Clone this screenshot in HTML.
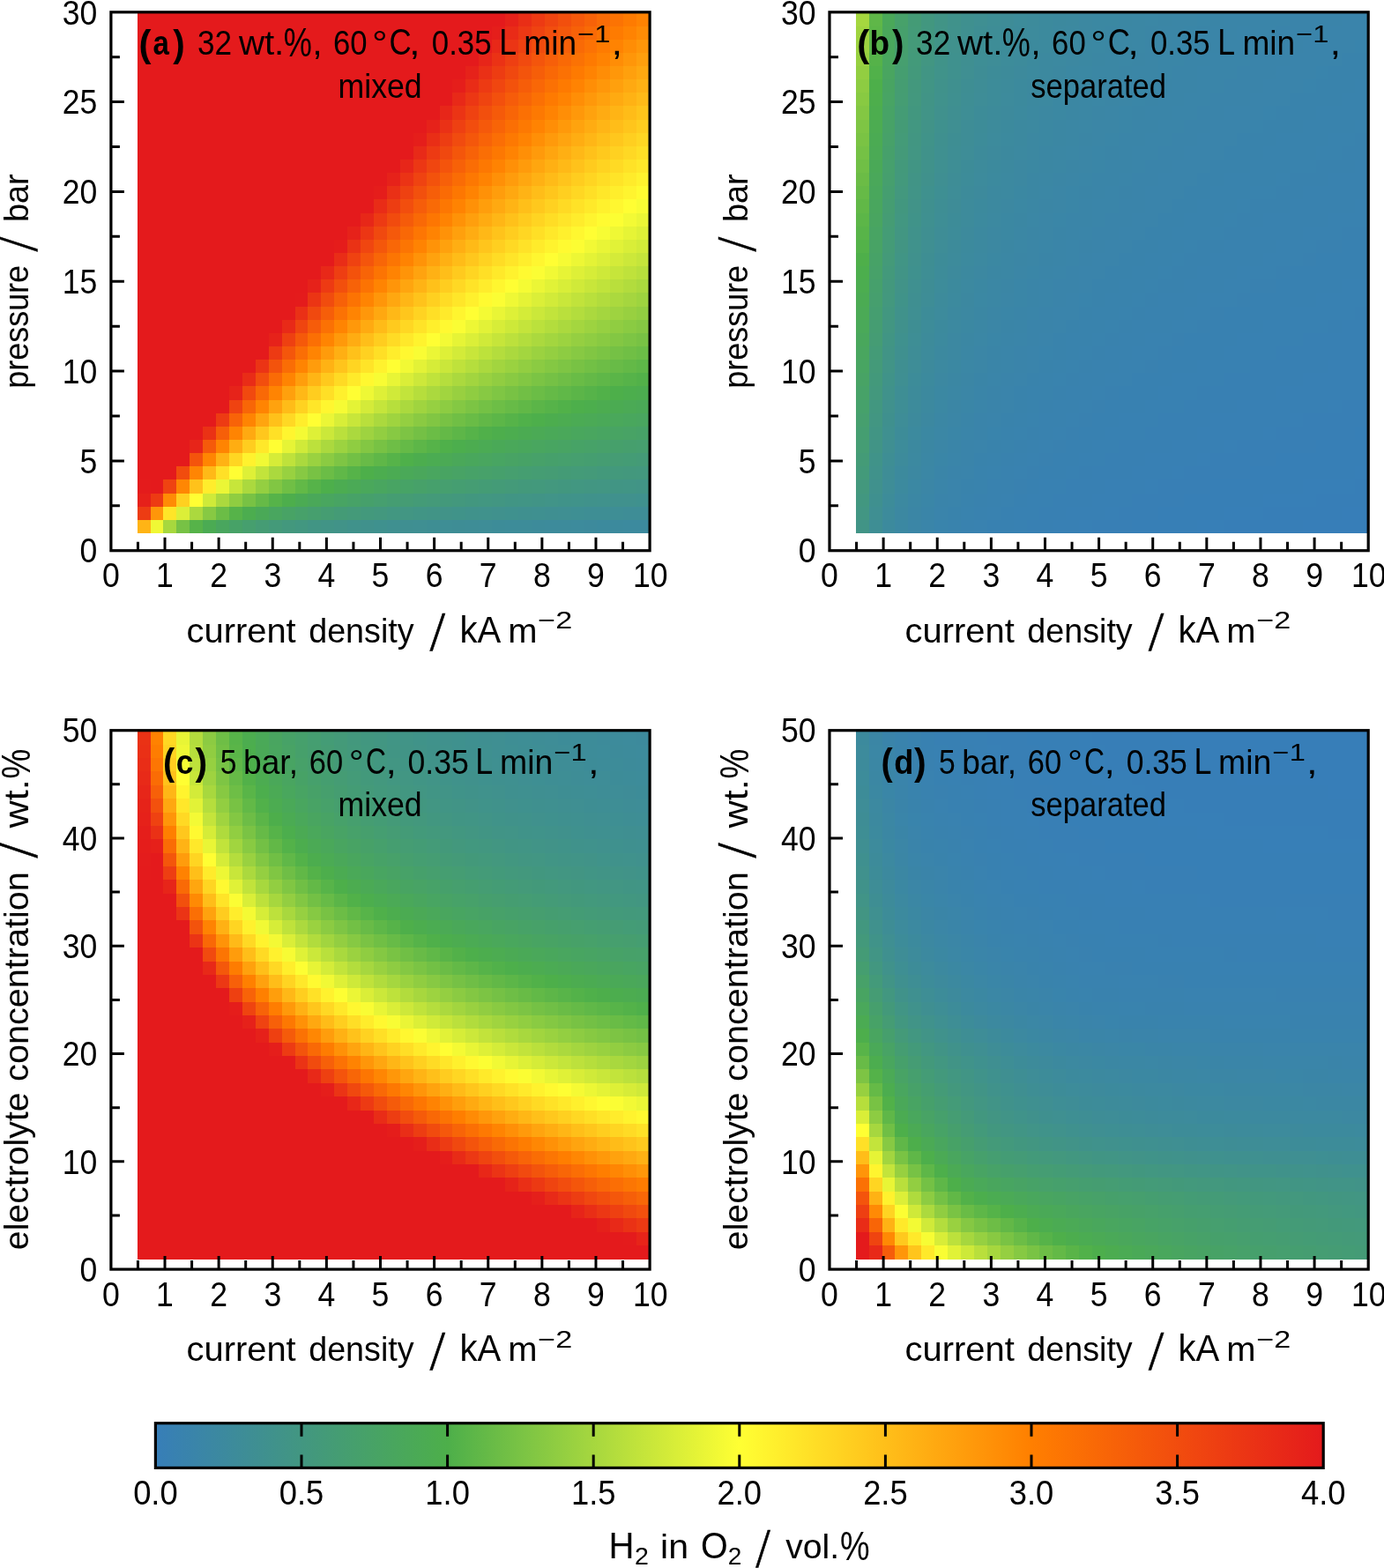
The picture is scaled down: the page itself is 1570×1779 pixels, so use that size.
<!DOCTYPE html>
<html lang="en"><head><meta charset="utf-8"><title>H2 in O2 heatmaps</title>
<style>html,body{margin:0;padding:0;background:#fff}svg{display:block}text{font-family:"Liberation Sans",sans-serif;fill:#000}.t{font-size:38.7px}.l{font-size:39.5px}.sl{font-family:"DejaVu Sans",sans-serif;font-weight:200;stroke:#000;stroke-width:.5px}.ax{fill:none;stroke:#000;stroke-width:3.2;stroke-linejoin:miter}.tk{fill:none;stroke:#000;stroke-width:3}</style></head><body>
<svg width="1570" height="1779" viewBox="0 0 1570 1779">
<rect width="1570" height="1779" fill="#fff"/>
<g shape-rendering="crispEdges">
<path fill="#ffb415" d="M156 590h15v15h-15zM573 226h15v16h-15zM692 120h15v16h-15z"/>
<path fill="#f0f835" d="M171 590h14v15h-14z"/>
<path fill="#a7d83e" d="M185 590h15v15h-15z"/>
<path fill="#77c245" d="M200 590h15v15h-15z"/>
<path fill="#56b349" d="M215 590h15v15h-15zM260 575h15v15h-15zM305 560h15v15h-15zM349 544h15v16h-15zM394 529h15v15h-15zM439 514h15v15h-15zM484 499h15v15h-15zM528 484h15v15h-15zM573 469h15v15h-15zM618 454h15v15h-15zM663 438h14v16h-14zM707 423h15v15h-15z"/>
<path fill="#4bab53" d="M230 590h15v15h-15zM335 560h14v15h-14zM439 529h15v15h-15z"/>
<path fill="#49a65e" d="M245 590h15v15h-15z"/>
<path fill="#47a267" d="M260 590h15v15h-15zM394 560h15v15h-15zM722 484h15v15h-15z"/>
<path fill="#469f6e" d="M275 590h15v15h-15zM349 575h15v15h-15z"/>
<path fill="#459c74" d="M290 590h15v15h-15zM454 560h15v15h-15zM618 529h15v15h-15zM692 514h15v15h-15z"/>
<path fill="#449a79" d="M305 590h15v15h-15zM394 575h15v15h-15zM484 560h15v15h-15zM573 544h15v16h-15zM663 529h14v15h-14z"/>
<path fill="#43987d" d="M320 590h15v15h-15zM513 560h15v15h-15zM707 529h15v15h-15z"/>
<path fill="#429780" d="M335 590h14v15h-14z"/>
<path fill="#419584" d="M349 590h15v15h-15zM573 560h15v15h-15zM692 544h15v16h-15z"/>
<path fill="#419486" d="M364 590h15v15h-15zM484 575h15v15h-15zM603 560h15v15h-15zM722 544h15v16h-15z"/>
<path fill="#419388" d="M379 590h15v15h-15zM499 575h14v15h-14z"/>
<path fill="#40928b" d="M394 590h15v15h-15zM528 575h15v15h-15zM663 560h14v15h-14z"/>
<path fill="#40918c" d="M409 590h15v15h-15z"/>
<path fill="#3f918e" d="M424 590h15v15h-15zM573 575h15v15h-15zM722 560h15v15h-15z"/>
<path fill="#3f9090" d="M439 590h15v15h-15zM603 575h15v15h-15z"/>
<path fill="#3f8f91" d="M454 590h15v15h-15zM618 575h15v15h-15z"/>
<path fill="#3f8f92" d="M469 590h15v15h-15zM633 575h15v15h-15z"/>
<path fill="#3e8e93" d="M484 590h15v15h-15z"/>
<path fill="#3e8e95" d="M499 590h14v15h-14zM692 575h15v15h-15z"/>
<path fill="#3e8d95" d="M513 590h15v15h-15z"/>
<path fill="#3e8d96" d="M528 590h15v15h-15zM707 575h30v15h-30z"/>
<path fill="#3e8d97" d="M543 590h15v15h-15z"/>
<path fill="#3d8c98" d="M558 590h15v15h-15z"/>
<path fill="#3d8c99" d="M573 590h30v15h-30z"/>
<path fill="#3d8b9a" d="M603 590h15v15h-15z"/>
<path fill="#3d8b9b" d="M618 590h30v15h-30z"/>
<path fill="#3d8b9c" d="M648 590h15v15h-15z"/>
<path fill="#3d8a9c" d="M663 590h14v15h-14z"/>
<path fill="#3c8a9d" d="M677 590h30v15h-30z"/>
<path fill="#3c8a9e" d="M707 590h30v15h-30z"/>
<path fill="#ed3c13" d="M156 575h15v15h-15z"/>
<path fill="#ff9609" d="M171 575h14v15h-14zM424 332h15v16h-15zM707 60h15v15h-15zM722 45h15v15h-15z"/>
<path fill="#ffe528" d="M185 575h15v15h-15z"/>
<path fill="#dcef38" d="M200 575h15v15h-15zM677 287h15v15h-15z"/>
<path fill="#abd93e" d="M215 575h15v15h-15zM245 560h15v15h-15zM275 544h15v16h-15zM305 529h15v15h-15zM335 514h14v15h-14zM364 499h15v15h-15zM394 484h15v15h-15zM424 469h15v15h-15zM454 454h15v15h-15zM484 438h15v16h-15zM513 423h15v15h-15zM543 408h15v15h-15zM573 393h15v15h-15zM603 378h15v15h-15zM633 363h15v15h-15zM663 348h14v15h-14zM692 332h15v16h-15zM722 317h15v15h-15z"/>
<path fill="#87c943" d="M230 575h15v15h-15zM335 529h14v15h-14zM439 484h15v15h-15zM543 438h15v16h-15zM648 393h15v15h-15z"/>
<path fill="#6bbd46" d="M245 575h15v15h-15zM364 529h15v15h-15zM484 484h15v15h-15zM603 438h15v16h-15zM722 393h15v15h-15z"/>
<path fill="#4cad4f" d="M275 575h15v15h-15zM424 529h15v15h-15zM573 484h15v15h-15zM722 438h15v16h-15z"/>
<path fill="#4aa957" d="M290 575h15v15h-15zM558 499h15v15h-15zM722 454h15v15h-15z"/>
<path fill="#49a65f" d="M305 575h15v15h-15zM364 560h15v15h-15zM424 544h15v16h-15zM484 529h15v15h-15zM543 514h15v15h-15zM603 499h15v15h-15zM663 484h14v15h-14zM722 469h15v15h-15z"/>
<path fill="#48a365" d="M320 575h15v15h-15zM513 529h15v15h-15zM707 484h15v15h-15z"/>
<path fill="#47a16a" d="M335 575h14v15h-14zM543 529h15v15h-15zM677 499h15v15h-15z"/>
<path fill="#459d72" d="M364 575h15v15h-15zM439 560h15v15h-15zM677 514h15v15h-15z"/>
<path fill="#449b76" d="M379 575h15v15h-15zM633 529h15v15h-15z"/>
<path fill="#43997c" d="M409 575h15v15h-15zM603 544h15v16h-15zM692 529h15v15h-15z"/>
<path fill="#43987e" d="M424 575h15v15h-15zM618 544h15v16h-15zM722 529h15v15h-15z"/>
<path fill="#429781" d="M439 575h15v15h-15zM543 560h15v15h-15zM648 544h15v16h-15z"/>
<path fill="#429683" d="M454 575h15v15h-15zM677 544h15v16h-15z"/>
<path fill="#419585" d="M469 575h15v15h-15zM588 560h15v15h-15zM707 544h15v16h-15z"/>
<path fill="#409389" d="M513 575h15v15h-15zM633 560h15v15h-15z"/>
<path fill="#40928c" d="M543 575h15v15h-15zM677 560h15v15h-15z"/>
<path fill="#40918d" d="M558 575h15v15h-15zM692 560h30v15h-30z"/>
<path fill="#3f908f" d="M588 575h15v15h-15z"/>
<path fill="#3e8f93" d="M648 575h15v15h-15z"/>
<path fill="#3e8e94" d="M663 575h29v15h-29z"/>
<path fill="#e6201a" d="M156 560h15v15h-15z"/>
<path fill="#ed3b13" d="M171 560h14v15h-14zM245 469h15v15h-15z"/>
<path fill="#ff8b05" d="M185 560h15v15h-15z"/>
<path fill="#ffd020" d="M200 560h15v15h-15zM484 332h15v16h-15z"/>
<path fill="#ffff33" d="M215 560h15v15h-15z"/>
<path fill="#cfea39" d="M230 560h15v15h-15z"/>
<path fill="#8fcd41" d="M260 560h15v15h-15zM394 499h15v15h-15zM528 438h15v16h-15z"/>
<path fill="#78c244" d="M275 560h15v15h-15zM349 529h15v15h-15zM424 499h15v15h-15zM499 469h14v15h-14zM573 438h15v16h-15zM648 408h15v15h-15zM722 378h15v15h-15z"/>
<path fill="#66ba47" d="M290 560h15v15h-15z"/>
<path fill="#4dae4c" d="M320 560h15v15h-15zM558 484h15v15h-15z"/>
<path fill="#4aa859" d="M349 560h15v15h-15zM513 514h15v15h-15z"/>
<path fill="#48a463" d="M379 560h15v15h-15zM439 544h15v16h-15zM633 499h15v15h-15zM692 484h15v15h-15z"/>
<path fill="#46a06b" d="M409 560h15v15h-15zM618 514h15v15h-15zM692 499h15v15h-15z"/>
<path fill="#469f6f" d="M424 560h15v15h-15zM499 544h14v16h-14zM573 529h15v15h-15zM648 514h15v15h-15zM722 499h15v15h-15z"/>
<path fill="#449b77" d="M469 560h15v15h-15zM558 544h15v16h-15zM722 514h15v15h-15z"/>
<path fill="#43997b" d="M499 560h14v15h-14zM588 544h15v16h-15zM677 529h15v15h-15z"/>
<path fill="#42977f" d="M528 560h15v15h-15zM633 544h15v16h-15z"/>
<path fill="#429682" d="M558 560h15v15h-15zM663 544h14v16h-14z"/>
<path fill="#419488" d="M618 560h15v15h-15z"/>
<path fill="#40938a" d="M648 560h15v15h-15z"/>
<path fill="#e41b1c" d="M156 544h15v16h-15zM335 332h14v16h-14zM543 45h15v15h-15z"/>
<path fill="#e41a1c" d="M171 544h14v16h-14zM156 529h44v15h-44zM156 514h59v15h-59zM156 499h59v15h-59zM156 484h74v15h-74zM156 469h89v15h-89zM156 454h104v15h-104zM156 438h104v16h-104zM156 423h119v15h-119zM156 408h134v15h-134zM156 393h149v15h-149zM156 378h149v15h-149zM156 363h164v15h-164zM156 348h179v15h-179zM156 332h179v16h-179zM156 317h193v15h-193zM156 302h208v15h-208zM156 287h223v15h-223zM156 272h223v15h-223zM156 257h238v15h-238zM156 242h253v15h-253zM156 226h268v16h-268zM156 211h268v15h-268zM156 196h283v15h-283zM156 181h298v15h-298zM156 166h313v15h-313zM156 151h313v15h-313zM156 136h328v15h-328zM156 120h343v16h-343zM156 105h357v15h-357zM156 90h357v15h-357zM156 75h372v15h-372zM156 60h387v15h-387zM156 45h387v15h-387zM156 30h402v15h-402zM156 14h417v16h-417z"/>
<path fill="#ef4311" d="M185 544h15v16h-15zM260 454h15v15h-15zM469 196h15v15h-15zM603 30h15v15h-15z"/>
<path fill="#ff8703" d="M200 544h15v16h-15z"/>
<path fill="#ffc21b" d="M215 544h15v16h-15zM648 181h15v15h-15z"/>
<path fill="#ffed2c" d="M230 544h15v16h-15zM335 469h14v15h-14zM439 393h15v15h-15z"/>
<path fill="#ebf636" d="M245 544h15v16h-15zM364 469h15v15h-15zM484 393h15v15h-15zM603 317h15v15h-15zM722 242h15v15h-15z"/>
<path fill="#c7e63a" d="M260 544h15v16h-15z"/>
<path fill="#94cf41" d="M290 544h15v16h-15zM454 469h15v15h-15zM618 393h15v15h-15z"/>
<path fill="#81c643" d="M305 544h15v16h-15zM484 469h15v15h-15zM663 393h14v15h-14z"/>
<path fill="#70bf45" d="M320 544h15v16h-15zM513 469h15v15h-15zM707 393h15v15h-15z"/>
<path fill="#62b947" d="M335 544h14v16h-14z"/>
<path fill="#4daf4b" d="M364 544h15v16h-15zM603 469h15v15h-15zM648 454h15v15h-15z"/>
<path fill="#4cac51" d="M379 544h15v16h-15zM633 469h15v15h-15z"/>
<path fill="#4baa56" d="M394 544h15v16h-15zM663 469h14v15h-14z"/>
<path fill="#4aa85b" d="M409 544h15v16h-15zM692 469h15v15h-15z"/>
<path fill="#47a366" d="M454 544h15v16h-15zM648 499h15v15h-15z"/>
<path fill="#47a169" d="M469 544h15v16h-15zM603 514h15v15h-15z"/>
<path fill="#46a06c" d="M484 544h15v16h-15zM558 529h15v15h-15z"/>
<path fill="#459e71" d="M513 544h15v16h-15zM588 529h15v15h-15z"/>
<path fill="#459d73" d="M528 544h15v16h-15zM603 529h15v15h-15z"/>
<path fill="#449c75" d="M543 544h15v16h-15zM707 514h15v15h-15z"/>
<path fill="#f14c0e" d="M200 529h15v15h-15zM364 332h15v16h-15zM603 45h15v15h-15z"/>
<path fill="#ff8503" d="M215 529h15v15h-15z"/>
<path fill="#ffb917" d="M230 529h15v15h-15zM633 181h15v15h-15z"/>
<path fill="#ffe027" d="M245 529h15v15h-15z"/>
<path fill="#fffe33" d="M260 529h15v15h-15zM305 499h15v15h-15zM349 469h15v15h-15zM394 438h15v16h-15zM439 408h15v15h-15zM484 378h15v15h-15zM528 348h15v15h-15zM573 317h15v15h-15zM618 287h15v15h-15zM663 257h14v15h-14zM707 226h15v16h-15z"/>
<path fill="#def037" d="M275 529h15v15h-15zM349 484h15v15h-15zM424 438h15v16h-15zM499 393h14v15h-14zM573 348h15v15h-15zM648 302h15v15h-15zM722 257h15v15h-15z"/>
<path fill="#c2e43b" d="M290 529h15v15h-15zM454 438h15v16h-15zM618 348h15v15h-15z"/>
<path fill="#98d140" d="M320 529h15v15h-15z"/>
<path fill="#60b848" d="M379 529h15v15h-15zM633 438h15v16h-15z"/>
<path fill="#4daf4a" d="M409 529h15v15h-15zM692 438h15v16h-15z"/>
<path fill="#4aa958" d="M454 529h15v15h-15zM618 484h15v15h-15zM677 469h15v15h-15z"/>
<path fill="#4aa75b" d="M469 529h15v15h-15z"/>
<path fill="#48a462" d="M499 529h14v15h-14z"/>
<path fill="#47a268" d="M528 529h15v15h-15zM663 499h14v15h-14z"/>
<path fill="#449b78" d="M648 529h15v15h-15z"/>
<path fill="#f4540c" d="M215 514h15v15h-15zM499 181h14v15h-14z"/>
<path fill="#ff8502" d="M230 514h15v15h-15z"/>
<path fill="#ffb214" d="M245 514h15v15h-15zM364 408h15v15h-15zM707 105h15v15h-15z"/>
<path fill="#ffd622" d="M260 514h15v15h-15z"/>
<path fill="#fff22e" d="M275 514h15v15h-15zM424 408h15v15h-15zM573 302h15v15h-15zM722 196h15v15h-15z"/>
<path fill="#f1f935" d="M290 514h15v15h-15zM454 408h15v15h-15zM618 302h15v15h-15z"/>
<path fill="#d6ec38" d="M305 514h15v15h-15zM484 408h15v15h-15z"/>
<path fill="#bfe23b" d="M320 514h15v15h-15zM513 408h15v15h-15zM707 302h15v15h-15z"/>
<path fill="#9ad240" d="M349 514h15v15h-15zM573 408h15v15h-15z"/>
<path fill="#8bcb42" d="M364 514h15v15h-15zM603 408h15v15h-15z"/>
<path fill="#7ec544" d="M379 514h15v15h-15zM633 408h15v15h-15z"/>
<path fill="#72c045" d="M394 514h15v15h-15zM663 408h14v15h-14z"/>
<path fill="#68bb47" d="M409 514h15v15h-15zM692 408h15v15h-15z"/>
<path fill="#5fb748" d="M424 514h15v15h-15zM677 423h15v15h-15z"/>
<path fill="#4eb04a" d="M454 514h15v15h-15z"/>
<path fill="#4cad4e" d="M469 514h15v15h-15zM618 469h15v15h-15z"/>
<path fill="#4bac52" d="M484 514h15v15h-15z"/>
<path fill="#4baa55" d="M499 514h14v15h-14zM603 484h15v15h-15zM707 454h15v15h-15z"/>
<path fill="#49a75c" d="M528 514h15v15h-15zM588 499h15v15h-15z"/>
<path fill="#48a562" d="M558 514h15v15h-15z"/>
<path fill="#48a364" d="M573 514h15v15h-15z"/>
<path fill="#47a266" d="M588 514h15v15h-15z"/>
<path fill="#46a06d" d="M633 514h15v15h-15z"/>
<path fill="#459e70" d="M663 514h14v15h-14z"/>
<path fill="#e72519" d="M215 499h15v15h-15zM543 60h15v15h-15z"/>
<path fill="#f55a0a" d="M230 499h15v15h-15zM558 120h15v16h-15z"/>
<path fill="#ff8402" d="M245 499h15v15h-15zM260 484h15v15h-15zM275 469h15v15h-15zM290 454h15v15h-15zM305 438h15v16h-15zM320 423h15v15h-15zM335 408h14v15h-14zM349 393h15v15h-15zM364 378h15v15h-15zM379 363h15v15h-15zM394 348h15v15h-15zM409 332h15v16h-15zM424 317h15v15h-15z"/>
<path fill="#ffad12" d="M260 499h15v15h-15zM648 151h15v15h-15z"/>
<path fill="#ffcd1f" d="M275 499h15v15h-15zM349 438h15v16h-15zM424 378h15v15h-15zM499 317h14v15h-14zM573 257h15v15h-15zM648 196h15v15h-15zM722 136h15v15h-15z"/>
<path fill="#ffe82a" d="M290 499h15v15h-15zM454 378h15v15h-15zM618 257h15v15h-15zM722 181h15v15h-15z"/>
<path fill="#e6f436" d="M320 499h15v15h-15zM513 378h15v15h-15zM707 257h15v15h-15z"/>
<path fill="#d0ea39" d="M335 499h14v15h-14zM439 438h15v16h-15zM543 378h15v15h-15zM648 317h15v15h-15z"/>
<path fill="#bce13c" d="M349 499h15v15h-15zM573 378h15v15h-15z"/>
<path fill="#9cd340" d="M379 499h15v15h-15zM633 378h15v15h-15z"/>
<path fill="#83c743" d="M409 499h15v15h-15zM692 378h15v15h-15z"/>
<path fill="#6ebe46" d="M439 499h15v15h-15z"/>
<path fill="#65ba47" d="M454 499h15v15h-15zM618 438h15v16h-15z"/>
<path fill="#5db648" d="M469 499h15v15h-15zM513 484h15v15h-15z"/>
<path fill="#4fb04a" d="M499 499h14v15h-14z"/>
<path fill="#4cae4d" d="M513 499h15v15h-15zM663 454h14v15h-14zM707 438h15v16h-15z"/>
<path fill="#4cac50" d="M528 499h15v15h-15zM677 454h15v15h-15z"/>
<path fill="#4bab54" d="M543 499h15v15h-15zM648 469h15v15h-15z"/>
<path fill="#4aa85a" d="M573 499h15v15h-15zM633 484h15v15h-15z"/>
<path fill="#48a561" d="M618 499h15v15h-15zM677 484h15v15h-15z"/>
<path fill="#469f6d" d="M707 499h15v15h-15z"/>
<path fill="#ea3215" d="M230 484h15v15h-15zM394 272h15v15h-15z"/>
<path fill="#f65f09" d="M245 484h15v15h-15z"/>
<path fill="#ffa911" d="M275 484h15v15h-15zM558 226h15v16h-15zM707 90h15v15h-15z"/>
<path fill="#ffc71d" d="M290 484h15v15h-15zM528 287h15v15h-15zM692 151h15v15h-15z"/>
<path fill="#ffe026" d="M305 484h15v15h-15z"/>
<path fill="#fff52f" d="M320 484h15v15h-15zM513 348h15v15h-15z"/>
<path fill="#f4fa34" d="M335 484h14v15h-14zM543 348h15v15h-15z"/>
<path fill="#cbe83a" d="M364 484h15v15h-15zM603 348h15v15h-15z"/>
<path fill="#bae03c" d="M379 484h15v15h-15zM633 348h15v15h-15z"/>
<path fill="#9ed340" d="M409 484h15v15h-15zM692 348h15v15h-15z"/>
<path fill="#92ce41" d="M424 484h15v15h-15zM588 408h15v15h-15zM722 348h15v15h-15z"/>
<path fill="#7dc444" d="M454 484h15v15h-15z"/>
<path fill="#74c045" d="M469 484h15v15h-15z"/>
<path fill="#64b947" d="M499 484h14v15h-14zM663 423h14v15h-14z"/>
<path fill="#50b04a" d="M543 484h15v15h-15z"/>
<path fill="#4bab52" d="M588 484h15v15h-15zM692 454h15v15h-15z"/>
<path fill="#49a75d" d="M648 484h15v15h-15zM707 469h15v15h-15z"/>
<path fill="#f86308" d="M260 469h15v15h-15zM543 151h15v15h-15z"/>
<path fill="#ffa50f" d="M290 469h15v15h-15zM454 317h15v15h-15zM618 166h15v15h-15z"/>
<path fill="#ffc11a" d="M305 469h15v15h-15zM394 393h15v15h-15zM484 317h15v15h-15zM573 242h15v15h-15zM663 166h14v15h-14z"/>
<path fill="#ffd824" d="M320 469h15v15h-15zM513 317h15v15h-15zM707 166h15v15h-15z"/>
<path fill="#d8ee38" d="M379 469h15v15h-15zM633 317h15v15h-15z"/>
<path fill="#c8e63a" d="M394 469h15v15h-15zM528 393h15v15h-15zM663 317h14v15h-14z"/>
<path fill="#b9df3c" d="M409 469h15v15h-15zM692 317h15v15h-15z"/>
<path fill="#9fd43f" d="M439 469h15v15h-15z"/>
<path fill="#8aca42" d="M469 469h15v15h-15z"/>
<path fill="#69bc46" d="M528 469h15v15h-15zM648 423h15v15h-15z"/>
<path fill="#62b847" d="M543 469h15v15h-15z"/>
<path fill="#5cb648" d="M558 469h15v15h-15z"/>
<path fill="#50b14a" d="M588 469h15v15h-15z"/>
<path fill="#f86607" d="M275 454h15v15h-15zM424 287h15v15h-15zM588 105h15v15h-15z"/>
<path fill="#ffa20e" d="M305 454h15v15h-15zM484 287h15v15h-15zM663 120h14v16h-14z"/>
<path fill="#ffbc18" d="M320 454h15v15h-15zM513 287h15v15h-15zM707 120h15v16h-15z"/>
<path fill="#ffd221" d="M335 454h14v15h-14zM543 287h15v15h-15z"/>
<path fill="#ffe629" d="M349 454h15v15h-15zM513 332h15v16h-15z"/>
<path fill="#fff630" d="M364 454h15v15h-15zM603 287h15v15h-15z"/>
<path fill="#f6fb34" d="M379 454h15v15h-15zM633 287h15v15h-15z"/>
<path fill="#e4f336" d="M394 454h15v15h-15zM663 287h14v15h-14z"/>
<path fill="#d4eb39" d="M409 454h15v15h-15zM692 287h15v15h-15z"/>
<path fill="#c5e53b" d="M424 454h15v15h-15zM722 287h15v15h-15z"/>
<path fill="#b7df3c" d="M439 454h15v15h-15z"/>
<path fill="#a0d43f" d="M469 454h15v15h-15z"/>
<path fill="#96d041" d="M484 454h15v15h-15zM677 363h15v15h-15z"/>
<path fill="#8dcc42" d="M499 454h14v15h-14zM633 393h15v15h-15z"/>
<path fill="#84c843" d="M513 454h15v15h-15zM618 408h15v15h-15z"/>
<path fill="#7cc444" d="M528 454h15v15h-15z"/>
<path fill="#74c145" d="M543 454h15v15h-15z"/>
<path fill="#6dbe46" d="M558 454h15v15h-15z"/>
<path fill="#67bb47" d="M573 454h15v15h-15z"/>
<path fill="#61b847" d="M588 454h15v15h-15z"/>
<path fill="#5bb548" d="M603 454h15v15h-15zM648 438h15v16h-15z"/>
<path fill="#51b149" d="M633 454h15v15h-15zM677 438h15v16h-15z"/>
<path fill="#e6231a" d="M260 438h15v16h-15z"/>
<path fill="#f1490f" d="M275 438h15v16h-15z"/>
<path fill="#f96906" d="M290 438h15v16h-15zM469 242h15v15h-15zM633 60h15v15h-15z"/>
<path fill="#ffa00d" d="M320 438h15v16h-15zM513 257h15v15h-15zM692 90h15v15h-15zM707 75h15v15h-15z"/>
<path fill="#ffb817" d="M335 438h14v16h-14zM439 348h15v15h-15zM543 257h15v15h-15zM648 166h15v15h-15z"/>
<path fill="#ffdf26" d="M364 438h15v16h-15zM424 393h15v15h-15zM484 348h15v15h-15zM543 302h15v15h-15zM603 257h15v15h-15zM663 211h14v15h-14zM722 166h15v15h-15z"/>
<path fill="#fff02d" d="M379 438h15v16h-15zM528 332h15v16h-15zM633 257h15v15h-15z"/>
<path fill="#eef835" d="M409 438h15v16h-15z"/>
<path fill="#b6de3c" d="M469 438h15v16h-15z"/>
<path fill="#a1d53f" d="M499 438h14v16h-14z"/>
<path fill="#98d040" d="M513 438h15v16h-15zM707 348h15v15h-15z"/>
<path fill="#7fc644" d="M558 438h15v16h-15z"/>
<path fill="#71bf45" d="M588 438h15v16h-15z"/>
<path fill="#e92c17" d="M275 423h15v15h-15zM424 226h15v16h-15zM528 90h15v15h-15z"/>
<path fill="#f24e0e" d="M290 423h15v15h-15zM454 226h15v16h-15zM618 30h15v15h-15z"/>
<path fill="#fa6b06" d="M305 423h15v15h-15zM677 14h15v16h-15z"/>
<path fill="#ff9e0c" d="M335 423h14v15h-14zM543 226h15v16h-15z"/>
<path fill="#ffb515" d="M349 423h15v15h-15z"/>
<path fill="#ffc91d" d="M364 423h15v15h-15zM677 166h15v15h-15z"/>
<path fill="#ffda24" d="M379 423h15v15h-15zM633 226h15v16h-15zM692 181h15v15h-15z"/>
<path fill="#ffea2a" d="M394 423h15v15h-15z"/>
<path fill="#fff830" d="M409 423h15v15h-15zM454 393h15v15h-15z"/>
<path fill="#f8fc34" d="M424 423h15v15h-15zM722 226h15v16h-15z"/>
<path fill="#e8f536" d="M439 423h15v15h-15z"/>
<path fill="#daee38" d="M454 423h15v15h-15z"/>
<path fill="#cde83a" d="M469 423h15v15h-15z"/>
<path fill="#c0e33b" d="M484 423h15v15h-15zM677 317h15v15h-15z"/>
<path fill="#b5de3d" d="M499 423h14v15h-14zM528 408h15v15h-15z"/>
<path fill="#a2d53f" d="M528 423h15v15h-15zM558 408h15v15h-15z"/>
<path fill="#99d140" d="M543 423h15v15h-15z"/>
<path fill="#91cd41" d="M558 423h15v15h-15z"/>
<path fill="#89ca42" d="M573 423h15v15h-15zM677 378h15v15h-15z"/>
<path fill="#82c743" d="M588 423h15v15h-15z"/>
<path fill="#7bc444" d="M603 423h15v15h-15zM677 393h15v15h-15z"/>
<path fill="#75c145" d="M618 423h15v15h-15zM692 393h15v15h-15z"/>
<path fill="#6fbe46" d="M633 423h15v15h-15z"/>
<path fill="#5ab548" d="M692 423h15v15h-15z"/>
<path fill="#52b149" d="M722 423h15v15h-15z"/>
<path fill="#eb3415" d="M290 408h15v15h-15zM513 120h15v16h-15z"/>
<path fill="#f3530c" d="M305 408h15v15h-15z"/>
<path fill="#fa6d05" d="M320 408h15v15h-15zM528 181h15v15h-15z"/>
<path fill="#ff9c0c" d="M349 408h15v15h-15zM573 196h15v15h-15z"/>
<path fill="#ffc41c" d="M379 408h15v15h-15zM633 196h15v15h-15z"/>
<path fill="#ffd522" d="M394 408h15v15h-15zM528 302h15v15h-15zM663 196h14v15h-14z"/>
<path fill="#ffe428" d="M409 408h15v15h-15zM692 196h15v15h-15z"/>
<path fill="#e3f237" d="M469 408h15v15h-15z"/>
<path fill="#cae73a" d="M499 408h14v15h-14z"/>
<path fill="#6dbd46" d="M677 408h15v15h-15z"/>
<path fill="#63b947" d="M707 408h15v15h-15z"/>
<path fill="#5eb748" d="M722 408h15v15h-15z"/>
<path fill="#ed3a13" d="M305 393h15v15h-15zM364 317h15v15h-15zM424 242h15v15h-15zM484 166h15v15h-15zM543 90h15v15h-15zM603 14h15v16h-15z"/>
<path fill="#f4560b" d="M320 393h15v15h-15zM513 166h15v15h-15zM618 45h15v15h-15z"/>
<path fill="#fa6e05" d="M335 393h14v15h-14zM543 166h15v15h-15z"/>
<path fill="#ff9b0b" d="M364 393h15v15h-15zM588 181h15v15h-15z"/>
<path fill="#ffaf13" d="M379 393h15v15h-15zM633 166h15v15h-15z"/>
<path fill="#ffd121" d="M409 393h15v15h-15zM618 226h15v16h-15zM692 166h15v15h-15z"/>
<path fill="#f9fc34" d="M469 393h15v15h-15z"/>
<path fill="#d3eb39" d="M513 393h15v15h-15z"/>
<path fill="#bde23b" d="M543 393h15v15h-15z"/>
<path fill="#b4dd3d" d="M558 393h15v15h-15z"/>
<path fill="#a3d63f" d="M588 393h15v15h-15zM618 378h15v15h-15z"/>
<path fill="#9bd240" d="M603 393h15v15h-15z"/>
<path fill="#e6221a" d="M305 378h15v15h-15zM349 317h15v15h-15zM394 257h15v15h-15zM439 196h15v15h-15zM484 136h15v15h-15zM528 75h15v15h-15zM573 14h15v16h-15z"/>
<path fill="#ee4011" d="M320 378h15v15h-15z"/>
<path fill="#f5590a" d="M335 378h14v15h-14z"/>
<path fill="#fb6f04" d="M349 378h15v15h-15zM573 136h15v15h-15z"/>
<path fill="#ff990a" d="M379 378h15v15h-15zM633 136h15v15h-15z"/>
<path fill="#ffac12" d="M394 378h15v15h-15zM528 257h15v15h-15zM663 136h14v15h-14z"/>
<path fill="#ffbe19" d="M409 378h15v15h-15zM499 302h14v15h-14z"/>
<path fill="#ffdb25" d="M439 378h15v15h-15z"/>
<path fill="#fff32e" d="M469 378h15v15h-15zM618 272h15v15h-15z"/>
<path fill="#f3fa35" d="M499 378h14v15h-14zM707 242h15v15h-15z"/>
<path fill="#dbef38" d="M528 378h15v15h-15zM603 332h15v16h-15z"/>
<path fill="#c6e53a" d="M558 378h15v15h-15zM692 302h15v15h-15z"/>
<path fill="#b3dd3d" d="M588 378h15v15h-15zM618 363h15v15h-15zM648 348h15v15h-15z"/>
<path fill="#95cf41" d="M648 378h15v15h-15z"/>
<path fill="#8fcd42" d="M663 378h14v15h-14z"/>
<path fill="#7dc544" d="M707 378h15v15h-15z"/>
<path fill="#e82a18" d="M320 363h15v15h-15zM469 166h15v15h-15z"/>
<path fill="#ef4510" d="M335 363h14v15h-14zM618 14h15v16h-15z"/>
<path fill="#f65c0a" d="M349 363h15v15h-15zM573 105h15v15h-15z"/>
<path fill="#fb7104" d="M364 363h15v15h-15zM618 90h15v15h-15zM633 75h15v15h-15z"/>
<path fill="#ff980a" d="M394 363h15v15h-15zM648 120h15v16h-15zM663 105h14v15h-14z"/>
<path fill="#ffaa11" d="M409 363h15v15h-15zM692 105h15v15h-15z"/>
<path fill="#ffbb18" d="M424 363h15v15h-15zM618 196h15v15h-15z"/>
<path fill="#ffca1e" d="M439 363h15v15h-15zM513 302h15v15h-15z"/>
<path fill="#ffd723" d="M454 363h15v15h-15zM648 211h15v15h-15z"/>
<path fill="#ffe328" d="M469 363h15v15h-15zM528 317h15v15h-15z"/>
<path fill="#ffef2c" d="M484 363h15v15h-15z"/>
<path fill="#fff931" d="M499 363h14v15h-14z"/>
<path fill="#fafd34" d="M513 363h15v15h-15z"/>
<path fill="#edf735" d="M528 363h15v15h-15zM648 287h15v15h-15z"/>
<path fill="#e2f237" d="M543 363h15v15h-15z"/>
<path fill="#d7ed38" d="M558 363h15v15h-15z"/>
<path fill="#cde939" d="M573 363h15v15h-15z"/>
<path fill="#c4e43b" d="M588 363h15v15h-15z"/>
<path fill="#bbe13c" d="M603 363h15v15h-15z"/>
<path fill="#a4d63f" d="M648 363h15v15h-15zM677 348h15v15h-15z"/>
<path fill="#9dd340" d="M663 363h14v15h-14z"/>
<path fill="#90cd41" d="M692 363h15v15h-15z"/>
<path fill="#8acb42" d="M707 363h15v15h-15z"/>
<path fill="#85c843" d="M722 363h15v15h-15z"/>
<path fill="#ea3016" d="M335 348h14v15h-14zM439 211h15v15h-15zM543 75h15v15h-15z"/>
<path fill="#f0490f" d="M349 348h15v15h-15zM424 257h15v15h-15z"/>
<path fill="#f65e09" d="M364 348h15v15h-15zM484 211h15v15h-15zM603 75h15v15h-15z"/>
<path fill="#fb7204" d="M379 348h15v15h-15zM648 60h15v15h-15z"/>
<path fill="#ff970a" d="M409 348h15v15h-15zM677 90h15v15h-15z"/>
<path fill="#ffa810" d="M424 348h15v15h-15zM573 211h15v15h-15zM722 75h15v15h-15z"/>
<path fill="#ffc61c" d="M454 348h15v15h-15zM618 211h15v15h-15z"/>
<path fill="#ffd322" d="M469 348h15v15h-15z"/>
<path fill="#ffea2b" d="M499 348h14v15h-14z"/>
<path fill="#e9f536" d="M558 348h15v15h-15zM677 272h15v15h-15z"/>
<path fill="#d4ec38" d="M588 348h15v15h-15z"/>
<path fill="#eb3514" d="M349 332h15v16h-15z"/>
<path fill="#f76108" d="M379 332h15v16h-15zM513 181h15v15h-15zM648 30h15v15h-15z"/>
<path fill="#fc7303" d="M394 332h15v16h-15zM409 317h15v15h-15zM677 30h15v15h-15zM692 14h15v16h-15z"/>
<path fill="#ffa710" d="M439 332h15v16h-15zM588 196h15v15h-15z"/>
<path fill="#ffb616" d="M454 332h15v16h-15zM558 242h15v15h-15zM663 151h14v15h-14z"/>
<path fill="#ffc31b" d="M469 332h15v16h-15zM558 257h15v15h-15z"/>
<path fill="#ffdc25" d="M499 332h14v16h-14zM558 287h15v15h-15z"/>
<path fill="#fffa31" d="M543 332h15v16h-15zM588 302h15v15h-15zM633 272h15v15h-15z"/>
<path fill="#fbfd34" d="M558 332h15v16h-15zM603 302h15v15h-15z"/>
<path fill="#eff835" d="M573 332h15v16h-15zM692 257h15v15h-15z"/>
<path fill="#e5f336" d="M588 332h15v16h-15z"/>
<path fill="#d2eb39" d="M618 332h15v16h-15zM722 272h15v15h-15z"/>
<path fill="#c9e73a" d="M633 332h15v16h-15z"/>
<path fill="#c1e33b" d="M648 332h15v16h-15z"/>
<path fill="#b9e03c" d="M663 332h14v16h-14z"/>
<path fill="#b2dc3d" d="M677 332h15v16h-15zM707 317h15v15h-15z"/>
<path fill="#a5d63f" d="M707 332h15v16h-15z"/>
<path fill="#9ed43f" d="M722 332h15v16h-15z"/>
<path fill="#f24f0d" d="M379 317h15v15h-15zM543 120h15v16h-15zM633 14h15v16h-15z"/>
<path fill="#f76208" d="M394 317h15v15h-15zM528 166h15v15h-15zM663 14h14v16h-14z"/>
<path fill="#ff9509" d="M439 317h15v15h-15z"/>
<path fill="#ffb315" d="M469 317h15v15h-15zM588 211h15v15h-15z"/>
<path fill="#ffec2c" d="M543 317h15v15h-15zM648 242h15v15h-15z"/>
<path fill="#fff62f" d="M558 317h15v15h-15z"/>
<path fill="#f5fb34" d="M588 317h15v15h-15z"/>
<path fill="#e1f237" d="M618 317h15v15h-15zM692 272h15v15h-15z"/>
<path fill="#e82818" d="M364 302h15v15h-15zM558 45h15v15h-15z"/>
<path fill="#ee3e12" d="M379 302h15v15h-15z"/>
<path fill="#f3520c" d="M394 302h15v15h-15zM484 196h15v15h-15zM573 90h15v15h-15z"/>
<path fill="#f86407" d="M409 302h15v15h-15zM558 136h15v15h-15z"/>
<path fill="#fc7403" d="M424 302h15v15h-15z"/>
<path fill="#ff8302" d="M439 302h15v15h-15zM454 287h15v15h-15zM469 272h15v15h-15zM484 257h15v15h-15zM499 242h14v15h-14zM513 226h15v16h-15zM528 211h15v15h-15zM543 196h15v15h-15zM558 181h15v15h-15zM573 166h15v15h-15zM588 151h15v15h-15zM603 136h15v15h-15zM618 120h15v16h-15zM633 105h15v15h-15zM648 90h15v15h-15zM663 75h14v15h-14zM677 60h15v15h-15zM692 45h15v15h-15zM707 30h15v15h-15zM722 14h15v16h-15z"/>
<path fill="#ff9408" d="M454 302h15v15h-15z"/>
<path fill="#ffa30f" d="M469 302h15v15h-15z"/>
<path fill="#ffb114" d="M484 302h15v15h-15zM603 196h15v15h-15zM722 90h15v15h-15z"/>
<path fill="#ffe92a" d="M558 302h15v15h-15zM663 226h14v16h-14z"/>
<path fill="#e7f436" d="M633 302h15v15h-15z"/>
<path fill="#d6ed38" d="M663 302h14v15h-14z"/>
<path fill="#cee939" d="M677 302h15v15h-15z"/>
<path fill="#b8df3c" d="M722 302h15v15h-15z"/>
<path fill="#e92d17" d="M379 287h15v15h-15z"/>
<path fill="#ef4211" d="M394 287h15v15h-15zM528 120h15v16h-15z"/>
<path fill="#f4550c" d="M409 287h15v15h-15zM603 60h15v15h-15z"/>
<path fill="#fc7503" d="M439 287h15v15h-15zM454 272h15v15h-15z"/>
<path fill="#ff9308" d="M469 287h15v15h-15zM484 272h15v15h-15z"/>
<path fill="#ffb013" d="M499 287h14v15h-14zM618 181h15v15h-15z"/>
<path fill="#ffe529" d="M573 287h15v15h-15zM633 242h15v15h-15z"/>
<path fill="#ffee2c" d="M588 287h15v15h-15zM692 211h15v15h-15z"/>
<path fill="#cce83a" d="M707 287h15v15h-15z"/>
<path fill="#e51c1b" d="M379 272h15v15h-15z"/>
<path fill="#f04610" d="M409 272h15v15h-15zM484 181h15v15h-15zM558 90h15v15h-15z"/>
<path fill="#f4570b" d="M424 272h15v15h-15zM528 151h15v15h-15z"/>
<path fill="#f96707" d="M439 272h15v15h-15zM603 90h15v15h-15z"/>
<path fill="#ffa10d" d="M499 272h14v15h-14z"/>
<path fill="#ffae13" d="M513 272h15v15h-15z"/>
<path fill="#ffba17" d="M528 272h15v15h-15z"/>
<path fill="#ffc51c" d="M543 272h15v15h-15zM707 136h15v15h-15z"/>
<path fill="#ffcf20" d="M558 272h15v15h-15zM633 211h15v15h-15zM707 151h15v15h-15z"/>
<path fill="#ffd924" d="M573 272h15v15h-15z"/>
<path fill="#ffe228" d="M588 272h15v15h-15z"/>
<path fill="#ffeb2b" d="M603 272h15v15h-15zM707 196h15v15h-15z"/>
<path fill="#fcfd33" d="M648 272h15v15h-15z"/>
<path fill="#f2f935" d="M663 272h14v15h-14z"/>
<path fill="#d9ee38" d="M707 272h15v15h-15z"/>
<path fill="#ec3614" d="M409 257h15v15h-15z"/>
<path fill="#f5590b" d="M439 257h15v15h-15zM543 136h15v15h-15zM648 14h15v16h-15z"/>
<path fill="#f96806" d="M454 257h15v15h-15zM618 75h15v15h-15z"/>
<path fill="#fd7603" d="M469 257h15v15h-15z"/>
<path fill="#ff9208" d="M499 257h14v15h-14z"/>
<path fill="#ffd623" d="M588 257h15v15h-15zM722 151h15v15h-15z"/>
<path fill="#fff730" d="M648 257h15v15h-15zM692 226h15v16h-15z"/>
<path fill="#f7fc34" d="M677 257h15v15h-15z"/>
<path fill="#e72718" d="M409 242h15v15h-15z"/>
<path fill="#f14b0e" d="M439 242h15v15h-15z"/>
<path fill="#f55b0a" d="M454 242h15v15h-15z"/>
<path fill="#fd7602" d="M484 242h15v15h-15z"/>
<path fill="#ff9207" d="M513 242h15v15h-15z"/>
<path fill="#ff9f0d" d="M528 242h15v15h-15zM722 60h15v15h-15z"/>
<path fill="#ffab11" d="M543 242h15v15h-15z"/>
<path fill="#ffcb1e" d="M588 242h15v15h-15zM663 181h14v15h-14z"/>
<path fill="#ffd422" d="M603 242h15v15h-15z"/>
<path fill="#ffdd25" d="M618 242h15v15h-15zM677 196h15v15h-15z"/>
<path fill="#fff42f" d="M663 242h14v15h-14zM707 211h15v15h-15z"/>
<path fill="#fffb31" d="M677 242h15v15h-15zM722 211h15v15h-15z"/>
<path fill="#fcfe33" d="M692 242h15v15h-15z"/>
<path fill="#ed3d12" d="M439 226h15v16h-15zM499 151h14v15h-14z"/>
<path fill="#f65d0a" d="M469 226h15v16h-15z"/>
<path fill="#f96a06" d="M484 226h15v16h-15zM648 45h15v15h-15zM663 30h14v15h-14z"/>
<path fill="#fd7702" d="M499 226h14v16h-14zM513 211h15v15h-15z"/>
<path fill="#ff9107" d="M528 226h15v16h-15zM543 211h15v15h-15z"/>
<path fill="#ffbf19" d="M588 226h15v16h-15zM677 151h15v15h-15z"/>
<path fill="#ffc81d" d="M603 226h15v16h-15z"/>
<path fill="#ffe227" d="M648 226h15v16h-15zM707 181h15v15h-15z"/>
<path fill="#fff12d" d="M677 226h15v16h-15z"/>
<path fill="#e51d1b" d="M424 211h15v15h-15z"/>
<path fill="#ee4111" d="M454 211h15v15h-15zM588 45h15v15h-15z"/>
<path fill="#f2500d" d="M469 211h15v15h-15z"/>
<path fill="#fa6b05" d="M499 211h14v15h-14z"/>
<path fill="#ff9d0c" d="M558 211h15v15h-15z"/>
<path fill="#ffbd19" d="M603 211h15v15h-15zM692 136h15v15h-15z"/>
<path fill="#ffe729" d="M677 211h15v15h-15z"/>
<path fill="#eb3315" d="M454 196h15v15h-15z"/>
<path fill="#f76009" d="M499 196h14v15h-14zM633 45h15v15h-15z"/>
<path fill="#fa6c05" d="M513 196h15v15h-15z"/>
<path fill="#fd7802" d="M528 196h15v15h-15zM543 181h15v15h-15zM558 166h15v15h-15z"/>
<path fill="#ff9007" d="M558 196h15v15h-15zM573 181h15v15h-15z"/>
<path fill="#e72619" d="M454 181h15v15h-15zM499 120h14v16h-14z"/>
<path fill="#ec3714" d="M469 181h15v15h-15zM528 105h15v15h-15z"/>
<path fill="#ffa60f" d="M603 181h15v15h-15z"/>
<path fill="#ffd321" d="M677 181h15v15h-15z"/>
<path fill="#f0480f" d="M499 166h14v15h-14zM573 75h15v15h-15z"/>
<path fill="#ff8f06" d="M588 166h15v15h-15zM603 151h15v15h-15z"/>
<path fill="#ff9a0b" d="M603 166h15v15h-15zM618 151h15v15h-15z"/>
<path fill="#e51e1b" d="M469 151h15v15h-15zM513 90h15v15h-15zM558 30h15v15h-15z"/>
<path fill="#e92e16" d="M484 151h15v15h-15zM588 14h15v16h-15z"/>
<path fill="#f14b0f" d="M513 151h15v15h-15z"/>
<path fill="#fb6e05" d="M558 151h15v15h-15z"/>
<path fill="#fd7902" d="M573 151h15v15h-15zM588 136h15v15h-15zM603 120h15v16h-15z"/>
<path fill="#ffa40f" d="M633 151h15v15h-15z"/>
<path fill="#ea3116" d="M499 136h14v15h-14z"/>
<path fill="#ee4012" d="M513 136h15v15h-15z"/>
<path fill="#f24d0e" d="M528 136h15v15h-15z"/>
<path fill="#ff8e06" d="M618 136h15v15h-15zM633 120h15v16h-15zM648 105h15v15h-15zM663 90h14v15h-14z"/>
<path fill="#ffa30e" d="M648 136h15v15h-15z"/>
<path fill="#ffb516" d="M677 136h15v15h-15z"/>
<path fill="#f86507" d="M573 120h15v16h-15z"/>
<path fill="#fb7004" d="M588 120h15v16h-15zM603 105h15v15h-15z"/>
<path fill="#ffab12" d="M677 120h15v16h-15z"/>
<path fill="#ffc41b" d="M722 120h15v16h-15z"/>
<path fill="#e82918" d="M513 105h15v15h-15z"/>
<path fill="#ef4410" d="M543 105h15v15h-15z"/>
<path fill="#f3500d" d="M558 105h15v15h-15z"/>
<path fill="#fe7a01" d="M618 105h15v15h-15zM633 90h15v15h-15zM648 75h15v15h-15zM663 60h14v15h-14z"/>
<path fill="#ffa10e" d="M677 105h15v15h-15z"/>
<path fill="#ffba18" d="M722 105h15v15h-15z"/>
<path fill="#f65d09" d="M588 90h15v15h-15z"/>
<path fill="#ed3c12" d="M558 75h15v15h-15z"/>
<path fill="#f3540c" d="M588 75h15v15h-15z"/>
<path fill="#ff8d06" d="M677 75h15v15h-15zM692 60h15v15h-15z"/>
<path fill="#ff9709" d="M692 75h15v15h-15z"/>
<path fill="#eb3215" d="M558 60h15v15h-15z"/>
<path fill="#ee3f12" d="M573 60h15v15h-15z"/>
<path fill="#f14a0f" d="M588 60h15v15h-15z"/>
<path fill="#f75f09" d="M618 60h15v15h-15z"/>
<path fill="#eb3515" d="M573 45h15v15h-15z"/>
<path fill="#fc7204" d="M663 45h14v15h-14z"/>
<path fill="#fe7b01" d="M677 45h15v15h-15zM692 30h15v15h-15zM707 14h15v16h-15z"/>
<path fill="#ff8d05" d="M707 45h15v15h-15z"/>
<path fill="#e92b17" d="M573 30h15v15h-15z"/>
<path fill="#ec3814" d="M588 30h15v15h-15z"/>
<path fill="#f4580b" d="M633 30h15v15h-15z"/>
<path fill="#ff8c05" d="M722 30h15v15h-15z"/>
</g>
<g shape-rendering="crispEdges">
<path fill="#419486" d="M971 590h15v15h-15zM986 499h15v15h-15zM1001 393h14v15h-14zM1015 302h15v15h-15zM1030 196h15v15h-15zM1045 105h15v15h-15zM1060 14h15v16h-15z"/>
<path fill="#3e8e94" d="M986 590h15v15h-15zM1001 514h14v15h-14zM1015 438h15v16h-15zM1045 302h15v15h-15zM1060 226h15v16h-15zM1075 166h15v15h-15zM1090 105h15v15h-15zM1105 45h15v15h-15z"/>
<path fill="#3c8a9d" d="M1001 590h14v15h-14zM1015 529h15v15h-15zM1045 423h15v15h-15zM1060 363h15v15h-15zM1075 317h15v15h-15zM1090 272h15v15h-15zM1105 226h15v16h-15zM1120 181h15v15h-15zM1135 136h15v15h-15zM1150 105h15v15h-15zM1150 90h15v15h-15zM1165 60h14v15h-14zM1165 45h14v15h-14zM1179 30h15v15h-15zM1179 14h15v16h-15z"/>
<path fill="#3b88a2" d="M1015 590h15v15h-15zM1045 484h15v15h-15zM1060 438h15v16h-15zM1075 408h15v15h-15zM1090 363h15v15h-15zM1105 317h15v15h-15zM1120 287h15v15h-15zM1135 257h15v15h-15zM1135 242h15v15h-15zM1150 211h15v15h-15zM1165 181h14v15h-14zM1179 151h15v15h-15zM1179 136h15v15h-15zM1194 120h15v16h-15zM1194 105h15v15h-15zM1209 90h15v15h-15zM1209 75h15v15h-15zM1224 60h15v15h-15zM1224 45h15v15h-15zM1239 30h15v15h-15zM1239 14h30v16h-30z"/>
<path fill="#3b86a6" d="M1030 590h15v15h-15zM1045 544h15v16h-15zM1060 499h15v15h-15zM1075 469h15v15h-15zM1090 438h15v16h-15zM1105 408h15v15h-15zM1105 393h15v15h-15zM1120 363h15v15h-15zM1135 332h15v16h-15zM1150 302h15v15h-15zM1165 287h14v15h-14zM1165 272h14v15h-14zM1179 257h15v15h-15zM1179 242h15v15h-15zM1194 226h15v16h-15zM1194 211h15v15h-15zM1209 196h15v15h-15zM1224 181h15v15h-15zM1224 166h15v15h-15zM1239 151h15v15h-15zM1239 136h30v15h-30zM1254 120h15v16h-15zM1269 105h15v15h-15zM1269 90h30v15h-30zM1284 75h30v15h-30zM1299 60h15v15h-15zM1299 45h30v15h-30zM1314 30h29v15h-29zM1329 14h29v16h-29z"/>
<path fill="#3a85a9" d="M1045 590h15v15h-15zM1060 544h15v16h-15zM1075 514h15v15h-15zM1090 484h15v15h-15zM1105 454h15v15h-15zM1120 423h15v15h-15zM1135 408h15v15h-15zM1135 393h15v15h-15zM1150 378h15v15h-15zM1165 348h14v15h-14zM1179 332h15v16h-15zM1179 317h15v15h-15zM1194 302h15v15h-15zM1209 287h15v15h-15zM1209 272h15v15h-15zM1224 257h15v15h-15zM1239 242h15v15h-15zM1239 226h30v16h-30zM1254 211h15v15h-15zM1269 196h15v15h-15zM1284 181h15v15h-15zM1284 166h30v15h-30zM1299 151h30v15h-30zM1314 136h29v15h-29zM1329 120h29v16h-29zM1343 105h30v15h-30zM1358 90h30v15h-30zM1358 75h45v15h-45zM1373 60h45v15h-45zM1388 45h45v15h-45zM1403 30h45v15h-45zM1418 14h45v16h-45z"/>
<path fill="#3984ac" d="M1060 590h15v15h-15zM1120 484h15v15h-15zM1179 393h15v15h-15zM1224 332h15v16h-15zM1418 136h15v15h-15zM1433 120h15v16h-15zM1478 90h15v15h-15zM1493 75h14v15h-14zM1537 45h15v15h-15z"/>
<path fill="#3983ad" d="M1075 590h15v15h-15zM1090 560h15v15h-15zM1105 544h15v16h-15zM1105 529h15v15h-15zM1120 514h15v15h-15zM1135 499h15v15h-15zM1135 484h15v15h-15zM1150 469h15v15h-15zM1165 454h14v15h-14zM1165 438h29v16h-29zM1179 423h15v15h-15zM1194 408h15v15h-15zM1209 393h15v15h-15zM1209 378h30v15h-30zM1224 363h30v15h-30zM1239 348h30v15h-30zM1254 332h30v16h-30zM1269 317h30v15h-30zM1284 302h30v15h-30zM1299 287h30v15h-30zM1314 272h29v15h-29zM1329 257h44v15h-44zM1343 242h45v15h-45zM1358 226h45v16h-45zM1373 211h45v15h-45zM1388 196h60v15h-60zM1418 181h45v15h-45zM1433 166h60v15h-60zM1448 151h59v15h-59zM1478 136h59v15h-59zM1493 120h59v16h-59zM1522 105h30v15h-30zM1537 90h15v15h-15z"/>
<path fill="#3982af" d="M1090 590h15v15h-15zM1105 575h15v15h-15zM1120 560h15v15h-15zM1120 544h30v16h-30zM1135 529h15v15h-15zM1150 514h15v15h-15zM1165 499h14v15h-14zM1179 484h15v15h-15zM1179 469h30v15h-30zM1194 454h30v15h-30zM1209 438h30v16h-30zM1224 423h30v15h-30zM1239 408h30v15h-30zM1254 393h30v15h-30zM1269 378h30v15h-30zM1284 363h45v15h-45zM1299 348h44v15h-44zM1314 332h44v16h-44zM1343 317h45v15h-45zM1358 302h45v15h-45zM1373 287h60v15h-60zM1388 272h60v15h-60zM1418 257h60v15h-60zM1433 242h74v15h-74zM1463 226h74v16h-74zM1478 211h74v15h-74zM1507 196h45v15h-45zM1537 181h15v15h-15z"/>
<path fill="#3982b0" d="M1105 590h15v15h-15zM1120 575h15v15h-15zM1135 560h15v15h-15zM1150 529h15v15h-15zM1165 514h14v15h-14zM1179 499h15v15h-15zM1194 484h15v15h-15zM1209 469h15v15h-15zM1224 454h15v15h-15zM1239 438h15v16h-15zM1254 423h30v15h-30zM1269 408h30v15h-30zM1284 393h30v15h-30zM1299 378h30v15h-30zM1329 363h29v15h-29zM1343 348h30v15h-30zM1358 332h45v16h-45zM1388 317h30v15h-30zM1403 302h45v15h-45zM1433 287h45v15h-45zM1448 272h45v15h-45zM1478 257h44v15h-44zM1507 242h45v15h-45zM1537 226h15v16h-15z"/>
<path fill="#3881b1" d="M1120 590h30v15h-30zM1135 575h15v15h-15zM1150 560h15v15h-15zM1165 544h14v16h-14zM1179 529h30v15h-30zM1194 514h30v15h-30zM1209 499h30v15h-30zM1224 484h30v15h-30zM1239 469h30v15h-30zM1254 454h45v15h-45zM1269 438h45v16h-45zM1284 423h45v15h-45zM1314 408h44v15h-44zM1329 393h59v15h-59zM1343 378h60v15h-60zM1373 363h60v15h-60zM1388 348h75v15h-75zM1418 332h75v16h-75zM1448 317h74v15h-74zM1463 302h89v15h-89zM1493 287h59v15h-59zM1522 272h30v15h-30z"/>
<path fill="#3881b2" d="M1150 590h15v15h-15zM1150 575h29v15h-29zM1165 560h29v15h-29zM1179 544h30v16h-30zM1209 529h15v15h-15zM1224 514h30v15h-30zM1239 499h30v15h-30zM1254 484h45v15h-45zM1269 469h45v15h-45zM1299 454h44v15h-44zM1314 438h44v16h-44zM1329 423h59v15h-59zM1358 408h60v15h-60zM1388 393h60v15h-60zM1403 378h75v15h-75zM1433 363h74v15h-74zM1463 348h74v15h-74zM1493 332h59v16h-59zM1522 317h30v15h-30z"/>
<path fill="#3880b3" d="M1165 590h29v15h-29zM1179 575h30v15h-30zM1194 560h45v15h-45zM1209 544h45v16h-45zM1239 529h45v15h-45zM1254 514h45v15h-45zM1269 499h60v15h-60zM1299 484h59v15h-59zM1314 469h59v15h-59zM1343 454h60v15h-60zM1373 438h75v16h-75zM1388 423h90v15h-90zM1418 408h89v15h-89zM1448 393h104v15h-104zM1478 378h74v15h-74zM1522 363h30v15h-30z"/>
<path fill="#3880b4" d="M1194 590h30v15h-30zM1209 575h45v15h-45zM1239 560h45v15h-45zM1254 544h45v16h-45zM1284 529h45v15h-45zM1299 514h59v15h-59zM1329 499h59v15h-59zM1358 484h75v15h-75zM1373 469h90v15h-90zM1403 454h104v15h-104zM1448 438h104v16h-104zM1478 423h74v15h-74zM1507 408h45v15h-45z"/>
<path fill="#3880b5" d="M1224 590h15v15h-15zM1254 575h15v15h-15zM1299 544h15v16h-15zM1329 529h14v15h-14zM1358 514h15v15h-15zM1388 499h15v15h-15zM1433 484h15v15h-15zM1463 469h15v15h-15zM1507 454h15v15h-15z"/>
<path fill="#387fb5" d="M1239 590h45v15h-45zM1269 575h45v15h-45zM1284 560h59v15h-59zM1314 544h59v16h-59zM1343 529h75v15h-75zM1373 514h75v15h-75zM1403 499h90v15h-90zM1448 484h89v15h-89zM1478 469h74v15h-74zM1522 454h30v15h-30z"/>
<path fill="#377fb6" d="M1284 590h74v15h-74zM1314 575h74v15h-74zM1343 560h90v15h-90zM1373 544h105v16h-105zM1418 529h119v15h-119zM1448 514h104v15h-104zM1493 499h59v15h-59zM1537 484h15v15h-15z"/>
<path fill="#377fb7" d="M1358 590h30v15h-30zM1388 575h45v15h-45zM1433 560h60v15h-60zM1478 544h59v16h-59zM1537 529h15v15h-15z"/>
<path fill="#377eb7" d="M1388 590h90v15h-90zM1433 575h89v15h-89zM1493 560h59v15h-59zM1537 544h15v16h-15z"/>
<path fill="#377eb8" d="M1478 590h74v15h-74zM1522 575h30v15h-30z"/>
<path fill="#429683" d="M971 575h15v15h-15zM1030 166h15v15h-15z"/>
<path fill="#3f8f92" d="M986 575h15v15h-15zM1001 499h14v15h-14zM1015 423h15v15h-15zM1030 348h15v15h-15zM1045 272h15v15h-15zM1060 196h15v15h-15zM1075 136h15v15h-15zM1090 75h15v15h-15zM1105 14h15v16h-15z"/>
<path fill="#3d8b9b" d="M1001 575h14v15h-14zM1015 514h15v15h-15zM1030 454h15v15h-15zM1045 393h15v15h-15zM1060 332h15v16h-15zM1075 287h15v15h-15zM1090 242h15v15h-15zM1090 226h15v16h-15zM1105 181h15v15h-15zM1120 136h15v15h-15zM1135 90h15v15h-15zM1150 60h15v15h-15zM1150 45h15v15h-15zM1165 14h14v16h-14z"/>
<path fill="#3c88a1" d="M1015 575h15v15h-15zM1030 529h15v15h-15zM1060 423h15v15h-15zM1075 393h15v15h-15zM1075 378h15v15h-15zM1090 348h15v15h-15zM1105 302h15v15h-15zM1120 272h15v15h-15zM1120 257h15v15h-15zM1135 226h15v16h-15zM1150 196h15v15h-15zM1150 181h15v15h-15zM1165 166h14v15h-14zM1165 151h14v15h-14zM1179 120h15v16h-15zM1194 90h15v15h-15zM1209 60h15v15h-15zM1209 45h15v15h-15zM1224 30h15v15h-15zM1224 14h15v16h-15z"/>
<path fill="#3b86a5" d="M1030 575h15v15h-15zM1075 454h15v15h-15zM1090 423h15v15h-15zM1120 348h15v15h-15zM1135 317h15v15h-15zM1150 287h15v15h-15zM1165 257h14v15h-14zM1179 226h15v16h-15zM1194 196h15v15h-15zM1209 181h15v15h-15zM1224 151h15v15h-15zM1239 120h15v16h-15zM1254 105h15v15h-15zM1269 75h15v15h-15zM1284 60h15v15h-15zM1299 30h15v15h-15zM1314 14h15v16h-15z"/>
<path fill="#3a85a8" d="M1045 575h15v15h-15zM1060 529h15v15h-15zM1075 499h15v15h-15zM1090 469h15v15h-15zM1105 438h15v16h-15zM1120 408h15v15h-15zM1135 378h15v15h-15zM1150 363h15v15h-15zM1150 348h15v15h-15zM1165 332h14v16h-14zM1165 317h14v15h-14zM1179 302h15v15h-15zM1194 287h15v15h-15zM1194 272h15v15h-15zM1209 257h15v15h-15zM1209 242h30v15h-30zM1224 226h15v16h-15zM1239 211h15v15h-15zM1239 196h30v15h-30zM1254 181h30v15h-30zM1269 166h15v15h-15zM1269 151h30v15h-30zM1284 136h30v15h-30zM1299 120h30v16h-30zM1314 105h29v15h-29zM1329 90h29v15h-29zM1329 75h29v15h-29zM1343 60h30v15h-30zM1358 45h30v15h-30zM1373 30h30v15h-30zM1388 14h30v16h-30z"/>
<path fill="#3a84ab" d="M1060 575h15v15h-15zM1075 560h15v15h-15zM1075 544h15v16h-15zM1090 529h15v15h-15zM1105 499h15v15h-15zM1120 469h15v15h-15zM1135 454h15v15h-15zM1135 438h15v16h-15zM1150 423h15v15h-15zM1165 408h14v15h-14zM1165 393h14v15h-14zM1179 378h15v15h-15zM1194 363h15v15h-15zM1194 348h30v15h-30zM1209 332h15v16h-15zM1224 317h15v15h-15zM1224 302h30v15h-30zM1239 287h30v15h-30zM1254 272h30v15h-30zM1269 257h30v15h-30zM1284 242h30v15h-30zM1299 226h30v16h-30zM1299 211h44v15h-44zM1314 196h44v15h-44zM1329 181h44v15h-44zM1343 166h45v15h-45zM1358 151h45v15h-45zM1373 136h45v15h-45zM1388 120h45v16h-45zM1418 105h45v15h-45zM1433 90h45v15h-45zM1448 75h45v15h-45zM1463 60h59v15h-59zM1478 45h59v15h-59zM1507 30h45v15h-45zM1522 14h30v16h-30z"/>
<path fill="#3983ac" d="M1075 575h15v15h-15zM1090 544h15v16h-15zM1105 514h15v15h-15zM1120 499h15v15h-15zM1135 469h15v15h-15zM1150 454h15v15h-15zM1150 438h15v16h-15zM1165 423h14v15h-14zM1179 408h15v15h-15zM1194 393h15v15h-15zM1194 378h15v15h-15zM1209 363h15v15h-15zM1224 348h15v15h-15zM1239 332h15v16h-15zM1239 317h30v15h-30zM1254 302h30v15h-30zM1269 287h30v15h-30zM1284 272h30v15h-30zM1299 257h30v15h-30zM1314 242h29v15h-29zM1329 226h29v16h-29zM1343 211h30v15h-30zM1358 196h30v15h-30zM1373 181h45v15h-45zM1388 166h45v15h-45zM1403 151h45v15h-45zM1433 136h45v15h-45zM1448 120h45v16h-45zM1463 105h59v15h-59zM1493 90h44v15h-44zM1507 75h45v15h-45zM1522 60h30v15h-30z"/>
<path fill="#3983ae" d="M1090 575h15v15h-15zM1120 529h15v15h-15zM1150 484h15v15h-15zM1165 469h14v15h-14zM1194 423h15v15h-15zM1209 408h15v15h-15zM1224 393h15v15h-15zM1239 378h15v15h-15zM1254 363h15v15h-15zM1269 348h15v15h-15zM1284 332h15v16h-15zM1299 317h15v15h-15zM1314 302h15v15h-15zM1329 287h14v15h-14zM1343 272h15v15h-15zM1373 257h15v15h-15zM1388 242h15v15h-15zM1403 226h15v16h-15zM1418 211h30v15h-30zM1448 196h15v15h-15zM1463 181h30v15h-30zM1493 166h29v15h-29zM1507 151h30v15h-30zM1537 136h15v15h-15z"/>
<path fill="#429780" d="M971 560h15v15h-15zM986 454h15v15h-15zM1001 348h14v15h-14zM1045 30h15v15h-15z"/>
<path fill="#3f908f" d="M986 560h15v15h-15zM1015 393h15v15h-15zM1045 226h15v16h-15zM1060 151h15v15h-15zM1075 90h15v15h-15zM1090 14h15v16h-15z"/>
<path fill="#3d8c99" d="M1001 560h14v15h-14zM1030 423h15v15h-15zM1045 363h15v15h-15zM1060 302h15v15h-15zM1075 257h15v15h-15zM1090 196h15v15h-15zM1105 151h15v15h-15zM1120 105h15v15h-15zM1120 90h15v15h-15zM1135 45h15v15h-15z"/>
<path fill="#3c89a0" d="M1015 560h15v15h-15zM1030 514h15v15h-15zM1060 408h15v15h-15zM1075 363h15v15h-15zM1090 317h15v15h-15zM1105 287h15v15h-15zM1120 242h15v15h-15zM1135 211h15v15h-15zM1135 196h15v15h-15zM1150 166h15v15h-15zM1165 136h14v15h-14zM1165 120h14v16h-14zM1179 105h15v15h-15zM1179 90h15v15h-15zM1194 60h15v15h-15zM1209 30h15v15h-15z"/>
<path fill="#3b87a4" d="M1030 560h15v15h-15zM1045 514h15v15h-15zM1060 469h15v15h-15zM1075 438h15v16h-15zM1090 393h15v15h-15zM1105 363h15v15h-15zM1120 332h15v16h-15zM1120 317h15v15h-15zM1135 302h15v15h-15zM1135 287h15v15h-15zM1150 257h15v15h-15zM1165 226h14v16h-14zM1179 196h15v15h-15zM1194 181h15v15h-15zM1194 166h15v15h-15zM1209 151h15v15h-15zM1209 136h15v15h-15zM1224 120h15v16h-15zM1224 105h15v15h-15zM1239 90h15v15h-15zM1239 75h30v15h-30zM1254 60h15v15h-15zM1269 45h15v15h-15zM1269 30h30v15h-30zM1284 14h15v16h-15z"/>
<path fill="#3a86a7" d="M1045 560h15v15h-15zM1060 514h15v15h-15zM1075 484h15v15h-15zM1090 454h15v15h-15zM1120 378h15v15h-15zM1135 348h15v15h-15zM1150 332h15v16h-15zM1150 317h15v15h-15zM1165 302h14v15h-14zM1179 272h15v15h-15zM1194 242h15v15h-15zM1209 226h15v16h-15zM1209 211h15v15h-15zM1224 196h15v15h-15zM1239 181h15v15h-15zM1239 166h15v15h-15zM1254 151h15v15h-15zM1269 136h15v15h-15zM1269 120h15v16h-15zM1284 105h15v15h-15zM1299 90h15v15h-15zM1314 75h15v15h-15zM1314 60h29v15h-29zM1329 45h14v15h-14zM1343 30h15v15h-15zM1358 14h15v16h-15z"/>
<path fill="#3a84aa" d="M1060 560h15v15h-15zM1075 529h15v15h-15zM1090 514h15v15h-15zM1090 499h15v15h-15zM1105 484h15v15h-15zM1105 469h15v15h-15zM1120 454h15v15h-15zM1135 423h15v15h-15zM1150 408h15v15h-15zM1150 393h15v15h-15zM1165 378h14v15h-14zM1165 363h29v15h-29zM1179 348h15v15h-15zM1194 332h15v16h-15zM1194 317h30v15h-30zM1209 302h15v15h-15zM1224 287h15v15h-15zM1239 272h15v15h-15zM1239 257h30v15h-30zM1254 242h30v15h-30zM1269 226h30v16h-30zM1284 211h15v15h-15zM1284 196h30v15h-30zM1299 181h30v15h-30zM1314 166h29v15h-29zM1329 151h29v15h-29zM1343 136h30v15h-30zM1358 120h30v16h-30zM1373 105h45v15h-45zM1388 90h45v15h-45zM1403 75h45v15h-45zM1418 60h45v15h-45zM1433 45h45v15h-45zM1448 30h59v15h-59zM1463 14h59v16h-59z"/>
<path fill="#3982ae" d="M1105 560h15v15h-15zM1135 514h15v15h-15zM1150 499h15v15h-15zM1165 484h14v15h-14zM1179 454h15v15h-15zM1194 438h15v16h-15zM1209 423h15v15h-15zM1224 408h15v15h-15zM1239 393h15v15h-15zM1254 378h15v15h-15zM1269 363h15v15h-15zM1284 348h15v15h-15zM1299 332h15v16h-15zM1314 317h29v15h-29zM1329 302h29v15h-29zM1343 287h30v15h-30zM1358 272h30v15h-30zM1388 257h30v15h-30zM1403 242h30v15h-30zM1418 226h45v16h-45zM1448 211h30v15h-30zM1463 196h44v15h-44zM1493 181h44v15h-44zM1522 166h30v15h-30zM1537 151h15v15h-15z"/>
<path fill="#43987d" d="M971 544h15v16h-15zM986 438h15v16h-15zM1001 317h14v15h-14zM1030 90h15v15h-15z"/>
<path fill="#40918d" d="M986 544h15v16h-15zM1001 454h14v15h-14zM1030 287h15v15h-15zM1060 120h15v16h-15zM1075 45h15v15h-15z"/>
<path fill="#3e8d97" d="M1001 544h14v16h-14zM1015 469h15v15h-15zM1030 408h15v15h-15zM1060 272h15v15h-15zM1075 211h15v15h-15zM1090 166h15v15h-15zM1105 105h15v15h-15zM1120 60h15v15h-15zM1120 45h15v15h-15z"/>
<path fill="#3c8a9e" d="M1015 544h15v16h-15zM1030 484h15v15h-15zM1060 378h15v15h-15zM1075 332h15v16h-15zM1090 287h15v15h-15zM1105 242h15v15h-15zM1120 196h15v15h-15zM1135 151h15v15h-15zM1150 120h15v16h-15zM1165 75h14v15h-14zM1179 45h15v15h-15z"/>
<path fill="#3b88a3" d="M1030 544h15v16h-15zM1060 454h15v15h-15zM1105 332h15v16h-15zM1150 226h15v16h-15zM1224 75h15v15h-15zM1239 45h15v15h-15z"/>
<path fill="#3981b0" d="M1150 544h15v16h-15zM1165 529h14v15h-14zM1179 514h15v15h-15zM1194 499h15v15h-15zM1209 484h15v15h-15zM1224 469h15v15h-15zM1239 454h15v15h-15zM1254 438h15v16h-15zM1299 408h15v15h-15zM1314 393h15v15h-15zM1329 378h14v15h-14zM1358 363h15v15h-15zM1373 348h15v15h-15zM1403 332h15v16h-15zM1418 317h30v15h-30zM1448 302h15v15h-15zM1478 287h15v15h-15zM1493 272h29v15h-29zM1522 257h30v15h-30z"/>
<path fill="#439a7a" d="M971 529h15v15h-15zM1030 60h15v15h-15z"/>
<path fill="#40928b" d="M986 529h15v15h-15zM1001 438h14v16h-14zM1015 348h15v15h-15zM1030 257h15v15h-15zM1045 181h15v15h-15zM1060 90h15v15h-15zM1075 14h15v16h-15z"/>
<path fill="#3e8d96" d="M1001 529h14v15h-14zM1030 393h15v15h-15zM1045 332h15v16h-15zM1060 257h15v15h-15zM1075 196h15v15h-15zM1090 151h15v15h-15zM1090 136h15v15h-15zM1105 90h15v15h-15zM1120 30h15v15h-15z"/>
<path fill="#3b87a5" d="M1045 529h15v15h-15zM1060 484h15v15h-15zM1090 408h15v15h-15zM1105 378h15v15h-15zM1150 272h15v15h-15zM1165 242h14v15h-14zM1179 211h15v15h-15zM1209 166h15v15h-15zM1224 136h15v15h-15zM1239 105h15v15h-15zM1254 90h15v15h-15zM1269 60h15v15h-15zM1284 45h15v15h-15zM1299 14h15v16h-15z"/>
<path fill="#3880b2" d="M1224 529h15v15h-15zM1358 438h15v16h-15zM1507 363h15v15h-15zM1537 348h15v15h-15z"/>
<path fill="#449b77" d="M971 514h15v15h-15zM986 393h15v15h-15zM1001 272h14v15h-14z"/>
<path fill="#409389" d="M986 514h15v15h-15zM1001 423h14v15h-14zM1015 332h15v16h-15zM1030 242h15v15h-15zM1045 151h15v15h-15zM1060 60h15v15h-15z"/>
<path fill="#459d74" d="M971 499h15v15h-15z"/>
<path fill="#3d8c9a" d="M1015 499h15v15h-15zM1060 317h15v15h-15zM1135 60h15v15h-15zM1150 14h15v16h-15z"/>
<path fill="#3c899f" d="M1030 499h15v15h-15zM1045 454h15v15h-15zM1060 393h15v15h-15zM1075 348h15v15h-15zM1090 302h15v15h-15zM1105 272h15v15h-15zM1105 257h15v15h-15zM1120 226h15v16h-15zM1120 211h15v15h-15zM1135 181h15v15h-15zM1150 151h15v15h-15zM1150 136h15v15h-15zM1165 105h14v15h-14zM1179 75h15v15h-15zM1179 60h15v15h-15zM1194 45h15v15h-15zM1194 30h15v15h-15zM1209 14h15v16h-15z"/>
<path fill="#3b87a3" d="M1045 499h15v15h-15zM1075 423h15v15h-15zM1090 378h15v15h-15zM1105 348h15v15h-15zM1120 302h15v15h-15zM1135 272h15v15h-15zM1150 242h15v15h-15zM1165 211h14v15h-14zM1165 196h14v15h-14zM1179 181h15v15h-15zM1179 166h15v15h-15zM1194 151h15v15h-15zM1194 136h15v15h-15zM1209 120h15v16h-15zM1209 105h15v15h-15zM1224 90h15v15h-15zM1239 60h15v15h-15zM1254 45h15v15h-15zM1254 30h15v15h-15zM1269 14h15v16h-15z"/>
<path fill="#459e71" d="M971 484h15v15h-15z"/>
<path fill="#419584" d="M986 484h15v15h-15zM1001 378h14v15h-14zM1030 181h15v15h-15zM1045 75h15v15h-15z"/>
<path fill="#3f9090" d="M1001 484h14v15h-14zM1030 317h15v15h-15zM1045 242h15v15h-15zM1060 166h15v15h-15zM1075 105h15v15h-15zM1090 30h15v15h-15z"/>
<path fill="#3d8c98" d="M1015 484h15v15h-15zM1045 348h15v15h-15zM1060 287h15v15h-15zM1075 242h15v15h-15zM1090 181h15v15h-15zM1105 136h15v15h-15zM1105 120h15v16h-15zM1120 75h15v15h-15zM1135 30h15v15h-15z"/>
<path fill="#469f6e" d="M971 469h15v15h-15zM986 332h15v16h-15zM1001 196h14v15h-14z"/>
<path fill="#429682" d="M986 469h15v15h-15zM1001 363h14v15h-14zM1015 257h15v15h-15zM1030 151h15v15h-15zM1045 60h15v15h-15z"/>
<path fill="#3f908e" d="M1001 469h14v15h-14z"/>
<path fill="#3d8a9c" d="M1030 469h15v15h-15zM1045 408h15v15h-15zM1075 302h15v15h-15zM1090 257h15v15h-15zM1105 211h15v15h-15zM1120 166h15v15h-15zM1135 120h15v16h-15zM1150 75h15v15h-15z"/>
<path fill="#3c88a0" d="M1045 469h15v15h-15zM1090 332h15v16h-15zM1194 75h15v15h-15z"/>
<path fill="#46a16b" d="M971 454h15v15h-15z"/>
<path fill="#3e8e95" d="M1015 454h15v15h-15zM1030 378h15v15h-15zM1060 242h15v15h-15zM1075 181h15v15h-15zM1090 120h15v16h-15zM1105 60h15v15h-15zM1120 14h15v16h-15z"/>
<path fill="#47a268" d="M971 438h15v16h-15z"/>
<path fill="#3d8b9a" d="M1030 438h15v16h-15zM1045 378h15v15h-15zM1075 272h15v15h-15zM1090 211h15v15h-15zM1105 166h15v15h-15zM1120 120h15v16h-15zM1135 75h15v15h-15zM1150 30h15v15h-15z"/>
<path fill="#3c899e" d="M1045 438h15v16h-15zM1135 166h15v15h-15zM1165 90h14v15h-14zM1194 14h15v16h-15z"/>
<path fill="#3a84a9" d="M1120 438h15v16h-15zM1224 272h15v15h-15zM1269 211h15v15h-15z"/>
<path fill="#48a365" d="M971 423h15v15h-15zM986 272h15v15h-15z"/>
<path fill="#43997b" d="M986 423h15v15h-15zM1001 302h14v15h-14zM1015 181h15v15h-15zM1030 75h15v15h-15z"/>
<path fill="#3a85a7" d="M1105 423h15v15h-15zM1120 393h15v15h-15zM1135 363h15v15h-15zM1179 287h15v15h-15zM1194 257h15v15h-15zM1224 211h15v15h-15zM1254 166h15v15h-15zM1284 120h15v16h-15zM1299 105h15v15h-15zM1314 90h15v15h-15zM1343 45h15v15h-15zM1358 30h15v15h-15zM1373 14h15v16h-15z"/>
<path fill="#48a562" d="M971 408h15v15h-15z"/>
<path fill="#449a79" d="M986 408h15v15h-15zM1001 287h14v15h-14zM1015 166h15v15h-15zM1030 45h15v15h-15z"/>
<path fill="#419487" d="M1001 408h14v15h-14zM1030 211h15v15h-15zM1045 120h15v16h-15zM1060 30h15v15h-15z"/>
<path fill="#3f8f91" d="M1015 408h15v15h-15zM1030 332h15v16h-15zM1045 257h15v15h-15zM1075 120h15v16h-15zM1090 60h15v15h-15z"/>
<path fill="#49a65f" d="M971 393h15v15h-15z"/>
<path fill="#49a75c" d="M971 378h15v15h-15zM986 211h15v15h-15z"/>
<path fill="#459c74" d="M986 378h15v15h-15zM1001 242h14v15h-14z"/>
<path fill="#3f918e" d="M1015 378h15v15h-15zM1030 302h15v15h-15zM1045 211h15v15h-15zM1060 136h15v15h-15zM1075 75h15v15h-15zM1075 60h15v15h-15z"/>
<path fill="#4aa959" d="M971 363h15v15h-15z"/>
<path fill="#459d72" d="M986 363h15v15h-15zM1001 226h14v16h-14zM1015 90h15v15h-15z"/>
<path fill="#40918c" d="M1015 363h15v15h-15zM1045 196h15v15h-15z"/>
<path fill="#3e8e93" d="M1030 363h15v15h-15zM1045 287h15v15h-15zM1075 151h15v15h-15zM1090 90h15v15h-15zM1105 30h15v15h-15z"/>
<path fill="#4baa56" d="M971 348h15v15h-15z"/>
<path fill="#459e70" d="M986 348h15v15h-15zM1001 211h14v15h-14zM1015 75h15v15h-15z"/>
<path fill="#3d8b9c" d="M1060 348h15v15h-15zM1105 196h15v15h-15zM1120 151h15v15h-15zM1135 105h15v15h-15zM1165 30h14v15h-14z"/>
<path fill="#4bab53" d="M971 332h15v16h-15zM986 151h15v15h-15z"/>
<path fill="#43987e" d="M1001 332h14v16h-14zM1015 211h15v15h-15zM1030 105h15v15h-15z"/>
<path fill="#4cad50" d="M971 317h15v15h-15z"/>
<path fill="#46a06c" d="M986 317h15v15h-15zM1015 30h15v15h-15z"/>
<path fill="#419388" d="M1015 317h15v15h-15zM1030 226h15v16h-15zM1045 136h15v15h-15z"/>
<path fill="#3e8d95" d="M1045 317h15v15h-15zM1105 75h15v15h-15z"/>
<path fill="#4cae4d" d="M971 302h15v15h-15z"/>
<path fill="#47a169" d="M986 302h15v15h-15zM1001 151h14v15h-14z"/>
<path fill="#4eaf4a" d="M971 287h15v15h-15z"/>
<path fill="#47a267" d="M986 287h15v15h-15zM1001 136h14v15h-14z"/>
<path fill="#419585" d="M1015 287h15v15h-15zM1045 90h15v15h-15z"/>
<path fill="#53b249" d="M971 272h15v15h-15z"/>
<path fill="#429583" d="M1015 272h15v15h-15z"/>
<path fill="#40928c" d="M1030 272h15v15h-15zM1060 105h15v15h-15zM1075 30h15v15h-15z"/>
<path fill="#58b449" d="M971 257h15v15h-15zM986 45h15v15h-15z"/>
<path fill="#48a463" d="M986 257h15v15h-15z"/>
<path fill="#449c76" d="M1001 257h14v15h-14z"/>
<path fill="#5cb648" d="M971 242h15v15h-15zM986 30h15v15h-15z"/>
<path fill="#49a560" d="M986 242h15v15h-15zM1001 75h14v15h-14z"/>
<path fill="#429781" d="M1015 242h15v15h-15zM1030 136h15v15h-15z"/>
<path fill="#61b847" d="M971 226h15v16h-15z"/>
<path fill="#49a65e" d="M986 226h15v16h-15zM1001 60h14v15h-14z"/>
<path fill="#42977f" d="M1015 226h15v16h-15zM1030 120h15v16h-15zM1045 14h15v16h-15z"/>
<path fill="#3e8c97" d="M1075 226h15v16h-15zM1135 14h15v16h-15z"/>
<path fill="#66ba47" d="M971 211h15v15h-15z"/>
<path fill="#3e8f93" d="M1060 211h15v15h-15z"/>
<path fill="#6bbc46" d="M971 196h15v15h-15z"/>
<path fill="#4aa85a" d="M986 196h15v15h-15z"/>
<path fill="#43997c" d="M1015 196h15v15h-15z"/>
<path fill="#70bf46" d="M971 181h15v15h-15z"/>
<path fill="#4aa957" d="M986 181h15v15h-15z"/>
<path fill="#46a06d" d="M1001 181h14v15h-14z"/>
<path fill="#3f9091" d="M1060 181h15v15h-15zM1090 45h15v15h-15z"/>
<path fill="#75c145" d="M971 166h15v15h-15z"/>
<path fill="#4baa55" d="M986 166h15v15h-15z"/>
<path fill="#46a06b" d="M1001 166h14v15h-14z"/>
<path fill="#40928a" d="M1045 166h15v15h-15z"/>
<path fill="#7ac344" d="M971 151h15v15h-15z"/>
<path fill="#449b78" d="M1015 151h15v15h-15zM1030 30h15v15h-15z"/>
<path fill="#7ec544" d="M971 136h15v15h-15z"/>
<path fill="#4cac51" d="M986 136h15v15h-15z"/>
<path fill="#449b76" d="M1015 136h15v15h-15zM1030 14h15v16h-15z"/>
<path fill="#83c743" d="M971 120h15v16h-15z"/>
<path fill="#4cad4e" d="M986 120h15v16h-15z"/>
<path fill="#47a366" d="M1001 120h14v16h-14z"/>
<path fill="#449c75" d="M1015 120h15v16h-15z"/>
<path fill="#88ca42" d="M971 105h15v15h-15z"/>
<path fill="#4dae4c" d="M986 105h15v15h-15z"/>
<path fill="#48a464" d="M1001 105h14v15h-14z"/>
<path fill="#459d73" d="M1015 105h15v15h-15z"/>
<path fill="#8dcc42" d="M971 90h15v15h-15z"/>
<path fill="#4daf4a" d="M986 90h15v15h-15z"/>
<path fill="#48a462" d="M1001 90h14v15h-14z"/>
<path fill="#92ce41" d="M971 75h15v15h-15z"/>
<path fill="#51b14a" d="M986 75h15v15h-15z"/>
<path fill="#40938a" d="M1060 75h15v15h-15z"/>
<path fill="#97d040" d="M971 60h15v15h-15z"/>
<path fill="#55b249" d="M986 60h15v15h-15z"/>
<path fill="#469f6f" d="M1015 60h15v15h-15z"/>
<path fill="#9cd240" d="M971 45h15v15h-15z"/>
<path fill="#49a75d" d="M1001 45h14v15h-14z"/>
<path fill="#469f6d" d="M1015 45h15v15h-15z"/>
<path fill="#429681" d="M1045 45h15v15h-15z"/>
<path fill="#419488" d="M1060 45h15v15h-15z"/>
<path fill="#a0d43f" d="M971 30h15v15h-15z"/>
<path fill="#4aa75b" d="M1001 30h14v15h-14z"/>
<path fill="#a5d73f" d="M971 14h15v16h-15z"/>
<path fill="#5fb748" d="M986 14h15v16h-15z"/>
<path fill="#4aa859" d="M1001 14h14v16h-14z"/>
<path fill="#47a16a" d="M1015 14h15v16h-15z"/>
</g>
<g shape-rendering="crispEdges">
<path fill="#e41a1c" d="M156 1413h581v16h-581zM156 1398h551v15h-551zM156 1382h521v16h-521zM156 1367h492v15h-492zM156 1352h447v15h-447zM156 1336h417v16h-417zM156 1321h387v15h-387zM156 1306h343v15h-343zM156 1290h313v16h-313zM156 1275h283v15h-283zM156 1260h268v15h-268zM156 1244h238v16h-238zM156 1229h208v15h-208zM156 1213h193v16h-193zM156 1198h179v15h-179zM156 1183h149v15h-149zM156 1167h134v16h-134zM156 1152h119v15h-119zM156 1137h104v15h-104zM156 1121h104v16h-104zM156 1106h89v15h-89zM156 1091h74v15h-74zM156 1075h74v16h-74zM156 1060h59v15h-59zM156 1044h59v16h-59zM156 1029h44v15h-44zM156 1014h44v15h-44zM156 998h29v16h-29zM171 983h14v15h-14zM171 968h14v15h-14z"/>
<path fill="#e41b1c" d="M707 1398h15v15h-15zM156 983h15v15h-15z"/>
<path fill="#e72419" d="M722 1398h15v15h-15zM648 1367h15v15h-15z"/>
<path fill="#e5201a" d="M677 1382h15v16h-15z"/>
<path fill="#e82918" d="M692 1382h15v16h-15zM349 1213h15v16h-15zM230 1091h15v15h-15z"/>
<path fill="#ea3215" d="M707 1382h15v16h-15zM156 829h15v16h-15z"/>
<path fill="#ed3a13" d="M722 1382h15v16h-15zM409 1244h15v16h-15z"/>
<path fill="#e92e16" d="M663 1367h14v15h-14z"/>
<path fill="#ec3714" d="M677 1367h15v15h-15z"/>
<path fill="#ee4011" d="M692 1367h15v15h-15zM364 1213h15v16h-15zM305 1167h15v16h-15zM260 1121h15v16h-15z"/>
<path fill="#f0490f" d="M707 1367h15v15h-15z"/>
<path fill="#f3500d" d="M722 1367h15v15h-15z"/>
<path fill="#e51f1b" d="M603 1352h15v15h-15z"/>
<path fill="#e82a18" d="M618 1352h15v15h-15zM156 875h15v16h-15z"/>
<path fill="#eb3415" d="M633 1352h15v15h-15zM558 1321h15v15h-15zM379 1229h15v15h-15zM215 1060h15v15h-15zM200 1029h15v15h-15z"/>
<path fill="#ed3d12" d="M648 1352h15v15h-15zM469 1275h15v15h-15zM439 1260h15v15h-15z"/>
<path fill="#f04710" d="M663 1352h14v15h-14z"/>
<path fill="#f24f0d" d="M677 1352h15v15h-15zM558 1306h15v15h-15z"/>
<path fill="#f4570b" d="M692 1352h15v15h-15z"/>
<path fill="#f65f09" d="M707 1352h15v15h-15zM663 1336h14v16h-14z"/>
<path fill="#f86707" d="M722 1352h15v15h-15z"/>
<path fill="#e62319" d="M573 1336h15v16h-15zM156 906h15v16h-15z"/>
<path fill="#ea2f16" d="M588 1336h15v16h-15z"/>
<path fill="#ec3913" d="M603 1336h15v16h-15z"/>
<path fill="#ef4410" d="M618 1336h15v16h-15zM543 1306h15v15h-15zM275 1137h15v15h-15z"/>
<path fill="#f24d0e" d="M633 1336h15v16h-15zM454 1260h15v15h-15z"/>
<path fill="#f4560b" d="M648 1336h15v16h-15zM185 968h15v15h-15z"/>
<path fill="#f96707" d="M677 1336h15v16h-15z"/>
<path fill="#fb6e05" d="M692 1336h15v16h-15zM648 1321h15v15h-15z"/>
<path fill="#fc7603" d="M707 1336h15v16h-15zM618 1306h15v15h-15z"/>
<path fill="#fe7c01" d="M722 1336h15v16h-15zM364 1183h15v15h-15zM260 1091h15v15h-15z"/>
<path fill="#e82718" d="M543 1321h15v15h-15zM394 1244h15v16h-15z"/>
<path fill="#ee3f12" d="M573 1321h15v15h-15z"/>
<path fill="#f14a0f" d="M588 1321h15v15h-15zM230 1075h15v16h-15z"/>
<path fill="#f3540c" d="M603 1321h15v15h-15zM335 1183h14v15h-14z"/>
<path fill="#f65d09" d="M618 1321h15v15h-15z"/>
<path fill="#f86607" d="M633 1321h15v15h-15zM394 1213h15v16h-15z"/>
<path fill="#fd7602" d="M663 1321h14v15h-14zM469 1244h15v16h-15zM409 1213h15v16h-15z"/>
<path fill="#ff7e00" d="M677 1321h15v15h-15zM633 1306h15v15h-15zM513 1260h15v15h-15z"/>
<path fill="#ff8603" d="M692 1321h15v15h-15zM454 1229h15v15h-15zM424 1213h15v16h-15z"/>
<path fill="#ff8f06" d="M707 1321h15v15h-15z"/>
<path fill="#ff9709" d="M722 1321h15v15h-15zM439 1213h15v16h-15z"/>
<path fill="#e51d1b" d="M499 1306h14v15h-14zM439 1275h15v15h-15zM260 1137h15v15h-15zM156 952h15v16h-15z"/>
<path fill="#e82b17" d="M513 1306h15v15h-15z"/>
<path fill="#ec3814" d="M528 1306h15v15h-15zM245 1106h15v15h-15z"/>
<path fill="#f55a0a" d="M573 1306h15v15h-15z"/>
<path fill="#f86408" d="M588 1306h15v15h-15z"/>
<path fill="#fa6d05" d="M603 1306h15v15h-15z"/>
<path fill="#ff8703" d="M648 1306h15v15h-15zM603 1290h15v16h-15zM349 1167h15v16h-15z"/>
<path fill="#ff9107" d="M663 1306h14v15h-14zM618 1290h15v16h-15zM499 1244h14v16h-14zM379 1183h15v15h-15zM335 1152h14v15h-14z"/>
<path fill="#ff990a" d="M677 1306h15v15h-15zM320 1137h15v15h-15z"/>
<path fill="#ffa20e" d="M692 1306h15v15h-15zM558 1260h15v15h-15zM230 1029h15v15h-15z"/>
<path fill="#ffa911" d="M707 1306h15v15h-15z"/>
<path fill="#ffb114" d="M722 1306h15v15h-15zM379 1167h15v16h-15zM335 1137h14v15h-14zM245 1044h15v16h-15z"/>
<path fill="#e51e1b" d="M469 1290h15v16h-15zM364 1229h15v15h-15zM305 1183h15v15h-15zM156 937h15v15h-15z"/>
<path fill="#e92d17" d="M484 1290h15v16h-15zM156 860h15v15h-15z"/>
<path fill="#ed3b13" d="M499 1290h14v16h-14zM320 1183h15v15h-15z"/>
<path fill="#f0480f" d="M513 1290h15v16h-15zM394 1229h15v15h-15z"/>
<path fill="#f4540c" d="M528 1290h15v16h-15zM379 1213h15v16h-15z"/>
<path fill="#f75f09" d="M543 1290h15v16h-15z"/>
<path fill="#f96a06" d="M558 1290h15v16h-15zM200 998h15v16h-15z"/>
<path fill="#fc7403" d="M573 1290h15v16h-15z"/>
<path fill="#fe7d01" d="M588 1290h15v16h-15zM171 845h14v15h-14z"/>
<path fill="#ff9b0b" d="M633 1290h15v16h-15z"/>
<path fill="#ffa40f" d="M648 1290h15v16h-15zM603 1275h15v15h-15zM394 1183h15v15h-15z"/>
<path fill="#ffac12" d="M663 1290h14v16h-14z"/>
<path fill="#ffb415" d="M677 1290h15v16h-15zM469 1213h15v16h-15z"/>
<path fill="#ffbc18" d="M692 1290h15v16h-15zM364 1152h15v15h-15z"/>
<path fill="#ffc31b" d="M707 1290h15v16h-15zM454 1198h15v15h-15z"/>
<path fill="#ffca1e" d="M722 1290h15v16h-15z"/>
<path fill="#e92e17" d="M454 1275h15v15h-15z"/>
<path fill="#f14b0e" d="M484 1275h15v15h-15zM349 1198h15v15h-15z"/>
<path fill="#f5580b" d="M499 1275h14v15h-14z"/>
<path fill="#f86407" d="M513 1275h15v15h-15z"/>
<path fill="#fb6f04" d="M528 1275h15v15h-15z"/>
<path fill="#fe7902" d="M543 1275h15v15h-15z"/>
<path fill="#ff8402" d="M558 1275h15v15h-15z"/>
<path fill="#ff8f07" d="M573 1275h15v15h-15z"/>
<path fill="#ff9a0b" d="M588 1275h15v15h-15z"/>
<path fill="#ffad12" d="M618 1275h15v15h-15zM573 1260h15v15h-15z"/>
<path fill="#ffb616" d="M633 1275h15v15h-15zM439 1198h15v15h-15zM185 891h15v15h-15z"/>
<path fill="#ffbf19" d="M648 1275h15v15h-15zM558 1244h15v16h-15zM290 1091h15v15h-15zM215 983h15v15h-15z"/>
<path fill="#ffc61c" d="M663 1275h14v15h-14zM528 1229h15v15h-15zM349 1137h15v15h-15z"/>
<path fill="#ffce1f" d="M677 1275h15v15h-15zM379 1152h15v15h-15zM335 1121h14v16h-14z"/>
<path fill="#ffd522" d="M692 1275h15v15h-15zM260 1044h15v16h-15zM230 998h15v16h-15zM215 968h15v15h-15z"/>
<path fill="#ffdb25" d="M707 1275h15v15h-15zM484 1198h15v15h-15z"/>
<path fill="#ffe227" d="M722 1275h15v15h-15zM618 1244h15v16h-15zM573 1229h15v15h-15z"/>
<path fill="#e92c17" d="M424 1260h15v15h-15z"/>
<path fill="#f55b0a" d="M469 1260h15v15h-15zM439 1244h15v16h-15zM320 1167h15v16h-15z"/>
<path fill="#f96806" d="M484 1260h15v15h-15zM230 1060h15v15h-15z"/>
<path fill="#fc7303" d="M499 1260h14v15h-14z"/>
<path fill="#ff8b05" d="M528 1260h15v15h-15z"/>
<path fill="#ff970a" d="M543 1260h15v15h-15z"/>
<path fill="#ffb716" d="M588 1260h15v15h-15z"/>
<path fill="#ffc01a" d="M603 1260h15v15h-15zM484 1213h15v16h-15z"/>
<path fill="#ffc81d" d="M618 1260h15v15h-15zM573 1244h15v16h-15z"/>
<path fill="#ffd020" d="M633 1260h15v15h-15zM543 1229h15v15h-15zM469 1198h15v15h-15z"/>
<path fill="#ffd823" d="M648 1260h15v15h-15zM185 829h15v16h-15z"/>
<path fill="#ffdf26" d="M663 1260h14v15h-14zM424 1167h15v16h-15z"/>
<path fill="#ffe629" d="M677 1260h15v15h-15zM499 1198h14v15h-14z"/>
<path fill="#ffec2c" d="M692 1260h15v15h-15z"/>
<path fill="#fff32e" d="M707 1260h15v15h-15zM290 1060h15v15h-15z"/>
<path fill="#fff830" d="M722 1260h15v15h-15zM424 1152h15v15h-15z"/>
<path fill="#f14c0e" d="M424 1244h15v16h-15z"/>
<path fill="#f96906" d="M454 1244h15v16h-15zM424 1229h15v15h-15zM349 1183h15v15h-15z"/>
<path fill="#ff8302" d="M484 1244h15v16h-15zM394 1198h15v15h-15zM230 1044h15v16h-15z"/>
<path fill="#ff9e0c" d="M513 1244h15v16h-15zM305 1121h15v16h-15z"/>
<path fill="#ffaa11" d="M528 1244h15v16h-15z"/>
<path fill="#ffb515" d="M543 1244h15v16h-15zM409 1183h15v15h-15z"/>
<path fill="#ffd121" d="M588 1244h15v16h-15z"/>
<path fill="#ffda24" d="M603 1244h15v16h-15zM290 1075h15v16h-15z"/>
<path fill="#ffe92a" d="M633 1244h15v16h-15z"/>
<path fill="#fff02d" d="M648 1244h15v16h-15zM513 1198h15v15h-15z"/>
<path fill="#fff730" d="M663 1244h14v16h-14zM454 1167h15v16h-15zM394 1137h15v15h-15z"/>
<path fill="#fffd32" d="M677 1244h15v16h-15z"/>
<path fill="#fafd34" d="M692 1244h15v16h-15z"/>
<path fill="#f2f935" d="M707 1244h15v16h-15zM603 1213h15v16h-15z"/>
<path fill="#ebf636" d="M722 1244h15v16h-15zM394 1121h15v16h-15z"/>
<path fill="#f5590a" d="M409 1229h15v15h-15z"/>
<path fill="#fd7802" d="M439 1229h15v15h-15zM320 1152h15v15h-15z"/>
<path fill="#ff9509" d="M469 1229h15v15h-15zM185 922h15v15h-15z"/>
<path fill="#ffa30e" d="M484 1229h15v15h-15z"/>
<path fill="#ffaf13" d="M499 1229h14v15h-14z"/>
<path fill="#ffbb18" d="M513 1229h15v15h-15z"/>
<path fill="#ffd924" d="M558 1229h15v15h-15zM275 1060h15v15h-15zM200 922h15v15h-15z"/>
<path fill="#ffea2b" d="M588 1229h15v15h-15zM469 1183h15v15h-15z"/>
<path fill="#fff22e" d="M603 1229h15v15h-15zM558 1213h15v16h-15zM364 1121h15v16h-15z"/>
<path fill="#fff931" d="M618 1229h15v15h-15zM528 1198h15v15h-15zM245 998h15v16h-15zM215 937h15v15h-15z"/>
<path fill="#fefe33" d="M633 1229h15v15h-15z"/>
<path fill="#f5fa34" d="M648 1229h15v15h-15z"/>
<path fill="#ecf735" d="M663 1229h14v15h-14z"/>
<path fill="#e4f336" d="M677 1229h15v15h-15z"/>
<path fill="#ddf037" d="M692 1229h15v15h-15zM588 1198h15v15h-15z"/>
<path fill="#d6ec38" d="M707 1229h15v15h-15z"/>
<path fill="#cfe939" d="M722 1229h15v15h-15z"/>
<path fill="#ffa60f" d="M454 1213h15v16h-15zM215 998h15v16h-15z"/>
<path fill="#ffcc1f" d="M499 1213h14v16h-14zM245 1029h15v15h-15zM185 860h15v15h-15z"/>
<path fill="#ffd623" d="M513 1213h15v16h-15z"/>
<path fill="#ffe027" d="M528 1213h15v16h-15z"/>
<path fill="#ffea2a" d="M543 1213h15v16h-15z"/>
<path fill="#fffa31" d="M573 1213h15v16h-15zM349 1106h15v15h-15z"/>
<path fill="#fbfd33" d="M588 1213h15v16h-15z"/>
<path fill="#e8f536" d="M618 1213h15v16h-15zM528 1183h15v15h-15zM424 1137h15v15h-15zM200 829h15v16h-15z"/>
<path fill="#e0f137" d="M633 1213h15v16h-15zM260 998h15v16h-15z"/>
<path fill="#d8ed38" d="M648 1213h15v16h-15z"/>
<path fill="#d0ea39" d="M663 1213h14v16h-14zM484 1152h15v15h-15z"/>
<path fill="#c9e73a" d="M677 1213h15v16h-15z"/>
<path fill="#c2e43b" d="M692 1213h15v16h-15zM379 1091h15v15h-15z"/>
<path fill="#bbe13c" d="M707 1213h15v16h-15z"/>
<path fill="#b5de3d" d="M722 1213h15v16h-15zM484 1137h15v15h-15zM230 906h15v16h-15z"/>
<path fill="#eb3315" d="M335 1198h14v15h-14z"/>
<path fill="#f76009" d="M364 1198h15v15h-15zM305 1152h15v15h-15zM260 1106h15v15h-15zM171 891h14v15h-14z"/>
<path fill="#fc7204" d="M379 1198h15v15h-15z"/>
<path fill="#ff9609" d="M409 1198h15v15h-15z"/>
<path fill="#ffa610" d="M424 1198h15v15h-15z"/>
<path fill="#fcfe33" d="M543 1198h15v15h-15z"/>
<path fill="#f1f935" d="M558 1198h15v15h-15zM364 1106h15v15h-15zM290 1044h15v16h-15z"/>
<path fill="#e7f436" d="M573 1198h15v15h-15zM349 1091h15v15h-15z"/>
<path fill="#d5ec38" d="M603 1198h15v15h-15zM245 968h15v15h-15zM230 937h15v15h-15z"/>
<path fill="#cce83a" d="M618 1198h15v15h-15zM528 1167h15v16h-15z"/>
<path fill="#c4e53b" d="M633 1198h15v15h-15z"/>
<path fill="#bde13c" d="M648 1198h15v15h-15zM305 1029h15v15h-15z"/>
<path fill="#b6de3c" d="M663 1198h14v15h-14z"/>
<path fill="#afdb3d" d="M677 1198h15v15h-15zM245 937h15v15h-15z"/>
<path fill="#a9d83e" d="M692 1198h15v15h-15z"/>
<path fill="#a3d63f" d="M707 1198h15v15h-15z"/>
<path fill="#9dd340" d="M722 1198h15v15h-15zM484 1121h15v16h-15z"/>
<path fill="#ffc41c" d="M424 1183h15v15h-15z"/>
<path fill="#ffd221" d="M439 1183h15v15h-15zM409 1167h15v16h-15z"/>
<path fill="#ffde26" d="M454 1183h15v15h-15zM394 1152h15v15h-15z"/>
<path fill="#fff42f" d="M484 1183h15v15h-15z"/>
<path fill="#fffe33" d="M499 1183h14v15h-14zM230 968h15v15h-15z"/>
<path fill="#f4fa34" d="M513 1183h15v15h-15zM275 1029h15v15h-15z"/>
<path fill="#def037" d="M543 1183h15v15h-15zM379 1106h15v15h-15z"/>
<path fill="#d4ec39" d="M558 1183h15v15h-15zM364 1091h15v15h-15z"/>
<path fill="#cae73a" d="M573 1183h15v15h-15z"/>
<path fill="#c2e33b" d="M588 1183h15v15h-15zM543 1167h15v16h-15z"/>
<path fill="#bae03c" d="M603 1183h15v15h-15z"/>
<path fill="#b2dc3d" d="M618 1183h15v15h-15zM454 1121h15v16h-15z"/>
<path fill="#abd93e" d="M633 1183h15v15h-15zM499 1137h14v15h-14zM275 983h15v15h-15z"/>
<path fill="#a4d63f" d="M648 1183h15v15h-15z"/>
<path fill="#9ed340" d="M663 1183h14v15h-14zM230 875h15v16h-15z"/>
<path fill="#98d140" d="M677 1183h15v15h-15zM573 1152h15v15h-15z"/>
<path fill="#92ce41" d="M692 1183h15v15h-15zM305 998h15v16h-15zM245 906h15v16h-15z"/>
<path fill="#8ccb42" d="M707 1183h15v15h-15zM230 829h15v16h-15z"/>
<path fill="#87c942" d="M722 1183h15v15h-15zM663 1167h14v16h-14zM245 891h15v15h-15z"/>
<path fill="#e6211a" d="M290 1167h15v16h-15zM275 1152h15v15h-15zM156 922h15v15h-15z"/>
<path fill="#fb7204" d="M335 1167h14v16h-14z"/>
<path fill="#ff9d0c" d="M364 1167h15v16h-15z"/>
<path fill="#ffc21b" d="M394 1167h15v16h-15zM185 875h15v16h-15z"/>
<path fill="#ffec2b" d="M439 1167h15v16h-15zM409 1152h15v15h-15z"/>
<path fill="#fbfd34" d="M469 1167h15v16h-15zM260 1014h15v15h-15z"/>
<path fill="#eef735" d="M484 1167h15v16h-15zM200 845h15v15h-15z"/>
<path fill="#e1f237" d="M499 1167h14v16h-14z"/>
<path fill="#d6ed38" d="M513 1167h15v16h-15zM305 1044h15v16h-15zM290 1029h15v15h-15z"/>
<path fill="#b9df3c" d="M558 1167h15v16h-15z"/>
<path fill="#b0dc3d" d="M573 1167h15v16h-15z"/>
<path fill="#a8d83e" d="M588 1167h15v16h-15zM543 1152h15v15h-15zM320 1029h15v15h-15zM230 891h15v15h-15z"/>
<path fill="#a1d53f" d="M603 1167h15v16h-15zM364 1060h15v15h-15zM260 952h15v16h-15z"/>
<path fill="#9ad240" d="M618 1167h15v16h-15zM454 1106h15v15h-15zM349 1044h15v16h-15z"/>
<path fill="#93cf41" d="M633 1167h15v16h-15z"/>
<path fill="#8dcc42" d="M648 1167h15v16h-15z"/>
<path fill="#82c743" d="M677 1167h15v16h-15zM573 1137h15v15h-15zM335 1014h14v15h-14zM290 968h15v15h-15z"/>
<path fill="#7dc444" d="M692 1167h15v16h-15z"/>
<path fill="#78c244" d="M707 1167h15v16h-15zM648 1152h15v15h-15zM364 1029h15v15h-15zM260 906h15v16h-15z"/>
<path fill="#73c045" d="M722 1167h15v16h-15zM663 1152h14v15h-14zM349 1014h15v15h-15zM290 952h15v16h-15z"/>
<path fill="#ef4311" d="M290 1152h15v15h-15z"/>
<path fill="#ffa810" d="M349 1152h15v15h-15z"/>
<path fill="#f8fc34" d="M439 1152h15v15h-15z"/>
<path fill="#eaf536" d="M454 1152h15v15h-15z"/>
<path fill="#dcef37" d="M469 1152h15v15h-15z"/>
<path fill="#c5e53a" d="M499 1152h14v15h-14z"/>
<path fill="#bbe03c" d="M513 1152h15v15h-15z"/>
<path fill="#b1dc3d" d="M528 1152h15v15h-15zM424 1106h15v15h-15zM349 1060h15v15h-15z"/>
<path fill="#a0d43f" d="M558 1152h15v15h-15zM245 922h15v15h-15z"/>
<path fill="#91ce41" d="M588 1152h15v15h-15zM260 937h15v15h-15z"/>
<path fill="#8acb42" d="M603 1152h15v15h-15z"/>
<path fill="#84c843" d="M618 1152h15v15h-15zM454 1091h15v15h-15zM424 1075h15v16h-15z"/>
<path fill="#7ec544" d="M633 1152h15v15h-15zM499 1106h14v15h-14zM379 1044h15v16h-15zM245 875h15v16h-15z"/>
<path fill="#6ebe46" d="M677 1152h15v15h-15zM573 1121h15v16h-15zM260 891h15v15h-15zM245 829h15v16h-15z"/>
<path fill="#69bc46" d="M692 1152h15v15h-15z"/>
<path fill="#64ba47" d="M707 1152h15v15h-15z"/>
<path fill="#60b848" d="M722 1152h15v15h-15zM663 1137h14v15h-14zM484 1075h15v16h-15zM320 968h15v15h-15z"/>
<path fill="#f76308" d="M290 1137h15v15h-15z"/>
<path fill="#ff7d01" d="M305 1137h15v15h-15z"/>
<path fill="#ffd824" d="M364 1137h15v15h-15zM305 1091h15v15h-15z"/>
<path fill="#ffe82a" d="M379 1137h15v15h-15zM335 1106h14v15h-14zM215 952h15v16h-15z"/>
<path fill="#f9fc34" d="M409 1137h15v15h-15z"/>
<path fill="#daee38" d="M439 1137h15v15h-15zM409 1121h15v16h-15zM320 1060h15v15h-15z"/>
<path fill="#cde83a" d="M454 1137h15v15h-15z"/>
<path fill="#c0e33b" d="M469 1137h15v15h-15z"/>
<path fill="#a2d53f" d="M513 1137h15v15h-15z"/>
<path fill="#99d140" d="M528 1137h15v15h-15zM424 1091h15v15h-15zM275 968h15v15h-15z"/>
<path fill="#91cd41" d="M543 1137h15v15h-15z"/>
<path fill="#89ca42" d="M558 1137h15v15h-15z"/>
<path fill="#7cc444" d="M588 1137h15v15h-15zM543 1121h15v16h-15z"/>
<path fill="#75c145" d="M603 1137h15v15h-15zM558 1121h15v16h-15z"/>
<path fill="#70bf46" d="M618 1137h15v15h-15z"/>
<path fill="#6abc46" d="M633 1137h15v15h-15z"/>
<path fill="#65ba47" d="M648 1137h15v15h-15z"/>
<path fill="#5cb648" d="M677 1137h15v15h-15zM573 1106h15v15h-15z"/>
<path fill="#57b449" d="M692 1137h15v15h-15zM409 1029h15v15h-15zM364 998h15v16h-15zM260 829h15v16h-15z"/>
<path fill="#53b249" d="M707 1137h15v15h-15zM648 1121h15v16h-15zM335 968h14v15h-14zM320 952h15v16h-15z"/>
<path fill="#4fb04a" d="M722 1137h15v15h-15zM663 1121h14v16h-14zM484 1060h15v15h-15zM424 1029h15v15h-15z"/>
<path fill="#f86308" d="M275 1121h15v16h-15z"/>
<path fill="#ff8000" d="M290 1121h15v16h-15zM275 1106h15v15h-15z"/>
<path fill="#ffb817" d="M320 1121h15v16h-15z"/>
<path fill="#ffe127" d="M349 1121h15v16h-15z"/>
<path fill="#fdfe33" d="M379 1121h15v16h-15zM335 1091h14v15h-14z"/>
<path fill="#cbe83a" d="M424 1121h15v16h-15zM349 1075h15v16h-15z"/>
<path fill="#bee23b" d="M439 1121h15v16h-15zM215 860h15v15h-15z"/>
<path fill="#a7d73e" d="M469 1121h15v16h-15z"/>
<path fill="#94cf41" d="M499 1121h14v16h-14zM290 983h15v15h-15z"/>
<path fill="#8bcb42" d="M513 1121h15v16h-15zM364 1044h15v16h-15z"/>
<path fill="#83c743" d="M528 1121h15v16h-15zM260 922h15v15h-15z"/>
<path fill="#68bb46" d="M588 1121h15v16h-15zM543 1106h15v15h-15z"/>
<path fill="#62b947" d="M603 1121h15v16h-15zM275 906h15v16h-15z"/>
<path fill="#5db648" d="M618 1121h15v16h-15zM528 1091h15v15h-15z"/>
<path fill="#58b449" d="M633 1121h15v16h-15z"/>
<path fill="#4dae4b" d="M677 1121h15v16h-15zM305 922h15v15h-15z"/>
<path fill="#4cad4e" d="M692 1121h15v16h-15zM588 1091h15v15h-15zM543 1075h15v16h-15zM469 1044h15v16h-15zM439 1029h15v15h-15zM349 968h15v15h-15zM335 952h14v16h-14z"/>
<path fill="#4cac50" d="M707 1121h15v16h-15zM648 1106h15v15h-15zM513 1060h15v15h-15zM394 998h15v16h-15z"/>
<path fill="#4bab52" d="M722 1121h15v16h-15zM663 1106h14v15h-14zM454 1029h15v15h-15zM379 983h15v15h-15z"/>
<path fill="#ffa10e" d="M290 1106h15v15h-15z"/>
<path fill="#ffbd19" d="M305 1106h15v15h-15zM230 1014h15v15h-15z"/>
<path fill="#ffd422" d="M320 1106h15v15h-15z"/>
<path fill="#cee939" d="M394 1106h15v15h-15z"/>
<path fill="#bfe23b" d="M409 1106h15v15h-15zM320 1044h15v16h-15z"/>
<path fill="#a5d73f" d="M439 1106h15v15h-15z"/>
<path fill="#90cd41" d="M469 1106h15v15h-15zM230 845h15v15h-15z"/>
<path fill="#87c943" d="M484 1106h15v15h-15z"/>
<path fill="#76c145" d="M513 1106h15v15h-15z"/>
<path fill="#6fbe46" d="M528 1106h15v15h-15zM320 983h15v15h-15z"/>
<path fill="#62b847" d="M558 1106h15v15h-15zM305 952h15v16h-15z"/>
<path fill="#56b349" d="M588 1106h15v15h-15zM543 1091h15v15h-15zM469 1060h15v15h-15zM439 1044h15v16h-15zM305 937h15v15h-15z"/>
<path fill="#51b149" d="M603 1106h15v15h-15zM394 1014h15v15h-15z"/>
<path fill="#4daf4a" d="M618 1106h15v15h-15zM379 998h15v16h-15z"/>
<path fill="#4cae4d" d="M633 1106h15v15h-15zM499 1060h14v15h-14zM409 1014h15v15h-15zM320 937h15v15h-15zM290 891h15v15h-15zM275 845h15v15h-15z"/>
<path fill="#4baa55" d="M677 1106h15v15h-15zM499 1044h14v16h-14zM409 998h15v16h-15zM349 952h15v16h-15zM305 891h15v15h-15z"/>
<path fill="#4aa957" d="M692 1106h15v15h-15zM588 1075h15v16h-15zM543 1060h15v15h-15zM290 845h15v15h-15z"/>
<path fill="#4aa859" d="M707 1106h15v15h-15zM648 1091h15v15h-15zM513 1044h15v16h-15zM379 968h15v15h-15zM305 875h15v16h-15z"/>
<path fill="#4aa75b" d="M722 1106h15v15h-15zM663 1091h14v15h-14z"/>
<path fill="#f4580b" d="M245 1091h15v15h-15z"/>
<path fill="#ffa10d" d="M275 1091h15v15h-15z"/>
<path fill="#ffee2c" d="M320 1091h15v15h-15z"/>
<path fill="#b3dd3d" d="M394 1091h15v15h-15zM215 829h15v16h-15z"/>
<path fill="#a6d73f" d="M409 1091h15v15h-15z"/>
<path fill="#8ecc42" d="M439 1091h15v15h-15z"/>
<path fill="#7bc444" d="M469 1091h15v15h-15z"/>
<path fill="#72c045" d="M484 1091h15v15h-15zM394 1044h15v16h-15zM245 845h15v15h-15z"/>
<path fill="#6bbc46" d="M499 1091h14v15h-14z"/>
<path fill="#63b947" d="M513 1091h15v15h-15zM349 998h15v16h-15z"/>
<path fill="#51b14a" d="M558 1091h15v15h-15zM290 906h15v16h-15z"/>
<path fill="#4daf4b" d="M573 1091h15v15h-15zM528 1075h15v16h-15zM275 860h15v15h-15z"/>
<path fill="#4cac51" d="M603 1091h15v15h-15zM558 1075h15v16h-15zM305 906h15v16h-15zM290 875h15v16h-15z"/>
<path fill="#4bab54" d="M618 1091h15v15h-15zM528 1060h15v15h-15zM364 968h15v15h-15z"/>
<path fill="#4ba956" d="M633 1091h15v15h-15zM469 1029h15v15h-15z"/>
<path fill="#49a65d" d="M677 1091h15v15h-15z"/>
<path fill="#49a55f" d="M692 1091h15v15h-15zM588 1060h15v15h-15z"/>
<path fill="#48a561" d="M707 1091h15v15h-15zM648 1075h15v16h-15zM513 1029h15v15h-15zM424 983h15v15h-15z"/>
<path fill="#48a463" d="M722 1091h15v15h-15zM663 1075h14v16h-14zM409 968h15v15h-15zM335 891h14v15h-14zM320 860h15v15h-15z"/>
<path fill="#fc7503" d="M245 1075h15v16h-15z"/>
<path fill="#ff9c0c" d="M260 1075h15v16h-15zM200 968h15v15h-15z"/>
<path fill="#ffbe19" d="M275 1075h15v16h-15z"/>
<path fill="#fff12e" d="M305 1075h15v16h-15zM275 1044h15v16h-15z"/>
<path fill="#f7fb34" d="M320 1075h15v16h-15z"/>
<path fill="#dff137" d="M335 1075h14v16h-14z"/>
<path fill="#b9e03c" d="M364 1075h15v16h-15z"/>
<path fill="#a9d93e" d="M379 1075h15v16h-15z"/>
<path fill="#9bd240" d="M394 1075h15v16h-15z"/>
<path fill="#8fcd41" d="M409 1075h15v16h-15z"/>
<path fill="#79c344" d="M439 1075h15v16h-15z"/>
<path fill="#70bf45" d="M454 1075h15v16h-15zM424 1060h15v15h-15zM335 998h14v16h-14zM305 968h15v15h-15z"/>
<path fill="#68bb47" d="M469 1075h15v16h-15zM409 1044h15v16h-15z"/>
<path fill="#59b448" d="M499 1075h14v16h-14z"/>
<path fill="#52b149" d="M513 1075h15v16h-15zM275 875h15v16h-15z"/>
<path fill="#4baa54" d="M573 1075h15v16h-15zM335 937h14v15h-14zM290 860h15v15h-15z"/>
<path fill="#4aa85a" d="M603 1075h15v16h-15zM558 1060h15v15h-15zM484 1029h15v15h-15zM454 1014h15v15h-15zM424 998h15v16h-15zM364 952h15v16h-15zM335 922h14v15h-14z"/>
<path fill="#49a75c" d="M618 1075h15v16h-15zM528 1044h15v16h-15zM409 983h15v15h-15zM305 860h15v15h-15z"/>
<path fill="#49a65f" d="M633 1075h15v16h-15zM543 1044h15v16h-15zM335 906h14v16h-14zM305 845h15v15h-15z"/>
<path fill="#48a365" d="M677 1075h15v16h-15zM499 1014h14v15h-14zM469 998h15v16h-15zM379 937h15v15h-15zM364 922h15v15h-15zM349 906h15v16h-15zM320 845h15v15h-15z"/>
<path fill="#47a267" d="M692 1075h15v16h-15zM588 1044h15v16h-15zM424 968h15v15h-15zM320 829h15v16h-15z"/>
<path fill="#47a169" d="M707 1075h15v16h-15zM603 1044h15v16h-15zM558 1029h15v15h-15zM335 860h14v15h-14z"/>
<path fill="#47a16a" d="M722 1075h15v16h-15zM663 1060h14v15h-14zM528 1014h15v15h-15zM439 968h15v15h-15zM394 937h15v15h-15zM379 922h15v15h-15zM364 906h15v16h-15z"/>
<path fill="#ff9308" d="M245 1060h15v15h-15z"/>
<path fill="#ffba18" d="M260 1060h15v15h-15z"/>
<path fill="#f3f935" d="M305 1060h15v15h-15z"/>
<path fill="#c4e43b" d="M335 1060h14v15h-14zM230 922h15v15h-15z"/>
<path fill="#93ce41" d="M379 1060h15v15h-15zM320 1014h15v15h-15z"/>
<path fill="#86c943" d="M394 1060h15v15h-15zM349 1029h15v15h-15z"/>
<path fill="#7ac344" d="M409 1060h15v15h-15zM275 937h15v15h-15z"/>
<path fill="#67bb47" d="M439 1060h15v15h-15zM364 1014h15v15h-15z"/>
<path fill="#5eb748" d="M454 1060h15v15h-15zM424 1044h15v16h-15z"/>
<path fill="#49a75d" d="M573 1060h15v15h-15zM320 891h15v15h-15z"/>
<path fill="#48a462" d="M603 1060h15v15h-15zM558 1044h15v16h-15zM454 998h15v16h-15z"/>
<path fill="#48a364" d="M618 1060h15v15h-15zM573 1044h15v16h-15zM439 983h15v15h-15zM394 952h15v16h-15z"/>
<path fill="#47a266" d="M633 1060h15v15h-15zM543 1029h15v15h-15zM335 875h14v16h-14z"/>
<path fill="#47a168" d="M648 1060h15v15h-15zM409 952h15v16h-15zM349 891h15v15h-15z"/>
<path fill="#46a06c" d="M677 1060h15v15h-15zM424 952h15v16h-15zM349 875h15v16h-15zM335 829h14v16h-14z"/>
<path fill="#469f6e" d="M692 1060h15v15h-15zM513 998h15v16h-15zM484 983h15v15h-15zM454 968h15v15h-15zM394 922h15v15h-15zM379 906h15v16h-15zM349 860h15v15h-15z"/>
<path fill="#469e6f" d="M707 1060h15v15h-15zM603 1029h15v15h-15zM558 1014h15v15h-15z"/>
<path fill="#459e71" d="M722 1060h15v15h-15zM663 1044h14v16h-14zM499 983h14v15h-14zM469 968h15v15h-15zM424 937h15v15h-15zM349 829h15v16h-15z"/>
<path fill="#f3530c" d="M215 1044h15v16h-15z"/>
<path fill="#acd93e" d="M335 1044h14v16h-14z"/>
<path fill="#4eaf4a" d="M454 1044h15v16h-15z"/>
<path fill="#4bac52" d="M484 1044h15v16h-15zM424 1014h15v15h-15z"/>
<path fill="#46a06b" d="M618 1044h15v16h-15zM573 1029h15v15h-15zM499 998h14v16h-14zM469 983h15v15h-15zM335 845h14v15h-14z"/>
<path fill="#469f6d" d="M633 1044h15v16h-15zM588 1029h15v15h-15zM543 1014h15v15h-15zM409 937h15v15h-15zM364 891h15v15h-15z"/>
<path fill="#469f6f" d="M648 1044h15v16h-15z"/>
<path fill="#459d72" d="M677 1044h15v16h-15zM409 922h15v15h-15zM394 906h15v16h-15z"/>
<path fill="#459c74" d="M692 1044h15v16h-15zM439 937h15v15h-15zM379 875h15v16h-15zM364 845h15v15h-15z"/>
<path fill="#449c76" d="M707 1044h15v16h-15zM528 983h15v15h-15zM364 829h15v16h-15z"/>
<path fill="#449b77" d="M722 1044h15v16h-15zM663 1029h14v15h-14zM618 1014h15v15h-15zM573 998h15v16h-15zM454 937h15v15h-15zM379 860h15v15h-15z"/>
<path fill="#fb6f05" d="M215 1029h15v15h-15z"/>
<path fill="#ffed2c" d="M260 1029h15v15h-15z"/>
<path fill="#96d041" d="M335 1029h14v15h-14zM230 860h15v15h-15z"/>
<path fill="#6cbd46" d="M379 1029h15v15h-15z"/>
<path fill="#61b847" d="M394 1029h15v15h-15zM335 983h14v15h-14z"/>
<path fill="#49a65e" d="M499 1029h14v15h-14zM469 1014h15v15h-15zM439 998h15v16h-15zM394 968h15v15h-15z"/>
<path fill="#48a464" d="M528 1029h15v15h-15z"/>
<path fill="#459d71" d="M618 1029h15v15h-15zM573 1014h15v15h-15zM379 891h15v15h-15z"/>
<path fill="#459d73" d="M633 1029h15v15h-15zM588 1014h15v15h-15zM543 998h15v16h-15zM513 983h15v15h-15zM484 968h15v15h-15zM454 952h15v16h-15zM364 860h15v15h-15z"/>
<path fill="#449c75" d="M648 1029h15v15h-15zM603 1014h15v15h-15zM558 998h15v16h-15zM469 952h15v16h-15zM424 922h15v15h-15zM409 906h15v16h-15zM394 891h15v15h-15z"/>
<path fill="#449a78" d="M677 1029h15v15h-15zM513 968h15v15h-15zM439 922h15v15h-15zM379 845h15v15h-15z"/>
<path fill="#439a7a" d="M692 1029h15v15h-15zM558 983h15v15h-15zM469 937h15v15h-15zM394 860h15v15h-15z"/>
<path fill="#43997b" d="M707 1029h15v15h-15zM454 922h15v15h-15zM439 906h15v16h-15zM409 875h15v16h-15z"/>
<path fill="#43997c" d="M722 1029h15v15h-15zM663 1014h14v15h-14zM618 998h15v16h-15zM573 983h15v15h-15zM543 968h15v15h-15zM484 937h15v15h-15zM424 891h15v15h-15zM394 845h15v15h-15z"/>
<path fill="#f2500d" d="M200 1014h15v15h-15z"/>
<path fill="#ff8a04" d="M215 1014h15v15h-15z"/>
<path fill="#ffe428" d="M245 1014h15v15h-15z"/>
<path fill="#d9ee38" d="M275 1014h15v15h-15z"/>
<path fill="#bde13b" d="M290 1014h15v15h-15z"/>
<path fill="#a6d73e" d="M305 1014h15v15h-15z"/>
<path fill="#5bb548" d="M379 1014h15v15h-15zM290 922h15v15h-15z"/>
<path fill="#4baa56" d="M439 1014h15v15h-15z"/>
<path fill="#48a562" d="M484 1014h15v15h-15z"/>
<path fill="#47a268" d="M513 1014h15v15h-15zM484 998h15v16h-15zM454 983h15v15h-15z"/>
<path fill="#449a79" d="M633 1014h15v15h-15zM588 998h15v16h-15zM424 906h15v16h-15zM409 891h15v15h-15zM379 829h15v16h-15z"/>
<path fill="#43997a" d="M648 1014h15v15h-15zM603 998h15v16h-15zM528 968h15v15h-15zM499 952h14v16h-14z"/>
<path fill="#43987d" d="M677 1014h15v15h-15zM588 983h15v15h-15zM513 952h15v16h-15zM469 922h15v15h-15zM409 860h15v15h-15zM394 829h15v16h-15z"/>
<path fill="#42987f" d="M692 1014h15v15h-15zM528 952h15v16h-15zM409 845h15v15h-15z"/>
<path fill="#429780" d="M707 1014h15v15h-15zM573 968h15v15h-15zM543 952h15v16h-15zM513 937h15v15h-15zM484 922h15v15h-15zM469 906h15v16h-15zM424 860h15v15h-15zM409 829h15v16h-15z"/>
<path fill="#429681" d="M722 1014h15v15h-15zM424 845h15v15h-15z"/>
<path fill="#e72519" d="M185 998h15v16h-15z"/>
<path fill="#c1e33b" d="M275 998h15v16h-15zM245 952h15v16h-15z"/>
<path fill="#a7d83e" d="M290 998h15v16h-15z"/>
<path fill="#80c643" d="M320 998h15v16h-15zM305 983h15v15h-15z"/>
<path fill="#459e70" d="M528 998h15v16h-15zM439 952h15v16h-15zM364 875h15v16h-15zM349 845h15v15h-15z"/>
<path fill="#43987e" d="M633 998h15v16h-15zM558 968h15v15h-15zM499 937h14v15h-14zM454 906h15v16h-15zM439 891h15v15h-15zM424 875h15v16h-15z"/>
<path fill="#42977f" d="M648 998h15v16h-15zM603 983h15v15h-15z"/>
<path fill="#429781" d="M663 998h14v16h-14zM618 983h15v15h-15zM454 891h15v15h-15zM439 875h15v16h-15z"/>
<path fill="#429682" d="M677 998h15v16h-15zM633 983h15v15h-15zM588 968h15v15h-15zM558 952h15v16h-15zM528 937h15v15h-15zM499 922h14v15h-14zM424 829h15v16h-15z"/>
<path fill="#429683" d="M692 998h15v16h-15zM603 968h15v15h-15zM484 906h15v16h-15zM469 891h15v15h-15zM454 875h15v16h-15zM439 860h15v15h-15z"/>
<path fill="#419584" d="M707 998h15v16h-15zM573 952h15v16h-15zM543 937h15v15h-15zM513 922h15v15h-15zM439 845h15v15h-15z"/>
<path fill="#419585" d="M722 998h15v16h-15zM663 983h14v15h-14zM618 968h15v15h-15zM588 952h15v16h-15zM528 922h15v15h-15zM499 906h14v16h-14zM484 891h15v15h-15zM469 875h15v16h-15zM454 860h15v15h-15zM439 829h15v16h-15z"/>
<path fill="#ee3e12" d="M185 983h15v15h-15z"/>
<path fill="#ff8201" d="M200 983h15v15h-15zM171 829h14v16h-14z"/>
<path fill="#ffeb2b" d="M230 983h15v15h-15z"/>
<path fill="#edf735" d="M245 983h15v15h-15z"/>
<path fill="#c8e63a" d="M260 983h15v15h-15z"/>
<path fill="#54b249" d="M349 983h15v15h-15z"/>
<path fill="#4dae4c" d="M364 983h15v15h-15z"/>
<path fill="#4aa958" d="M394 983h15v15h-15zM320 906h15v16h-15zM290 829h15v16h-15z"/>
<path fill="#449b78" d="M543 983h15v15h-15zM484 952h15v16h-15zM394 875h15v16h-15z"/>
<path fill="#429583" d="M648 983h15v15h-15z"/>
<path fill="#419486" d="M677 983h15v15h-15zM633 968h15v15h-15zM558 937h15v15h-15zM513 906h15v16h-15zM454 845h15v15h-15z"/>
<path fill="#419487" d="M692 983h15v15h-15zM648 968h15v15h-15zM603 952h15v16h-15zM573 937h15v15h-15zM543 922h15v15h-15zM499 891h14v15h-14zM484 875h15v16h-15zM469 860h15v15h-15zM454 829h15v16h-15z"/>
<path fill="#419388" d="M707 983h15v15h-15zM663 968h14v15h-14zM618 952h15v16h-15zM528 906h15v16h-15zM469 845h15v15h-15z"/>
<path fill="#409389" d="M722 983h15v15h-15zM633 952h15v16h-15zM588 937h15v15h-15zM558 922h15v15h-15zM513 891h15v15h-15zM499 875h14v16h-14zM484 860h15v15h-15zM469 829h15v16h-15z"/>
<path fill="#e41c1c" d="M156 968h15v15h-15z"/>
<path fill="#b4dd3d" d="M260 968h15v15h-15z"/>
<path fill="#449b76" d="M499 968h14v15h-14z"/>
<path fill="#40938a" d="M677 968h15v15h-15zM603 937h15v15h-15zM543 906h15v16h-15z"/>
<path fill="#40928b" d="M692 968h15v15h-15zM648 952h15v16h-15zM618 937h15v15h-15zM588 922h15v15h-15zM558 906h15v16h-15zM513 875h15v16h-15zM499 860h14v15h-14zM484 829h15v16h-15z"/>
<path fill="#40928c" d="M707 968h15v15h-15zM663 952h14v16h-14zM543 891h15v15h-15zM499 845h14v15h-14z"/>
<path fill="#40918d" d="M722 968h15v15h-15zM677 952h15v16h-15zM603 922h15v15h-15zM573 906h15v16h-15zM558 891h15v15h-15zM499 829h14v16h-14z"/>
<path fill="#e6201a" d="M171 952h14v16h-14z"/>
<path fill="#fa6c05" d="M185 952h15v16h-15zM171 875h14v16h-14z"/>
<path fill="#ffb315" d="M200 952h15v16h-15z"/>
<path fill="#e9f536" d="M230 952h15v16h-15z"/>
<path fill="#88ca42" d="M275 952h15v16h-15z"/>
<path fill="#49a560" d="M379 952h15v16h-15zM364 937h15v15h-15zM349 922h15v15h-15zM320 875h15v16h-15zM305 829h15v16h-15z"/>
<path fill="#3f918e" d="M692 952h15v16h-15zM648 937h15v15h-15zM618 922h15v15h-15zM588 906h15v16h-15zM543 875h15v16h-15zM528 860h15v15h-15zM513 845h15v15h-15zM513 829h15v16h-15z"/>
<path fill="#3f908f" d="M707 952h15v16h-15zM663 937h14v15h-14zM633 922h15v15h-15zM603 906h15v16h-15zM573 891h15v15h-15zM558 875h15v16h-15zM543 860h15v15h-15zM528 845h15v15h-15z"/>
<path fill="#3f9090" d="M722 952h15v16h-15zM677 937h15v15h-15zM648 922h15v15h-15zM618 906h15v16h-15zM588 891h15v15h-15zM573 875h15v16h-15zM543 845h15v15h-15zM528 829h15v16h-15z"/>
<path fill="#ea3116" d="M171 937h14v15h-14z"/>
<path fill="#ff7f00" d="M185 937h15v15h-15z"/>
<path fill="#ffc71d" d="M200 937h15v15h-15z"/>
<path fill="#66ba47" d="M290 937h15v15h-15zM260 875h15v16h-15z"/>
<path fill="#4aa85b" d="M349 937h15v15h-15z"/>
<path fill="#40918c" d="M633 937h15v15h-15zM528 875h15v16h-15zM513 860h15v15h-15z"/>
<path fill="#3f9091" d="M692 937h15v15h-15zM558 860h15v15h-15z"/>
<path fill="#3f8f91" d="M707 937h15v15h-15zM663 922h14v15h-14zM633 906h15v16h-15zM603 891h15v15h-15zM543 829h15v16h-15z"/>
<path fill="#3f8f92" d="M722 937h15v15h-15zM677 922h15v15h-15zM648 906h15v16h-15zM618 891h15v15h-15zM588 875h15v16h-15zM573 860h15v15h-15zM558 845h15v15h-15zM558 829h15v16h-15z"/>
<path fill="#ef4211" d="M171 922h14v15h-14z"/>
<path fill="#f3fa35" d="M215 922h15v15h-15z"/>
<path fill="#6dbd46" d="M275 922h15v15h-15z"/>
<path fill="#4bab53" d="M320 922h15v15h-15z"/>
<path fill="#40928a" d="M573 922h15v15h-15zM528 891h15v15h-15zM484 845h15v15h-15z"/>
<path fill="#3e8f93" d="M692 922h15v15h-15zM603 875h15v16h-15zM573 845h15v15h-15z"/>
<path fill="#3e8e94" d="M707 922h15v15h-15zM677 906h15v16h-15zM648 891h15v15h-15zM618 875h15v16h-15zM603 860h15v15h-15zM588 845h15v15h-15zM573 829h15v16h-15z"/>
<path fill="#3e8e95" d="M722 922h15v15h-15zM692 906h15v16h-15zM663 891h14v15h-14zM633 875h15v16h-15zM618 860h15v15h-15zM603 845h15v15h-15zM588 829h15v16h-15z"/>
<path fill="#f3510d" d="M171 906h14v16h-14z"/>
<path fill="#ffa710" d="M185 906h15v16h-15z"/>
<path fill="#ffe72a" d="M200 906h15v16h-15z"/>
<path fill="#e2f237" d="M215 906h15v16h-15z"/>
<path fill="#3e8e93" d="M663 906h14v16h-14zM633 891h15v15h-15zM588 860h15v15h-15z"/>
<path fill="#3e8d96" d="M707 906h15v16h-15zM677 891h15v15h-15zM648 875h15v16h-15zM633 860h15v15h-15zM618 845h15v15h-15zM603 829h15v16h-15z"/>
<path fill="#3e8d97" d="M722 906h15v16h-15zM692 891h15v15h-15zM663 875h29v16h-29zM648 860h15v15h-15zM633 845h15v15h-15zM618 829h15v16h-15z"/>
<path fill="#e72619" d="M156 891h15v15h-15z"/>
<path fill="#fff42e" d="M200 891h15v15h-15z"/>
<path fill="#d3eb39" d="M215 891h15v15h-15z"/>
<path fill="#59b548" d="M275 891h15v15h-15z"/>
<path fill="#3e8c97" d="M707 891h15v15h-15z"/>
<path fill="#3d8c98" d="M722 891h15v15h-15zM692 875h15v16h-15zM663 860h14v15h-14zM648 845h15v15h-15zM633 829h15v16h-15z"/>
<path fill="#fffe32" d="M200 875h15v16h-15z"/>
<path fill="#c7e63a" d="M215 875h15v16h-15z"/>
<path fill="#3d8c99" d="M707 875h15v16h-15zM677 860h30v15h-30zM663 845h14v15h-14zM648 829h29v16h-29z"/>
<path fill="#3d8c9a" d="M722 875h15v16h-15zM677 845h15v15h-15z"/>
<path fill="#fd7603" d="M171 860h14v15h-14z"/>
<path fill="#f6fb34" d="M200 860h15v15h-15z"/>
<path fill="#77c245" d="M245 860h15v15h-15z"/>
<path fill="#5fb748" d="M260 860h15v15h-15z"/>
<path fill="#3d8b9a" d="M707 860h15v15h-15zM692 845h15v15h-15zM677 829h15v16h-15z"/>
<path fill="#3d8b9b" d="M722 860h15v15h-15zM707 845h15v15h-15zM692 829h15v16h-15z"/>
<path fill="#ea3016" d="M156 845h15v15h-15z"/>
<path fill="#ffd321" d="M185 845h15v15h-15z"/>
<path fill="#b7df3c" d="M215 845h15v15h-15z"/>
<path fill="#5ab548" d="M260 845h15v15h-15z"/>
<path fill="#3d8b9c" d="M722 845h15v15h-15zM707 829h15v16h-15z"/>
<path fill="#4cad4f" d="M275 829h15v16h-15z"/>
<path fill="#3d8a9c" d="M722 829h15v16h-15z"/>
</g>
<g shape-rendering="crispEdges">
<path fill="#e41a1c" d="M971 1413h15v16h-15zM971 1398h15v15h-15z"/>
<path fill="#e82918" d="M986 1413h15v16h-15z"/>
<path fill="#f65c0a" d="M1001 1413h14v16h-14z"/>
<path fill="#ff9609" d="M1015 1413h15v16h-15z"/>
<path fill="#ffc51c" d="M1030 1413h15v16h-15z"/>
<path fill="#ffe92a" d="M1045 1413h15v16h-15zM1030 1398h15v15h-15zM1015 1382h15v16h-15z"/>
<path fill="#f9fd34" d="M1060 1413h15v16h-15z"/>
<path fill="#e1f237" d="M1075 1413h15v16h-15z"/>
<path fill="#cde939" d="M1090 1413h15v16h-15z"/>
<path fill="#b9df3c" d="M1105 1413h15v16h-15zM1015 1336h15v16h-15z"/>
<path fill="#a6d73e" d="M1120 1413h15v16h-15zM1090 1398h15v15h-15z"/>
<path fill="#95cf41" d="M1135 1413h15v16h-15z"/>
<path fill="#86c943" d="M1150 1413h15v16h-15z"/>
<path fill="#79c344" d="M1165 1413h14v16h-14zM1135 1398h15v15h-15zM1015 1306h15v15h-15z"/>
<path fill="#6dbd46" d="M1179 1413h15v16h-15zM1120 1382h15v16h-15z"/>
<path fill="#63b947" d="M1194 1413h15v16h-15z"/>
<path fill="#59b448" d="M1209 1413h15v16h-15z"/>
<path fill="#51b14a" d="M1224 1413h15v16h-15z"/>
<path fill="#4dae4c" d="M1239 1413h15v16h-15zM971 1167h15v16h-15z"/>
<path fill="#4cac50" d="M1254 1413h15v16h-15z"/>
<path fill="#4bab54" d="M1269 1413h15v16h-15zM1165 1367h14v15h-14z"/>
<path fill="#4aa957" d="M1284 1413h15v16h-15zM1179 1367h15v15h-15z"/>
<path fill="#4aa85a" d="M1299 1413h15v16h-15zM1194 1367h15v15h-15zM1150 1352h15v15h-15z"/>
<path fill="#49a75d" d="M1314 1413h15v16h-15zM1165 1352h14v15h-14zM1090 1321h15v15h-15zM1030 1260h15v15h-15z"/>
<path fill="#49a560" d="M1329 1413h14v16h-14zM1299 1398h15v15h-15zM1224 1367h15v15h-15zM1179 1352h15v15h-15zM986 1167h15v16h-15z"/>
<path fill="#48a462" d="M1343 1413h15v16h-15zM1239 1367h15v15h-15zM1194 1352h15v15h-15zM971 1121h15v16h-15z"/>
<path fill="#48a364" d="M1358 1413h15v16h-15zM1254 1367h15v15h-15zM1150 1336h15v16h-15z"/>
<path fill="#47a266" d="M1373 1413h15v16h-15zM1269 1367h15v15h-15zM1075 1290h15v16h-15z"/>
<path fill="#47a268" d="M1388 1413h15v16h-15zM1314 1382h15v16h-15zM1120 1321h15v15h-15z"/>
<path fill="#47a16a" d="M1403 1413h15v16h-15zM1329 1382h14v16h-14zM1299 1367h15v15h-15zM1179 1336h15v16h-15z"/>
<path fill="#46a06c" d="M1418 1413h15v16h-15zM1388 1398h15v15h-15zM1314 1367h15v15h-15zM1194 1336h15v16h-15zM1105 1306h15v15h-15zM1060 1260h15v15h-15z"/>
<path fill="#469f6d" d="M1433 1413h15v16h-15zM1358 1382h15v16h-15zM1090 1290h15v16h-15zM1075 1275h15v15h-15zM1001 1167h14v16h-14zM986 1137h15v15h-15z"/>
<path fill="#469f6f" d="M1448 1413h15v16h-15zM1373 1382h15v16h-15z"/>
<path fill="#459e70" d="M1463 1413h15v16h-15zM1418 1398h15v15h-15zM1388 1382h15v16h-15zM1343 1367h15v15h-15zM1299 1352h15v15h-15zM1224 1336h15v16h-15zM1045 1229h15v15h-15zM971 1091h15v15h-15z"/>
<path fill="#459d71" d="M1478 1413h15v16h-15zM1239 1336h15v16h-15z"/>
<path fill="#459d73" d="M1493 1413h14v16h-14zM1418 1382h15v16h-15zM1373 1367h15v15h-15zM1329 1352h14v15h-14zM1254 1336h15v16h-15zM1179 1321h15v15h-15zM1075 1260h15v15h-15z"/>
<path fill="#459c74" d="M1507 1413h15v16h-15zM1463 1398h15v15h-15zM1433 1382h15v16h-15zM1388 1367h15v15h-15zM1105 1290h15v16h-15zM1090 1275h15v15h-15zM1030 1198h15v15h-15zM1001 1152h14v15h-14zM986 1121h15v16h-15z"/>
<path fill="#449c75" d="M1522 1413h15v16h-15zM1478 1398h15v15h-15zM1403 1367h15v15h-15zM1343 1352h15v15h-15zM1269 1336h15v16h-15zM1194 1321h15v15h-15zM1135 1306h15v15h-15z"/>
<path fill="#449b76" d="M1537 1413h15v16h-15zM1493 1398h14v15h-14zM1358 1352h15v15h-15zM1284 1336h15v16h-15zM971 1075h15v16h-15z"/>
<path fill="#ef4410" d="M986 1398h15v15h-15z"/>
<path fill="#ff8904" d="M1001 1398h14v15h-14z"/>
<path fill="#ffc91e" d="M1015 1398h15v15h-15z"/>
<path fill="#f7fc34" d="M1045 1398h15v15h-15z"/>
<path fill="#d8ed38" d="M1060 1398h15v15h-15z"/>
<path fill="#bce13c" d="M1075 1398h15v15h-15z"/>
<path fill="#96d041" d="M1105 1398h15v15h-15z"/>
<path fill="#88c942" d="M1120 1398h15v15h-15z"/>
<path fill="#6cbd46" d="M1150 1398h15v15h-15z"/>
<path fill="#60b748" d="M1165 1398h14v15h-14zM1015 1290h15v16h-15z"/>
<path fill="#56b349" d="M1179 1398h15v15h-15z"/>
<path fill="#4eaf4a" d="M1194 1398h15v15h-15z"/>
<path fill="#4cad4e" d="M1209 1398h15v15h-15z"/>
<path fill="#4bac52" d="M1224 1398h15v15h-15zM1120 1352h15v15h-15z"/>
<path fill="#4baa55" d="M1239 1398h15v15h-15zM1075 1321h15v15h-15zM1060 1306h15v15h-15zM1045 1290h15v16h-15zM1030 1275h15v15h-15z"/>
<path fill="#4aa958" d="M1254 1398h15v15h-15zM986 1183h15v15h-15z"/>
<path fill="#4aa75b" d="M1269 1398h15v15h-15z"/>
<path fill="#49a65e" d="M1284 1398h15v15h-15zM1075 1306h15v15h-15zM1060 1290h15v16h-15zM1045 1275h15v15h-15zM1001 1198h14v15h-14z"/>
<path fill="#48a463" d="M1314 1398h15v15h-15zM1284 1382h15v16h-15zM1105 1321h15v15h-15zM1030 1244h15v16h-15z"/>
<path fill="#48a365" d="M1329 1398h14v15h-14zM1209 1352h15v15h-15zM1045 1260h15v15h-15zM1015 1213h15v16h-15zM1001 1183h14v15h-14z"/>
<path fill="#47a267" d="M1343 1398h15v15h-15zM1224 1352h15v15h-15zM1165 1336h14v16h-14zM986 1152h15v15h-15z"/>
<path fill="#47a169" d="M1358 1398h15v15h-15zM1239 1352h15v15h-15zM1030 1229h15v15h-15zM971 1106h15v15h-15z"/>
<path fill="#46a06b" d="M1373 1398h15v15h-15zM1343 1382h15v16h-15zM1254 1352h15v15h-15zM1135 1321h15v15h-15zM1045 1244h15v16h-15zM1015 1198h15v15h-15z"/>
<path fill="#469f6e" d="M1403 1398h15v15h-15zM1329 1367h14v15h-14zM1284 1352h15v15h-15zM1209 1336h15v16h-15zM1150 1321h15v15h-15zM1030 1213h15v16h-15z"/>
<path fill="#459e71" d="M1433 1398h15v15h-15zM1358 1367h15v15h-15zM1165 1321h14v15h-14zM1120 1306h15v15h-15z"/>
<path fill="#459d72" d="M1448 1398h15v15h-15zM1403 1382h15v16h-15zM1314 1352h15v15h-15zM1060 1244h15v16h-15zM1015 1183h15v15h-15z"/>
<path fill="#449b77" d="M1507 1398h15v15h-15zM1463 1382h15v16h-15zM1418 1367h15v15h-15zM1373 1352h15v15h-15zM1209 1321h15v15h-15zM1150 1306h15v15h-15zM1060 1229h15v15h-15z"/>
<path fill="#449a78" d="M1522 1398h15v15h-15zM1478 1382h15v16h-15z"/>
<path fill="#449a79" d="M1537 1398h15v15h-15zM1493 1382h14v16h-14zM1448 1367h15v15h-15zM1388 1352h15v15h-15zM1314 1336h15v16h-15zM1224 1321h15v15h-15zM1120 1290h15v16h-15zM1090 1260h15v15h-15zM1015 1167h15v16h-15z"/>
<path fill="#e92c17" d="M971 1382h15v16h-15z"/>
<path fill="#f86507" d="M986 1382h15v16h-15z"/>
<path fill="#ffb214" d="M1001 1382h14v16h-14zM986 1352h15v15h-15z"/>
<path fill="#f3fa34" d="M1030 1382h15v16h-15z"/>
<path fill="#d0ea39" d="M1045 1382h15v16h-15z"/>
<path fill="#b3dd3d" d="M1060 1382h15v16h-15z"/>
<path fill="#99d140" d="M1075 1382h15v16h-15z"/>
<path fill="#85c843" d="M1090 1382h15v16h-15z"/>
<path fill="#78c244" d="M1105 1382h15v16h-15zM986 1244h15v16h-15z"/>
<path fill="#62b847" d="M1135 1382h15v16h-15z"/>
<path fill="#57b349" d="M1150 1382h15v16h-15z"/>
<path fill="#4daf4a" d="M1165 1382h14v16h-14zM1135 1367h15v15h-15zM1075 1336h15v16h-15zM1015 1275h15v15h-15z"/>
<path fill="#4cad4f" d="M1179 1382h15v16h-15zM1150 1367h15v15h-15zM1001 1229h14v15h-14zM986 1198h15v15h-15z"/>
<path fill="#4bab53" d="M1194 1382h15v16h-15zM1090 1336h15v16h-15zM971 1152h15v15h-15z"/>
<path fill="#4baa56" d="M1209 1382h15v16h-15zM1135 1352h15v15h-15zM1001 1213h14v16h-14z"/>
<path fill="#4aa859" d="M1224 1382h15v16h-15zM1015 1244h15v16h-15z"/>
<path fill="#49a75c" d="M1239 1382h15v16h-15z"/>
<path fill="#49a65f" d="M1254 1382h15v16h-15zM1015 1229h15v15h-15z"/>
<path fill="#48a561" d="M1269 1382h15v16h-15zM1135 1336h15v16h-15z"/>
<path fill="#47a366" d="M1299 1382h15v16h-15zM1090 1306h15v15h-15zM1060 1275h15v15h-15z"/>
<path fill="#449c76" d="M1448 1382h15v16h-15zM1045 1213h15v16h-15z"/>
<path fill="#43997a" d="M1507 1382h15v16h-15zM1463 1367h15v15h-15zM1329 1336h14v16h-14zM1001 1137h14v15h-14z"/>
<path fill="#43997b" d="M1522 1382h15v16h-15zM1478 1367h15v15h-15zM1418 1352h15v15h-15zM1239 1321h15v15h-15zM1045 1198h15v15h-15zM971 1060h15v15h-15z"/>
<path fill="#43997c" d="M1537 1382h15v16h-15zM1493 1367h14v15h-14zM1433 1352h15v15h-15zM1343 1336h15v16h-15zM1254 1321h15v15h-15zM1179 1306h15v15h-15zM1135 1290h15v16h-15zM1060 1213h15v16h-15z"/>
<path fill="#ee3f12" d="M971 1367h15v15h-15z"/>
<path fill="#ff8a05" d="M986 1367h15v15h-15z"/>
<path fill="#ffd422" d="M1001 1367h14v15h-14z"/>
<path fill="#fcfe33" d="M1015 1367h15v15h-15z"/>
<path fill="#cfe939" d="M1030 1367h15v15h-15z"/>
<path fill="#acda3e" d="M1045 1367h15v15h-15z"/>
<path fill="#90cd41" d="M1060 1367h15v15h-15z"/>
<path fill="#7ac344" d="M1075 1367h15v15h-15z"/>
<path fill="#69bc46" d="M1090 1367h15v15h-15z"/>
<path fill="#5eb748" d="M1105 1367h15v15h-15zM1060 1336h15v16h-15zM1045 1321h15v15h-15z"/>
<path fill="#55b349" d="M1120 1367h15v15h-15z"/>
<path fill="#49a65d" d="M1209 1367h15v15h-15zM1120 1336h15v16h-15z"/>
<path fill="#47a168" d="M1284 1367h15v15h-15z"/>
<path fill="#449b78" d="M1433 1367h15v15h-15zM1299 1336h15v16h-15zM1075 1244h15v16h-15z"/>
<path fill="#43987e" d="M1507 1367h15v15h-15zM1463 1352h15v15h-15zM1373 1336h15v16h-15zM1269 1321h15v15h-15zM1194 1306h15v15h-15zM1090 1244h15v16h-15z"/>
<path fill="#42987f" d="M1522 1367h15v15h-15z"/>
<path fill="#429780" d="M1537 1367h15v15h-15zM1493 1352h14v15h-14zM1403 1336h15v16h-15zM1209 1306h15v15h-15zM1015 1152h15v15h-15zM1001 1121h14v16h-14zM986 1091h15v15h-15z"/>
<path fill="#f4540c" d="M971 1352h15v15h-15z"/>
<path fill="#fff22e" d="M1001 1352h14v15h-14z"/>
<path fill="#dcef38" d="M1015 1352h15v15h-15z"/>
<path fill="#afdb3d" d="M1030 1352h15v15h-15z"/>
<path fill="#8dcc42" d="M1045 1352h15v15h-15zM986 1260h15v15h-15z"/>
<path fill="#74c145" d="M1060 1352h15v15h-15zM1045 1336h15v16h-15z"/>
<path fill="#61b847" d="M1075 1352h15v15h-15z"/>
<path fill="#52b149" d="M1090 1352h15v15h-15z"/>
<path fill="#4cae4d" d="M1105 1352h15v15h-15z"/>
<path fill="#46a06d" d="M1269 1352h15v15h-15z"/>
<path fill="#439a7a" d="M1403 1352h15v15h-15zM1165 1306h14v15h-14zM1105 1275h15v15h-15zM1030 1183h15v15h-15zM986 1106h15v15h-15z"/>
<path fill="#43987d" d="M1448 1352h15v15h-15zM1358 1336h15v16h-15zM1075 1229h15v15h-15z"/>
<path fill="#42977f" d="M1478 1352h15v15h-15zM1388 1336h15v16h-15zM1284 1321h15v15h-15zM1150 1290h15v16h-15zM1120 1275h15v15h-15zM1105 1260h15v15h-15zM971 1044h15v16h-15z"/>
<path fill="#429681" d="M1507 1352h15v15h-15zM1418 1336h15v16h-15zM1165 1290h14v16h-14z"/>
<path fill="#429682" d="M1522 1352h15v15h-15zM1433 1336h15v16h-15zM1314 1321h15v15h-15zM1224 1306h15v15h-15zM1135 1275h15v15h-15zM1090 1229h15v15h-15z"/>
<path fill="#429683" d="M1537 1352h15v15h-15zM1448 1336h15v16h-15zM1329 1321h14v15h-14zM1105 1244h15v16h-15z"/>
<path fill="#fb7104" d="M971 1336h15v16h-15z"/>
<path fill="#ffd522" d="M986 1336h15v16h-15z"/>
<path fill="#e8f536" d="M1001 1336h14v16h-14z"/>
<path fill="#92ce41" d="M1030 1336h15v16h-15z"/>
<path fill="#4aa959" d="M1105 1336h15v16h-15z"/>
<path fill="#419584" d="M1463 1336h15v16h-15zM1343 1321h15v15h-15zM1239 1306h15v15h-15zM1179 1290h15v16h-15z"/>
<path fill="#419585" d="M1478 1336h15v16h-15zM1358 1321h15v15h-15zM1254 1306h15v15h-15zM1150 1275h15v15h-15zM1090 1213h15v16h-15zM1015 1137h15v15h-15zM986 1075h15v16h-15z"/>
<path fill="#419486" d="M1493 1336h14v16h-14zM1373 1321h15v15h-15zM1194 1290h15v16h-15zM1105 1229h15v15h-15zM1075 1198h15v15h-15zM1060 1183h15v15h-15zM1001 1106h14v15h-14z"/>
<path fill="#419487" d="M1507 1336h30v16h-30zM1388 1321h15v15h-15zM1269 1306h15v15h-15zM1135 1260h15v15h-15zM1120 1244h15v16h-15zM1045 1167h15v16h-15zM1030 1152h15v15h-15zM971 1014h15v15h-15z"/>
<path fill="#419388" d="M1537 1336h15v16h-15zM1403 1321h15v15h-15zM1284 1306h15v15h-15zM1209 1290h15v16h-15z"/>
<path fill="#ff9509" d="M971 1321h15v15h-15z"/>
<path fill="#fff52f" d="M986 1321h15v15h-15z"/>
<path fill="#c3e43b" d="M1001 1321h14v15h-14zM986 1290h15v16h-15z"/>
<path fill="#97d040" d="M1015 1321h15v15h-15zM971 1229h15v15h-15z"/>
<path fill="#77c245" d="M1030 1321h15v15h-15z"/>
<path fill="#4daf4b" d="M1060 1321h15v15h-15zM1045 1306h15v15h-15z"/>
<path fill="#429781" d="M1299 1321h15v15h-15zM1075 1213h15v16h-15zM1060 1198h15v15h-15zM1045 1183h15v15h-15zM1030 1167h15v16h-15z"/>
<path fill="#409389" d="M1418 1321h30v15h-30zM1299 1306h15v15h-15zM986 1060h15v15h-15z"/>
<path fill="#40928a" d="M1448 1321h15v15h-15zM1314 1306h15v15h-15zM1224 1290h15v16h-15zM1015 1121h15v16h-15zM971 998h15v16h-15z"/>
<path fill="#40928b" d="M1463 1321h15v15h-15zM1329 1306h14v15h-14zM1135 1244h15v16h-15zM1120 1229h15v15h-15zM1075 1183h15v15h-15zM1001 1091h14v15h-14z"/>
<path fill="#40928c" d="M1478 1321h15v15h-15zM1239 1290h15v16h-15zM1194 1275h15v15h-15zM1060 1167h15v16h-15zM1045 1152h15v15h-15zM1030 1137h15v15h-15z"/>
<path fill="#40918c" d="M1493 1321h14v15h-14zM1343 1306h15v15h-15zM1165 1260h14v15h-14z"/>
<path fill="#40918d" d="M1507 1321h15v15h-15zM1358 1306h15v15h-15zM1254 1290h15v16h-15zM986 1044h15v16h-15zM971 983h15v15h-15z"/>
<path fill="#3f918e" d="M1522 1321h30v15h-30zM1373 1306h15v15h-15zM1269 1290h15v16h-15zM1209 1275h15v15h-15zM1150 1244h15v16h-15zM1135 1229h15v15h-15zM1120 1213h15v16h-15zM1105 1198h15v15h-15z"/>
<path fill="#ffbd19" d="M971 1306h15v15h-15z"/>
<path fill="#e6f436" d="M986 1306h15v15h-15z"/>
<path fill="#a2d53f" d="M1001 1306h14v15h-14z"/>
<path fill="#5fb748" d="M1030 1306h15v15h-15zM1001 1260h14v15h-14z"/>
<path fill="#3f908f" d="M1388 1306h30v15h-30zM1284 1290h15v16h-15zM1179 1260h15v15h-15zM1090 1183h15v15h-15zM1015 1106h15v15h-15zM1001 1075h14v16h-14zM971 968h15v15h-15z"/>
<path fill="#3f9090" d="M1418 1306h15v15h-15zM1299 1290h15v16h-15zM1224 1275h15v15h-15zM1165 1244h14v16h-14zM1075 1167h15v16h-15zM1030 1121h15v16h-15zM986 1029h15v15h-15z"/>
<path fill="#3f8f91" d="M1433 1306h30v15h-30zM1314 1290h15v16h-15zM1150 1229h15v15h-15zM1135 1213h15v16h-15zM1120 1198h15v15h-15zM1045 1137h15v15h-15z"/>
<path fill="#3f8f92" d="M1463 1306h30v15h-30zM1329 1290h14v16h-14zM1239 1275h15v15h-15zM1179 1244h15v16h-15zM1105 1183h15v15h-15zM1001 1060h14v15h-14zM971 952h15v16h-15z"/>
<path fill="#3e8f93" d="M1493 1306h14v15h-14zM1254 1275h15v15h-15zM1209 1260h15v15h-15zM1015 1091h15v15h-15z"/>
<path fill="#3e8e93" d="M1507 1306h15v15h-15zM1343 1290h15v16h-15zM986 1014h15v15h-15z"/>
<path fill="#3e8e94" d="M1522 1306h30v15h-30zM1358 1290h15v16h-15zM1269 1275h15v15h-15zM1224 1260h15v15h-15zM1165 1229h14v15h-14zM1150 1213h15v16h-15zM1090 1167h15v16h-15zM1030 1106h15v15h-15zM971 937h15v15h-15z"/>
<path fill="#ffe027" d="M971 1290h15v16h-15z"/>
<path fill="#87c943" d="M1001 1290h14v16h-14z"/>
<path fill="#4dae4b" d="M1030 1290h15v16h-15z"/>
<path fill="#3e8e95" d="M1373 1290h15v16h-15zM1284 1275h15v15h-15zM1194 1244h15v16h-15zM1135 1198h15v15h-15zM1075 1152h15v15h-15zM1060 1137h15v15h-15zM1045 1121h15v16h-15z"/>
<path fill="#3e8d95" d="M1388 1290h15v16h-15zM1001 1044h14v16h-14zM971 922h15v15h-15z"/>
<path fill="#3e8d96" d="M1403 1290h30v16h-30zM1299 1275h15v15h-15zM1239 1260h15v15h-15zM1209 1244h15v16h-15zM1179 1229h15v15h-15zM1120 1183h15v15h-15zM1015 1075h15v16h-15zM986 998h15v16h-15z"/>
<path fill="#3e8d97" d="M1433 1290h30v16h-30zM1314 1275h15v15h-15zM1254 1260h15v15h-15zM1165 1213h14v16h-14zM1105 1167h15v16h-15zM971 906h15v16h-15z"/>
<path fill="#3d8c98" d="M1463 1290h30v16h-30zM1329 1275h29v15h-29zM1269 1260h15v15h-15zM1224 1244h15v16h-15zM1194 1229h15v15h-15zM1150 1198h15v15h-15zM1030 1091h15v15h-15zM1001 1029h14v15h-14zM986 983h15v15h-15zM971 891h15v15h-15z"/>
<path fill="#3d8c99" d="M1493 1290h44v16h-44zM1358 1275h15v15h-15zM1284 1260h15v15h-15zM1239 1244h15v16h-15zM1179 1213h15v16h-15zM1135 1183h15v15h-15zM1090 1152h15v15h-15zM1075 1137h15v15h-15zM1060 1121h15v16h-15zM1045 1106h15v15h-15zM1015 1060h15v15h-15z"/>
<path fill="#3d8c9a" d="M1537 1290h15v16h-15zM1373 1275h15v15h-15zM1209 1229h15v15h-15zM971 875h15v16h-15z"/>
<path fill="#ffff33" d="M971 1275h15v15h-15z"/>
<path fill="#a6d73f" d="M986 1275h15v15h-15z"/>
<path fill="#70bf45" d="M1001 1275h14v15h-14z"/>
<path fill="#419488" d="M1165 1275h14v15h-14z"/>
<path fill="#40938a" d="M1179 1275h15v15h-15zM1150 1260h15v15h-15zM1105 1213h15v16h-15zM1090 1198h15v15h-15z"/>
<path fill="#3d8b9a" d="M1388 1275h15v15h-15zM1299 1260h15v15h-15zM1254 1244h15v16h-15zM1165 1198h14v15h-14zM1120 1167h15v16h-15zM1001 1014h14v15h-14zM986 968h15v15h-15z"/>
<path fill="#3d8b9b" d="M1403 1275h30v15h-30zM1314 1260h29v15h-29zM1269 1244h15v16h-15zM1224 1229h15v15h-15zM1194 1213h15v16h-15zM1030 1075h15v16h-15zM971 860h15v15h-15z"/>
<path fill="#3d8b9c" d="M1433 1275h30v15h-30zM1343 1260h15v15h-15zM1150 1183h15v15h-15zM1045 1091h15v15h-15zM1015 1044h15v16h-15zM986 952h15v16h-15zM971 845h15v15h-15z"/>
<path fill="#3d8a9c" d="M1463 1275h15v15h-15zM1284 1244h15v16h-15zM1239 1229h15v15h-15zM1179 1198h15v15h-15zM1105 1152h15v15h-15zM1075 1121h15v16h-15zM1060 1106h15v15h-15zM1001 998h14v16h-14z"/>
<path fill="#3c8a9d" d="M1478 1275h59v15h-59zM1358 1260h30v15h-30zM1299 1244h15v16h-15zM1254 1229h15v15h-15zM1209 1213h15v16h-15zM1135 1167h15v16h-15zM1090 1137h15v15h-15zM1030 1060h15v15h-15zM971 829h15v16h-15z"/>
<path fill="#3c8a9e" d="M1537 1275h15v15h-15zM1388 1260h30v15h-30zM1314 1244h15v16h-15zM1269 1229h15v15h-15zM1224 1213h15v16h-15zM1165 1183h14v15h-14zM1015 1029h15v15h-15zM986 937h15v15h-15z"/>
<path fill="#d9ee38" d="M971 1260h15v15h-15z"/>
<path fill="#4bab52" d="M1015 1260h15v15h-15z"/>
<path fill="#429583" d="M1120 1260h15v15h-15zM971 1029h15v15h-15z"/>
<path fill="#3f9091" d="M1194 1260h15v15h-15zM1060 1152h15v15h-15z"/>
<path fill="#3c899f" d="M1418 1260h45v15h-45zM1343 1244h15v16h-15zM1284 1229h15v15h-15zM1239 1213h15v16h-15zM1120 1152h15v15h-15zM1075 1106h15v15h-15zM1060 1091h15v15h-15zM1045 1075h15v16h-15zM986 922h15v15h-15z"/>
<path fill="#3c89a0" d="M1463 1260h59v15h-59zM1358 1244h30v16h-30zM1299 1229h30v15h-30zM1254 1213h15v16h-15zM1209 1198h15v15h-15zM1179 1183h15v15h-15zM1150 1167h15v16h-15zM1105 1137h15v15h-15zM1090 1121h15v16h-15zM1030 1044h15v16h-15zM1015 1014h15v15h-15zM1001 968h14v15h-14zM986 906h15v16h-15z"/>
<path fill="#3c88a1" d="M1522 1260h30v15h-30zM1388 1244h45v16h-45zM1329 1229h14v15h-14zM1269 1213h15v16h-15zM1224 1198h15v15h-15zM1135 1152h15v15h-15zM1045 1060h15v15h-15z"/>
<path fill="#b6de3c" d="M971 1244h15v16h-15z"/>
<path fill="#51b149" d="M1001 1244h14v16h-14z"/>
<path fill="#3c899e" d="M1329 1244h14v16h-14zM1194 1198h15v15h-15zM1001 983h14v15h-14z"/>
<path fill="#3b88a2" d="M1433 1244h45v16h-45zM1343 1229h30v15h-30zM1284 1213h30v16h-30zM1239 1198h15v15h-15zM1194 1183h15v15h-15zM1165 1167h14v16h-14zM1120 1137h15v15h-15zM1105 1121h15v16h-15zM1090 1106h15v15h-15zM1075 1091h15v15h-15zM1060 1075h15v16h-15zM1030 1029h15v15h-15zM1015 998h15v16h-15zM1001 952h14v16h-14zM986 891h15v15h-15z"/>
<path fill="#3b88a3" d="M1478 1244h15v16h-15zM1373 1229h15v15h-15z"/>
<path fill="#3b87a3" d="M1493 1244h59v16h-59zM1388 1229h30v15h-30zM1314 1213h15v16h-15zM1254 1198h15v15h-15zM1209 1183h15v15h-15zM1179 1167h15v16h-15zM1150 1152h15v15h-15zM1045 1044h15v16h-15zM1015 983h15v15h-15zM1001 937h14v15h-14zM986 875h15v16h-15z"/>
<path fill="#65ba47" d="M986 1229h15v15h-15z"/>
<path fill="#3b87a4" d="M1418 1229h45v15h-45zM1329 1213h29v16h-29zM1269 1198h30v15h-30zM1224 1183h15v15h-15zM1135 1137h15v15h-15zM1060 1060h15v15h-15zM1030 1014h15v15h-15zM1001 922h14v15h-14zM986 860h15v15h-15z"/>
<path fill="#3b87a5" d="M1463 1229h15v15h-15zM1358 1213h15v16h-15zM1299 1198h15v15h-15zM1165 1152h14v15h-14zM1120 1121h15v16h-15zM1105 1106h15v15h-15zM1090 1091h15v15h-15zM1075 1075h15v16h-15zM986 845h15v15h-15z"/>
<path fill="#3b86a5" d="M1478 1229h44v15h-44zM1373 1213h30v16h-30zM1314 1198h15v15h-15zM1239 1183h15v15h-15zM1194 1167h15v16h-15zM1045 1029h15v15h-15zM1015 968h15v15h-15zM1001 906h14v16h-14zM986 829h15v16h-15z"/>
<path fill="#3b86a6" d="M1522 1229h30v15h-30zM1403 1213h45v16h-45zM1329 1198h29v15h-29zM1254 1183h15v15h-15zM1209 1167h15v16h-15zM1179 1152h15v15h-15zM1150 1137h15v15h-15zM1135 1121h15v16h-15zM1075 1060h15v15h-15zM1060 1044h15v16h-15zM1030 998h15v16h-15zM1015 952h15v16h-15z"/>
<path fill="#7dc444" d="M971 1213h15v16h-15z"/>
<path fill="#54b249" d="M986 1213h15v16h-15z"/>
<path fill="#3a86a7" d="M1448 1213h30v16h-30zM1358 1198h15v15h-15zM1269 1183h30v15h-30zM1120 1106h15v15h-15zM1105 1091h15v15h-15zM1090 1075h15v16h-15zM1045 1014h15v15h-15zM1001 891h14v15h-14z"/>
<path fill="#3a85a7" d="M1478 1213h29v16h-29zM1373 1198h15v15h-15zM1165 1137h14v15h-14zM1060 1029h15v15h-15zM1030 983h15v15h-15zM1015 937h15v15h-15zM1001 875h14v16h-14z"/>
<path fill="#3a85a8" d="M1507 1213h45v16h-45zM1388 1198h45v15h-45zM1299 1183h30v15h-30zM1224 1167h30v16h-30zM1194 1152h15v15h-15zM1150 1121h15v16h-15zM1135 1106h15v15h-15zM1090 1060h15v15h-15zM1075 1044h15v16h-15zM1045 998h15v16h-15zM1001 860h14v15h-14z"/>
<path fill="#68bb47" d="M971 1198h15v15h-15z"/>
<path fill="#3a85a9" d="M1433 1198h74v15h-74zM1329 1183h44v15h-44zM1254 1167h15v16h-15zM1209 1152h15v15h-15zM1179 1137h15v15h-15zM1165 1121h14v16h-14zM1120 1091h15v15h-15zM1105 1075h15v16h-15zM1075 1029h15v15h-15zM1060 1014h15v15h-15zM1030 968h15v15h-15zM1015 922h15v15h-15zM1001 845h14v15h-14z"/>
<path fill="#3a84a9" d="M1507 1198h15v15h-15zM1269 1167h15v16h-15zM1045 983h15v15h-15zM1015 906h15v16h-15z"/>
<path fill="#3a84aa" d="M1522 1198h30v15h-30zM1373 1183h60v15h-60zM1284 1167h30v16h-30zM1224 1152h15v15h-15zM1194 1137h15v15h-15zM1179 1121h15v16h-15zM1150 1106h15v15h-15zM1135 1091h15v15h-15zM1120 1075h15v16h-15zM1105 1060h15v15h-15zM1090 1044h15v16h-15zM1060 998h15v16h-15zM1030 952h15v16h-15zM1015 891h15v15h-15zM1001 829h14v16h-14z"/>
<path fill="#58b449" d="M971 1183h15v15h-15z"/>
<path fill="#3a84ab" d="M1433 1183h119v15h-119zM1314 1167h59v16h-59zM1239 1152h15v15h-15zM1209 1137h15v15h-15zM1165 1106h14v15h-14zM1150 1091h15v15h-15zM1090 1029h15v15h-15zM1075 1014h15v15h-15zM1060 983h15v15h-15zM1045 968h15v15h-15zM1030 937h15v15h-15zM1015 875h15v16h-15z"/>
<path fill="#3983ac" d="M1373 1167h90v16h-90zM1269 1152h45v15h-45zM1224 1137h15v15h-15zM1179 1106h15v15h-15zM1165 1091h14v15h-14zM1120 1060h15v15h-15zM1090 1014h15v15h-15zM1075 998h15v16h-15zM1060 968h15v15h-15zM1045 952h15v16h-15zM1030 906h15v16h-15zM1015 860h15v15h-15zM1015 845h15v15h-15z"/>
<path fill="#3983ad" d="M1463 1167h89v16h-89zM1314 1152h74v15h-74zM1239 1137h30v15h-30zM1209 1121h15v16h-15zM1194 1106h15v15h-15zM1179 1091h15v15h-15zM1150 1075h29v16h-29zM1135 1060h15v15h-15zM1120 1044h15v16h-15zM1105 1029h15v15h-15zM1090 998h15v16h-15zM1075 983h15v15h-15zM1060 952h15v16h-15zM1045 937h15v15h-15zM1030 891h15v15h-15zM1015 829h15v16h-15z"/>
<path fill="#3984ac" d="M1254 1152h15v15h-15zM1194 1121h15v16h-15zM1135 1075h15v16h-15zM1105 1044h15v16h-15zM1030 922h15v15h-15z"/>
<path fill="#3983ae" d="M1388 1152h75v15h-75zM1269 1137h30v15h-30zM1224 1121h15v16h-15zM1209 1106h15v15h-15zM1150 1060h15v15h-15zM1105 1014h15v15h-15zM1075 968h15v15h-15zM1045 922h15v15h-15zM1030 875h15v16h-15z"/>
<path fill="#3982ae" d="M1463 1152h89v15h-89zM1299 1137h44v15h-44zM1239 1121h30v16h-30zM1194 1091h15v15h-15zM1179 1075h15v16h-15zM1165 1060h14v15h-14zM1135 1044h15v16h-15zM1120 1029h15v15h-15zM1090 983h15v15h-15zM1075 952h15v16h-15zM1060 937h15v15h-15zM1045 906h15v16h-15zM1030 860h15v15h-15z"/>
<path fill="#4aa85b" d="M971 1137h15v15h-15z"/>
<path fill="#3982af" d="M1343 1137h209v15h-209zM1269 1121h74v16h-74zM1224 1106h45v15h-45zM1209 1091h15v15h-15zM1194 1075h15v16h-15zM1179 1060h15v15h-15zM1150 1044h29v16h-29zM1135 1029h15v15h-15zM1120 1014h15v15h-15zM1105 998h15v16h-15zM1090 968h15v15h-15zM1075 937h15v15h-15zM1060 922h15v15h-15zM1045 891h15v15h-15zM1030 845h15v15h-15zM1030 829h15v16h-15z"/>
<path fill="#3982b0" d="M1343 1121h105v16h-105zM1269 1106h45v15h-45zM1224 1091h30v15h-30zM1209 1075h15v16h-15zM1194 1060h15v15h-15zM1179 1044h15v16h-15zM1150 1029h15v15h-15zM1135 1014h15v15h-15zM1120 998h15v16h-15zM1105 983h15v15h-15zM1090 952h15v16h-15zM1075 922h15v15h-15zM1060 906h15v16h-15zM1045 875h15v16h-15z"/>
<path fill="#3981b0" d="M1448 1121h104v16h-104zM1314 1106h29v15h-29zM1254 1091h30v15h-30zM1224 1075h15v16h-15zM1209 1060h15v15h-15zM1165 1029h14v15h-14zM1105 968h15v15h-15zM1090 937h15v15h-15zM1060 891h15v15h-15zM1045 860h15v15h-15z"/>
<path fill="#3881b1" d="M1343 1106h209v15h-209zM1284 1091h89v15h-89zM1239 1075h60v16h-60zM1224 1060h30v15h-30zM1194 1044h30v16h-30zM1179 1029h15v15h-15zM1150 1014h29v15h-29zM1135 998h15v16h-15zM1120 983h15v15h-15zM1120 968h15v15h-15zM1105 952h15v16h-15zM1105 937h15v15h-15zM1090 922h15v15h-15zM1075 906h30v16h-30zM1075 891h15v15h-15zM1060 875h15v16h-15zM1045 845h15v15h-15zM1045 829h15v16h-15z"/>
<path fill="#3881b2" d="M1373 1091h179v15h-179zM1299 1075h89v16h-89zM1254 1060h60v15h-60zM1224 1044h45v16h-45zM1194 1029h30v15h-30zM1179 1014h30v15h-30zM1150 998h29v16h-29zM1135 983h30v15h-30zM1135 968h15v15h-15zM1120 952h15v16h-15zM1105 922h15v15h-15zM1090 891h15v15h-15zM1075 875h15v16h-15zM1060 860h30v15h-30zM1060 845h15v15h-15z"/>
<path fill="#3880b2" d="M1388 1075h15v16h-15zM1314 1060h15v15h-15zM1224 1029h15v15h-15zM1120 937h15v15h-15zM1105 906h15v16h-15zM1090 875h15v16h-15z"/>
<path fill="#3880b3" d="M1403 1075h149v16h-149zM1329 1060h164v15h-164zM1269 1044h104v16h-104zM1239 1029h60v15h-60zM1209 1014h45v15h-45zM1179 998h45v16h-45zM1165 983h29v15h-29zM1150 968h29v15h-29zM1135 952h30v16h-30zM1135 937h15v15h-15zM1120 922h15v15h-15zM1120 906h15v16h-15zM1105 891h15v15h-15zM1105 875h15v16h-15zM1090 860h15v15h-15zM1075 845h30v15h-30zM1060 829h30v16h-30z"/>
<path fill="#3880b4" d="M1493 1060h59v15h-59zM1373 1044h179v16h-179zM1299 1029h149v15h-149zM1254 1014h104v15h-104zM1224 998h60v16h-60zM1194 983h45v15h-45zM1179 968h30v15h-30zM1165 952h29v16h-29zM1150 937h29v15h-29zM1135 922h30v15h-30zM1135 906h30v16h-30zM1120 891h30v15h-30zM1120 875h15v16h-15zM1105 860h30v15h-30zM1105 845h15v15h-15zM1090 829h30v16h-30z"/>
<path fill="#3880b5" d="M1448 1029h59v15h-59zM1358 1014h15v15h-15zM1284 998h15v16h-15zM1239 983h15v15h-15zM1209 968h15v15h-15zM1165 922h14v15h-14zM1135 875h15v16h-15zM1120 845h15v15h-15z"/>
<path fill="#387fb5" d="M1507 1029h45v15h-45zM1373 1014h179v15h-179zM1299 998h164v16h-164zM1254 983h104v15h-104zM1224 968h75v15h-75zM1194 952h60v16h-60zM1179 937h45v15h-45zM1179 922h30v15h-30zM1165 906h29v16h-29zM1150 891h44v15h-44zM1150 875h29v16h-29zM1135 860h44v15h-44zM1135 845h44v15h-44zM1120 829h45v16h-45z"/>
<path fill="#377fb6" d="M1463 998h89v16h-89zM1358 983h194v15h-194zM1299 968h253v15h-253zM1254 952h179v16h-179zM1224 937h134v15h-134zM1209 922h105v15h-105zM1194 906h90v16h-90zM1194 891h60v15h-60zM1179 875h60v16h-60zM1179 860h45v15h-45zM1179 845h45v15h-45zM1165 829h59v16h-59z"/>
<path fill="#377fb7" d="M1433 952h119v16h-119zM1358 937h149v15h-149zM1314 922h74v15h-74zM1284 906h59v16h-59zM1254 891h45v15h-45zM1239 875h45v16h-45zM1224 860h30v15h-30zM1224 845h30v15h-30zM1224 829h15v16h-15z"/>
<path fill="#377eb7" d="M1507 937h45v15h-45zM1388 922h164v15h-164zM1343 906h209v16h-209zM1299 891h208v15h-208zM1284 875h119v16h-119zM1254 860h119v15h-119zM1254 845h89v15h-89zM1239 829h90v16h-90z"/>
<path fill="#377eb8" d="M1507 891h45v15h-45zM1403 875h149v16h-149zM1373 860h179v15h-179zM1343 845h209v15h-209zM1329 829h223v16h-223z"/>
</g>
<path class="tk" d="M156.46 624.70v-10M187.02 624.70v-15M217.58 624.70v-10M248.14 624.70v-15M278.70 624.70v-10M309.26 624.70v-15M339.82 624.70v-10M370.38 624.70v-15M400.94 624.70v-10M431.50 624.70v-15M462.06 624.70v-10M492.62 624.70v-15M523.18 624.70v-10M553.74 624.70v-15M584.30 624.70v-10M614.86 624.70v-15M645.42 624.70v-10M675.98 624.70v-15M706.54 624.70v-10M125.90 573.79h10M125.90 522.88h15M125.90 471.98h10M125.90 421.07h15M125.90 370.16h10M125.90 319.25h15M125.90 268.34h10M125.90 217.43h15M125.90 166.52h10M125.90 115.62h15M125.90 64.71h10"/>
<rect class="ax" x="125.90" y="13.80" width="611.20" height="610.90"/>
<text class="t" text-anchor="middle" x="125.9" y="666.1" textLength="19.8" lengthAdjust="spacingAndGlyphs">0</text>
<text class="t" text-anchor="middle" x="187.0" y="666.1" textLength="19.8" lengthAdjust="spacingAndGlyphs">1</text>
<text class="t" text-anchor="middle" x="248.1" y="666.1" textLength="19.8" lengthAdjust="spacingAndGlyphs">2</text>
<text class="t" text-anchor="middle" x="309.3" y="666.1" textLength="19.8" lengthAdjust="spacingAndGlyphs">3</text>
<text class="t" text-anchor="middle" x="370.4" y="666.1" textLength="19.8" lengthAdjust="spacingAndGlyphs">4</text>
<text class="t" text-anchor="middle" x="431.5" y="666.1" textLength="19.8" lengthAdjust="spacingAndGlyphs">5</text>
<text class="t" text-anchor="middle" x="492.6" y="666.1" textLength="19.8" lengthAdjust="spacingAndGlyphs">6</text>
<text class="t" text-anchor="middle" x="553.7" y="666.1" textLength="19.8" lengthAdjust="spacingAndGlyphs">7</text>
<text class="t" text-anchor="middle" x="614.9" y="666.1" textLength="19.8" lengthAdjust="spacingAndGlyphs">8</text>
<text class="t" text-anchor="middle" x="676.0" y="666.1" textLength="19.8" lengthAdjust="spacingAndGlyphs">9</text>
<text class="t" text-anchor="middle" x="737.7" y="666.1" textLength="39.6" lengthAdjust="spacingAndGlyphs">10</text>
<text class="t" text-anchor="end" x="110.4" y="638.4" textLength="19.8" lengthAdjust="spacingAndGlyphs">0</text>
<text class="t" text-anchor="end" x="110.4" y="536.6" textLength="19.8" lengthAdjust="spacingAndGlyphs">5</text>
<text class="t" text-anchor="end" x="110.4" y="434.8" textLength="39.6" lengthAdjust="spacingAndGlyphs">10</text>
<text class="t" text-anchor="end" x="110.4" y="332.9" textLength="39.6" lengthAdjust="spacingAndGlyphs">15</text>
<text class="t" text-anchor="end" x="110.4" y="231.1" textLength="39.6" lengthAdjust="spacingAndGlyphs">20</text>
<text class="t" text-anchor="end" x="110.4" y="129.3" textLength="39.6" lengthAdjust="spacingAndGlyphs">25</text>
<text class="t" text-anchor="end" x="110.4" y="27.5" textLength="39.6" lengthAdjust="spacingAndGlyphs">30</text>
<path class="tk" d="M971.56 624.70v-10M1002.12 624.70v-15M1032.68 624.70v-10M1063.24 624.70v-15M1093.80 624.70v-10M1124.36 624.70v-15M1154.92 624.70v-10M1185.48 624.70v-15M1216.04 624.70v-10M1246.60 624.70v-15M1277.16 624.70v-10M1307.72 624.70v-15M1338.28 624.70v-10M1368.84 624.70v-15M1399.40 624.70v-10M1429.96 624.70v-15M1460.52 624.70v-10M1491.08 624.70v-15M1521.64 624.70v-10M941.00 573.79h10M941.00 522.88h15M941.00 471.98h10M941.00 421.07h15M941.00 370.16h10M941.00 319.25h15M941.00 268.34h10M941.00 217.43h15M941.00 166.52h10M941.00 115.62h15M941.00 64.71h10"/>
<rect class="ax" x="941.00" y="13.80" width="611.20" height="610.90"/>
<text class="t" text-anchor="middle" x="941.0" y="666.1" textLength="19.8" lengthAdjust="spacingAndGlyphs">0</text>
<text class="t" text-anchor="middle" x="1002.1" y="666.1" textLength="19.8" lengthAdjust="spacingAndGlyphs">1</text>
<text class="t" text-anchor="middle" x="1063.2" y="666.1" textLength="19.8" lengthAdjust="spacingAndGlyphs">2</text>
<text class="t" text-anchor="middle" x="1124.4" y="666.1" textLength="19.8" lengthAdjust="spacingAndGlyphs">3</text>
<text class="t" text-anchor="middle" x="1185.5" y="666.1" textLength="19.8" lengthAdjust="spacingAndGlyphs">4</text>
<text class="t" text-anchor="middle" x="1246.6" y="666.1" textLength="19.8" lengthAdjust="spacingAndGlyphs">5</text>
<text class="t" text-anchor="middle" x="1307.7" y="666.1" textLength="19.8" lengthAdjust="spacingAndGlyphs">6</text>
<text class="t" text-anchor="middle" x="1368.8" y="666.1" textLength="19.8" lengthAdjust="spacingAndGlyphs">7</text>
<text class="t" text-anchor="middle" x="1430.0" y="666.1" textLength="19.8" lengthAdjust="spacingAndGlyphs">8</text>
<text class="t" text-anchor="middle" x="1491.1" y="666.1" textLength="19.8" lengthAdjust="spacingAndGlyphs">9</text>
<text class="t" text-anchor="middle" x="1552.8" y="666.1" textLength="39.6" lengthAdjust="spacingAndGlyphs">10</text>
<text class="t" text-anchor="end" x="925.5" y="638.4" textLength="19.8" lengthAdjust="spacingAndGlyphs">0</text>
<text class="t" text-anchor="end" x="925.5" y="536.6" textLength="19.8" lengthAdjust="spacingAndGlyphs">5</text>
<text class="t" text-anchor="end" x="925.5" y="434.8" textLength="39.6" lengthAdjust="spacingAndGlyphs">10</text>
<text class="t" text-anchor="end" x="925.5" y="332.9" textLength="39.6" lengthAdjust="spacingAndGlyphs">15</text>
<text class="t" text-anchor="end" x="925.5" y="231.1" textLength="39.6" lengthAdjust="spacingAndGlyphs">20</text>
<text class="t" text-anchor="end" x="925.5" y="129.3" textLength="39.6" lengthAdjust="spacingAndGlyphs">25</text>
<text class="t" text-anchor="end" x="925.5" y="27.5" textLength="39.6" lengthAdjust="spacingAndGlyphs">30</text>
<path class="tk" d="M156.46 1440.10v-10M187.02 1440.10v-15M217.58 1440.10v-10M248.14 1440.10v-15M278.70 1440.10v-10M309.26 1440.10v-15M339.82 1440.10v-10M370.38 1440.10v-15M400.94 1440.10v-10M431.50 1440.10v-15M462.06 1440.10v-10M492.62 1440.10v-15M523.18 1440.10v-10M553.74 1440.10v-15M584.30 1440.10v-10M614.86 1440.10v-15M645.42 1440.10v-10M675.98 1440.10v-15M706.54 1440.10v-10M125.90 1378.96h10M125.90 1317.82h15M125.90 1256.68h10M125.90 1195.54h15M125.90 1134.40h10M125.90 1073.26h15M125.90 1012.12h10M125.90 950.98h15M125.90 889.84h10"/>
<rect class="ax" x="125.90" y="828.70" width="611.20" height="611.40"/>
<text class="t" text-anchor="middle" x="125.9" y="1481.5" textLength="19.8" lengthAdjust="spacingAndGlyphs">0</text>
<text class="t" text-anchor="middle" x="187.0" y="1481.5" textLength="19.8" lengthAdjust="spacingAndGlyphs">1</text>
<text class="t" text-anchor="middle" x="248.1" y="1481.5" textLength="19.8" lengthAdjust="spacingAndGlyphs">2</text>
<text class="t" text-anchor="middle" x="309.3" y="1481.5" textLength="19.8" lengthAdjust="spacingAndGlyphs">3</text>
<text class="t" text-anchor="middle" x="370.4" y="1481.5" textLength="19.8" lengthAdjust="spacingAndGlyphs">4</text>
<text class="t" text-anchor="middle" x="431.5" y="1481.5" textLength="19.8" lengthAdjust="spacingAndGlyphs">5</text>
<text class="t" text-anchor="middle" x="492.6" y="1481.5" textLength="19.8" lengthAdjust="spacingAndGlyphs">6</text>
<text class="t" text-anchor="middle" x="553.7" y="1481.5" textLength="19.8" lengthAdjust="spacingAndGlyphs">7</text>
<text class="t" text-anchor="middle" x="614.9" y="1481.5" textLength="19.8" lengthAdjust="spacingAndGlyphs">8</text>
<text class="t" text-anchor="middle" x="676.0" y="1481.5" textLength="19.8" lengthAdjust="spacingAndGlyphs">9</text>
<text class="t" text-anchor="middle" x="737.7" y="1481.5" textLength="39.6" lengthAdjust="spacingAndGlyphs">10</text>
<text class="t" text-anchor="end" x="110.4" y="1453.8" textLength="19.8" lengthAdjust="spacingAndGlyphs">0</text>
<text class="t" text-anchor="end" x="110.4" y="1331.5" textLength="39.6" lengthAdjust="spacingAndGlyphs">10</text>
<text class="t" text-anchor="end" x="110.4" y="1209.2" textLength="39.6" lengthAdjust="spacingAndGlyphs">20</text>
<text class="t" text-anchor="end" x="110.4" y="1087.0" textLength="39.6" lengthAdjust="spacingAndGlyphs">30</text>
<text class="t" text-anchor="end" x="110.4" y="964.7" textLength="39.6" lengthAdjust="spacingAndGlyphs">40</text>
<text class="t" text-anchor="end" x="110.4" y="842.4" textLength="39.6" lengthAdjust="spacingAndGlyphs">50</text>
<path class="tk" d="M971.56 1440.10v-10M1002.12 1440.10v-15M1032.68 1440.10v-10M1063.24 1440.10v-15M1093.80 1440.10v-10M1124.36 1440.10v-15M1154.92 1440.10v-10M1185.48 1440.10v-15M1216.04 1440.10v-10M1246.60 1440.10v-15M1277.16 1440.10v-10M1307.72 1440.10v-15M1338.28 1440.10v-10M1368.84 1440.10v-15M1399.40 1440.10v-10M1429.96 1440.10v-15M1460.52 1440.10v-10M1491.08 1440.10v-15M1521.64 1440.10v-10M941.00 1378.96h10M941.00 1317.82h15M941.00 1256.68h10M941.00 1195.54h15M941.00 1134.40h10M941.00 1073.26h15M941.00 1012.12h10M941.00 950.98h15M941.00 889.84h10"/>
<rect class="ax" x="941.00" y="828.70" width="611.20" height="611.40"/>
<text class="t" text-anchor="middle" x="941.0" y="1481.5" textLength="19.8" lengthAdjust="spacingAndGlyphs">0</text>
<text class="t" text-anchor="middle" x="1002.1" y="1481.5" textLength="19.8" lengthAdjust="spacingAndGlyphs">1</text>
<text class="t" text-anchor="middle" x="1063.2" y="1481.5" textLength="19.8" lengthAdjust="spacingAndGlyphs">2</text>
<text class="t" text-anchor="middle" x="1124.4" y="1481.5" textLength="19.8" lengthAdjust="spacingAndGlyphs">3</text>
<text class="t" text-anchor="middle" x="1185.5" y="1481.5" textLength="19.8" lengthAdjust="spacingAndGlyphs">4</text>
<text class="t" text-anchor="middle" x="1246.6" y="1481.5" textLength="19.8" lengthAdjust="spacingAndGlyphs">5</text>
<text class="t" text-anchor="middle" x="1307.7" y="1481.5" textLength="19.8" lengthAdjust="spacingAndGlyphs">6</text>
<text class="t" text-anchor="middle" x="1368.8" y="1481.5" textLength="19.8" lengthAdjust="spacingAndGlyphs">7</text>
<text class="t" text-anchor="middle" x="1430.0" y="1481.5" textLength="19.8" lengthAdjust="spacingAndGlyphs">8</text>
<text class="t" text-anchor="middle" x="1491.1" y="1481.5" textLength="19.8" lengthAdjust="spacingAndGlyphs">9</text>
<text class="t" text-anchor="middle" x="1552.8" y="1481.5" textLength="39.6" lengthAdjust="spacingAndGlyphs">10</text>
<text class="t" text-anchor="end" x="925.5" y="1453.8" textLength="19.8" lengthAdjust="spacingAndGlyphs">0</text>
<text class="t" text-anchor="end" x="925.5" y="1331.5" textLength="39.6" lengthAdjust="spacingAndGlyphs">10</text>
<text class="t" text-anchor="end" x="925.5" y="1209.2" textLength="39.6" lengthAdjust="spacingAndGlyphs">20</text>
<text class="t" text-anchor="end" x="925.5" y="1087.0" textLength="39.6" lengthAdjust="spacingAndGlyphs">30</text>
<text class="t" text-anchor="end" x="925.5" y="964.7" textLength="39.6" lengthAdjust="spacingAndGlyphs">40</text>
<text class="t" text-anchor="end" x="925.5" y="842.4" textLength="39.6" lengthAdjust="spacingAndGlyphs">50</text>
<text class="l"><tspan x="157.6" y="63.5" textLength="14.0" lengthAdjust="spacingAndGlyphs" font-weight="bold" font-size="42.9">(</tspan><tspan x="173.4" y="62.4" textLength="18.4" lengthAdjust="spacingAndGlyphs" font-weight="bold">a</tspan><tspan x="196.3" y="63.5" textLength="13.5" lengthAdjust="spacingAndGlyphs" font-weight="bold" font-size="42.9">)</tspan> <tspan x="224.0" y="62.4" textLength="39.1" lengthAdjust="spacingAndGlyphs">32</tspan> <tspan x="270.9" y="62.4" textLength="51.4" lengthAdjust="spacingAndGlyphs">wt.</tspan><tspan x="321.7" y="63.9" textLength="32.1" lengthAdjust="spacingAndGlyphs" font-size="46.0">%</tspan><tspan x="354.2" y="62.4" textLength="11.5" lengthAdjust="spacingAndGlyphs">,</tspan> <tspan x="378.0" y="62.4" textLength="38.6" lengthAdjust="spacingAndGlyphs">60</tspan> <tspan x="422.1" y="62.4" textLength="17.6" lengthAdjust="spacingAndGlyphs">°</tspan><tspan x="441.6" y="62.4" textLength="25.2" lengthAdjust="spacingAndGlyphs" font-size="43.0">C</tspan><tspan x="464.1" y="62.4" textLength="12.7" lengthAdjust="spacingAndGlyphs">,</tspan> <tspan x="489.8" y="62.4" textLength="67.7" lengthAdjust="spacingAndGlyphs">0.35</tspan> <tspan x="566.2" y="62.4" textLength="19.8" lengthAdjust="spacingAndGlyphs" font-size="43.0">L</tspan> <tspan x="594.3" y="62.4" textLength="59.8" lengthAdjust="spacingAndGlyphs">min</tspan><tspan x="655.2" y="47.5" textLength="37.2" lengthAdjust="spacingAndGlyphs" font-size="27.3">−1</tspan><tspan x="693.5" y="62.4" textLength="12.7" lengthAdjust="spacingAndGlyphs">,</tspan></text>
<text class="l"><tspan x="972.2" y="63.5" textLength="14.0" lengthAdjust="spacingAndGlyphs" font-weight="bold" font-size="42.9">(</tspan><tspan x="986.6" y="62.4" textLength="22.6" lengthAdjust="spacingAndGlyphs" font-weight="bold">b</tspan><tspan x="1011.9" y="63.5" textLength="13.5" lengthAdjust="spacingAndGlyphs" font-weight="bold" font-size="42.9">)</tspan> <tspan x="1039.1" y="62.4" textLength="39.1" lengthAdjust="spacingAndGlyphs">32</tspan> <tspan x="1086.0" y="62.4" textLength="51.4" lengthAdjust="spacingAndGlyphs">wt.</tspan><tspan x="1136.8" y="63.9" textLength="32.1" lengthAdjust="spacingAndGlyphs" font-size="46.0">%</tspan><tspan x="1169.3" y="62.4" textLength="11.5" lengthAdjust="spacingAndGlyphs">,</tspan> <tspan x="1193.1" y="62.4" textLength="38.6" lengthAdjust="spacingAndGlyphs">60</tspan> <tspan x="1237.2" y="62.4" textLength="17.6" lengthAdjust="spacingAndGlyphs">°</tspan><tspan x="1256.7" y="62.4" textLength="25.2" lengthAdjust="spacingAndGlyphs" font-size="43.0">C</tspan><tspan x="1279.2" y="62.4" textLength="12.7" lengthAdjust="spacingAndGlyphs">,</tspan> <tspan x="1304.9" y="62.4" textLength="67.7" lengthAdjust="spacingAndGlyphs">0.35</tspan> <tspan x="1381.3" y="62.4" textLength="19.8" lengthAdjust="spacingAndGlyphs" font-size="43.0">L</tspan> <tspan x="1409.4" y="62.4" textLength="59.8" lengthAdjust="spacingAndGlyphs">min</tspan><tspan x="1470.3" y="47.5" textLength="37.2" lengthAdjust="spacingAndGlyphs" font-size="27.3">−1</tspan><tspan x="1508.6" y="62.4" textLength="12.7" lengthAdjust="spacingAndGlyphs">,</tspan></text>
<text class="l"><tspan x="184.9" y="879.0" textLength="13.2" lengthAdjust="spacingAndGlyphs" font-weight="bold" font-size="42.9">(</tspan><tspan x="199.8" y="877.9" textLength="19.6" lengthAdjust="spacingAndGlyphs" font-weight="bold">c</tspan><tspan x="221.4" y="879.0" textLength="13.7" lengthAdjust="spacingAndGlyphs" font-weight="bold" font-size="42.9">)</tspan> <tspan x="249.8" y="877.9" textLength="18.7" lengthAdjust="spacingAndGlyphs">5</tspan> <tspan x="276.1" y="877.9" textLength="61.9" lengthAdjust="spacingAndGlyphs">bar,</tspan> <tspan x="350.7" y="877.9" textLength="38.4" lengthAdjust="spacingAndGlyphs">60</tspan> <tspan x="395.8" y="877.9" textLength="17.1" lengthAdjust="spacingAndGlyphs">°</tspan><tspan x="414.9" y="877.9" textLength="23.0" lengthAdjust="spacingAndGlyphs" font-size="43.0">C</tspan><tspan x="437.5" y="877.9" textLength="12.4" lengthAdjust="spacingAndGlyphs">,</tspan> <tspan x="462.6" y="877.9" textLength="69.2" lengthAdjust="spacingAndGlyphs">0.35</tspan> <tspan x="539.3" y="877.9" textLength="19.9" lengthAdjust="spacingAndGlyphs" font-size="43.0">L</tspan> <tspan x="567.0" y="877.9" textLength="60.3" lengthAdjust="spacingAndGlyphs">min</tspan><tspan x="628.5" y="863.0" textLength="37.2" lengthAdjust="spacingAndGlyphs" font-size="27.3">−1</tspan><tspan x="667.0" y="877.9" textLength="12.7" lengthAdjust="spacingAndGlyphs">,</tspan></text>
<text class="l"><tspan x="999.5" y="879.0" textLength="13.2" lengthAdjust="spacingAndGlyphs" font-weight="bold" font-size="42.9">(</tspan><tspan x="1014.3" y="877.9" textLength="22.1" lengthAdjust="spacingAndGlyphs" font-weight="bold">d</tspan><tspan x="1037.0" y="879.0" textLength="13.7" lengthAdjust="spacingAndGlyphs" font-weight="bold" font-size="42.9">)</tspan> <tspan x="1064.9" y="877.9" textLength="18.7" lengthAdjust="spacingAndGlyphs">5</tspan> <tspan x="1091.2" y="877.9" textLength="61.9" lengthAdjust="spacingAndGlyphs">bar,</tspan> <tspan x="1165.8" y="877.9" textLength="38.4" lengthAdjust="spacingAndGlyphs">60</tspan> <tspan x="1210.9" y="877.9" textLength="17.1" lengthAdjust="spacingAndGlyphs">°</tspan><tspan x="1230.0" y="877.9" textLength="23.0" lengthAdjust="spacingAndGlyphs" font-size="43.0">C</tspan><tspan x="1252.6" y="877.9" textLength="12.4" lengthAdjust="spacingAndGlyphs">,</tspan> <tspan x="1277.7" y="877.9" textLength="69.2" lengthAdjust="spacingAndGlyphs">0.35</tspan> <tspan x="1354.4" y="877.9" textLength="19.9" lengthAdjust="spacingAndGlyphs" font-size="43.0">L</tspan> <tspan x="1382.1" y="877.9" textLength="60.3" lengthAdjust="spacingAndGlyphs">min</tspan><tspan x="1443.6" y="863.0" textLength="37.2" lengthAdjust="spacingAndGlyphs" font-size="27.3">−1</tspan><tspan x="1482.1" y="877.9" textLength="12.7" lengthAdjust="spacingAndGlyphs">,</tspan></text>
<text class="l"><tspan x="383.5" y="110.8" textLength="95.2" lengthAdjust="spacingAndGlyphs">mixed</tspan></text>
<text class="l"><tspan x="1169.2" y="110.8" textLength="153.8" lengthAdjust="spacingAndGlyphs">separated</tspan></text>
<text class="l"><tspan x="383.5" y="926.3" textLength="95.2" lengthAdjust="spacingAndGlyphs">mixed</tspan></text>
<text class="l"><tspan x="1169.2" y="926.3" textLength="153.8" lengthAdjust="spacingAndGlyphs">separated</tspan></text>
<text class="l"><tspan x="211.5" y="728.5" textLength="124.2" lengthAdjust="spacingAndGlyphs">current</tspan> <tspan x="350.2" y="728.5" textLength="119.4" lengthAdjust="spacingAndGlyphs">density</tspan> <tspan x="486.8" y="734.1" textLength="19.1" lengthAdjust="spacingAndGlyphs" class="sl" font-size="52.2">/</tspan> <tspan x="521.4" y="728.5" textLength="46.8" lengthAdjust="spacingAndGlyphs" font-size="42.5">kA</tspan> <tspan x="576.2" y="728.5" textLength="33.3" lengthAdjust="spacingAndGlyphs">m</tspan><tspan x="610.3" y="713.1" textLength="38.9" lengthAdjust="spacingAndGlyphs" font-size="27.3">−2</tspan></text>
<text class="l"><tspan x="211.5" y="1543.9" textLength="124.2" lengthAdjust="spacingAndGlyphs">current</tspan> <tspan x="350.2" y="1543.9" textLength="119.4" lengthAdjust="spacingAndGlyphs">density</tspan> <tspan x="486.8" y="1549.6" textLength="19.1" lengthAdjust="spacingAndGlyphs" class="sl" font-size="52.2">/</tspan> <tspan x="521.4" y="1543.9" textLength="46.8" lengthAdjust="spacingAndGlyphs" font-size="42.5">kA</tspan> <tspan x="576.2" y="1543.9" textLength="33.3" lengthAdjust="spacingAndGlyphs">m</tspan><tspan x="610.3" y="1528.5" textLength="38.9" lengthAdjust="spacingAndGlyphs" font-size="27.3">−2</tspan></text>
<text class="l"><tspan x="1026.6" y="728.5" textLength="124.2" lengthAdjust="spacingAndGlyphs">current</tspan> <tspan x="1165.3" y="728.5" textLength="119.4" lengthAdjust="spacingAndGlyphs">density</tspan> <tspan x="1301.9" y="734.1" textLength="19.1" lengthAdjust="spacingAndGlyphs" class="sl" font-size="52.2">/</tspan> <tspan x="1336.5" y="728.5" textLength="46.8" lengthAdjust="spacingAndGlyphs" font-size="42.5">kA</tspan> <tspan x="1391.3" y="728.5" textLength="33.3" lengthAdjust="spacingAndGlyphs">m</tspan><tspan x="1425.4" y="713.1" textLength="38.9" lengthAdjust="spacingAndGlyphs" font-size="27.3">−2</tspan></text>
<text class="l"><tspan x="1026.6" y="1543.9" textLength="124.2" lengthAdjust="spacingAndGlyphs">current</tspan> <tspan x="1165.3" y="1543.9" textLength="119.4" lengthAdjust="spacingAndGlyphs">density</tspan> <tspan x="1301.9" y="1549.6" textLength="19.1" lengthAdjust="spacingAndGlyphs" class="sl" font-size="52.2">/</tspan> <tspan x="1336.5" y="1543.9" textLength="46.8" lengthAdjust="spacingAndGlyphs" font-size="42.5">kA</tspan> <tspan x="1391.3" y="1543.9" textLength="33.3" lengthAdjust="spacingAndGlyphs">m</tspan><tspan x="1425.4" y="1528.5" textLength="38.9" lengthAdjust="spacingAndGlyphs" font-size="27.3">−2</tspan></text>
<text class="l" transform="translate(32.4,319.0) rotate(-90)"><tspan x="-121.8" y="0.0" textLength="139.9" lengthAdjust="spacingAndGlyphs">pressure</tspan> <tspan x="32.8" y="5.7" textLength="18.3" lengthAdjust="spacingAndGlyphs" class="sl" font-size="52.2">/</tspan> <tspan x="66.9" y="0.0" textLength="54.8" lengthAdjust="spacingAndGlyphs">bar</tspan></text>
<text class="l" transform="translate(32.4,1134.0) rotate(-90)"><tspan x="-284.2" y="0.0" textLength="178.8" lengthAdjust="spacingAndGlyphs">electrolyte</tspan> <tspan x="-92.9" y="0.0" textLength="237.7" lengthAdjust="spacingAndGlyphs">concentration</tspan> <tspan x="159.8" y="5.7" textLength="18.8" lengthAdjust="spacingAndGlyphs" class="sl" font-size="52.2">/</tspan> <tspan x="194.6" y="0.0" textLength="55.3" lengthAdjust="spacingAndGlyphs">wt.</tspan><tspan x="250.5" y="1.5" textLength="33.8" lengthAdjust="spacingAndGlyphs" font-size="46.0">%</tspan></text>
<text class="l" transform="translate(847.5,319.0) rotate(-90)"><tspan x="-121.8" y="0.0" textLength="139.9" lengthAdjust="spacingAndGlyphs">pressure</tspan> <tspan x="32.8" y="5.7" textLength="18.3" lengthAdjust="spacingAndGlyphs" class="sl" font-size="52.2">/</tspan> <tspan x="66.9" y="0.0" textLength="54.8" lengthAdjust="spacingAndGlyphs">bar</tspan></text>
<text class="l" transform="translate(847.5,1134.0) rotate(-90)"><tspan x="-284.2" y="0.0" textLength="178.8" lengthAdjust="spacingAndGlyphs">electrolyte</tspan> <tspan x="-92.9" y="0.0" textLength="237.7" lengthAdjust="spacingAndGlyphs">concentration</tspan> <tspan x="159.8" y="5.7" textLength="18.8" lengthAdjust="spacingAndGlyphs" class="sl" font-size="52.2">/</tspan> <tspan x="194.6" y="0.0" textLength="55.3" lengthAdjust="spacingAndGlyphs">wt.</tspan><tspan x="250.5" y="1.5" textLength="33.8" lengthAdjust="spacingAndGlyphs" font-size="46.0">%</tspan></text>
<text class="l"><tspan x="690.6" y="1768.2" textLength="29.0" lengthAdjust="spacingAndGlyphs" font-size="43.0">H</tspan><tspan x="720.0" y="1775.4" textLength="15.9" lengthAdjust="spacingAndGlyphs" font-size="27.3">2</tspan> <tspan x="749.0" y="1768.2" textLength="32.0" lengthAdjust="spacingAndGlyphs">in</tspan> <tspan x="794.9" y="1768.2" textLength="30.7" lengthAdjust="spacingAndGlyphs" font-size="43.0">O</tspan><tspan x="825.8" y="1775.4" textLength="15.6" lengthAdjust="spacingAndGlyphs" font-size="27.3">2</tspan> <tspan x="856.4" y="1773.9" textLength="18.1" lengthAdjust="spacingAndGlyphs" class="sl" font-size="52.2">/</tspan> <tspan x="891.2" y="1768.2" textLength="60.9" lengthAdjust="spacingAndGlyphs">vol.</tspan><tspan x="952.9" y="1769.7" textLength="33.6" lengthAdjust="spacingAndGlyphs" font-size="46.0">%</tspan></text>
<defs><linearGradient id="cb" x1="0" x2="1" y1="0" y2="0">
<stop offset="0.00" stop-color="#377eb8"/>
<stop offset="0.25" stop-color="#4daf4a"/>
<stop offset="0.50" stop-color="#ffff33"/>
<stop offset="0.75" stop-color="#ff7f00"/>
<stop offset="1.00" stop-color="#e41a1c"/>
</linearGradient></defs>
<rect x="176.40" y="1614.70" width="1324.80" height="50.70" fill="url(#cb)"/>
<path class="tk" d="M342.00 1614.70v15M342.00 1665.40v-15M507.60 1614.70v15M507.60 1665.40v-15M673.20 1614.70v15M673.20 1665.40v-15M838.80 1614.70v15M838.80 1665.40v-15M1004.40 1614.70v15M1004.40 1665.40v-15M1170.00 1614.70v15M1170.00 1665.40v-15M1335.60 1614.70v15M1335.60 1665.40v-15"/>
<rect class="ax" x="176.40" y="1614.70" width="1324.80" height="50.70"/>
<text class="t" text-anchor="middle" x="176.4" y="1706.8" textLength="50.5" lengthAdjust="spacingAndGlyphs">0.0</text>
<text class="t" text-anchor="middle" x="342.0" y="1706.8" textLength="50.5" lengthAdjust="spacingAndGlyphs">0.5</text>
<text class="t" text-anchor="middle" x="507.6" y="1706.8" textLength="50.5" lengthAdjust="spacingAndGlyphs">1.0</text>
<text class="t" text-anchor="middle" x="673.2" y="1706.8" textLength="50.5" lengthAdjust="spacingAndGlyphs">1.5</text>
<text class="t" text-anchor="middle" x="838.8" y="1706.8" textLength="50.5" lengthAdjust="spacingAndGlyphs">2.0</text>
<text class="t" text-anchor="middle" x="1004.4" y="1706.8" textLength="50.5" lengthAdjust="spacingAndGlyphs">2.5</text>
<text class="t" text-anchor="middle" x="1170.0" y="1706.8" textLength="50.5" lengthAdjust="spacingAndGlyphs">3.0</text>
<text class="t" text-anchor="middle" x="1335.6" y="1706.8" textLength="50.5" lengthAdjust="spacingAndGlyphs">3.5</text>
<text class="t" text-anchor="middle" x="1501.2" y="1706.8" textLength="50.5" lengthAdjust="spacingAndGlyphs">4.0</text>
</svg></body></html>
